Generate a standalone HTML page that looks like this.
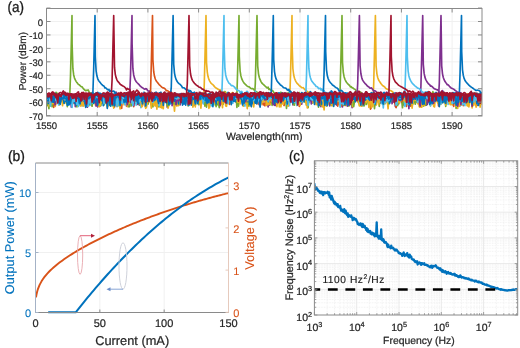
<!DOCTYPE html>
<html><head><meta charset="utf-8"><title>Figure</title>
<style>html,body{margin:0;padding:0;background:#fff;width:520px;height:348px;overflow:hidden}svg{display:block}</style>
</head><body>
<svg width="520" height="348" viewBox="0 0 520 348" text-rendering="geometricPrecision" font-family='"Liberation Sans", Arial, Helvetica, sans-serif'><text x="7.6" y="12.3" font-size="15" textLength="16.5" lengthAdjust="spacingAndGlyphs" fill="#1a1a1a" stroke="#1a1a1a" stroke-width="0.3">(a)</text>
<path d="M97.2,8.5V116.0 M147.9,8.5V116.0 M198.6,8.5V116.0 M249.3,8.5V116.0 M300,8.5V116.0 M350.7,8.5V116.0 M401.4,8.5V116.0 M452.1,8.5V116.0 M46.5,21.5H482.0 M46.5,34.94H482.0 M46.5,48.38H482.0 M46.5,61.82H482.0 M46.5,75.26H482.0 M46.5,88.7H482.0 M46.5,102.14H482.0" stroke="#f0f0f0" stroke-width="1" fill="none"/>
<clipPath id="ca"><rect x="46.5" y="8.5" width="435.5" height="107.5"/></clipPath>
<g clip-path="url(#ca)" fill="none" stroke-width="1.65" stroke-linejoin="round">
<polyline stroke="#7E2F8E" points="46.5,96.29 47.3,96.5 48.1,101.64 48.9,100.63 49.7,103.09 50.5,97.12 51.3,97.67 52.1,99.07 52.9,99.09 53.7,98.94 54.5,97.8 55.3,96.42 56.1,97.16 56.9,96.76 57.7,95.99 58.5,97.03 59.3,104.52 60.1,96.65 60.9,97.43 61.7,98.32 62.5,96.57 63.3,95.93 64.1,97.35 64.9,99.58 65.7,96.46 66.5,96.2 67.3,93.99 68.1,95.2 68.9,97.81 69.7,97.08 70.5,96.07 71.3,96.17 72.1,96.02 72.9,95.95 73.7,100.48 74.5,94.84 75.3,96.57 76.1,97.26 76.9,97.16 77.7,97.7 78.5,98.66 79.3,98.47 80.1,96.81 80.9,94.92 81.7,95.51 82.5,98.31 83.3,98.29 84.1,100.85 84.9,99.32 85.7,106.78 86.5,96.36 87.3,94.68 88.1,103.26 88.9,96.99 89.7,97.65 90.5,96.32 91.3,95.17 92.1,96.52 92.9,97.22 93.7,96.58 94.5,96.82 95.3,97.86 96.1,98.4 96.9,97.83 97.7,96.58 98.5,95.06 99.3,95.12 100.1,95.91 100.9,101.21 101.7,96.06 102.5,95.58 103.3,95.67 104.1,96.85 104.9,97.87 105.7,98.3 106.5,100.17 107.3,100.84 108.1,99.15 108.9,98.07 109.7,103.73 110.5,94.2 111.3,96.79 112.1,98.02 112.9,101.61 113.7,96.08 114.5,96.81 115.3,96.69 116.1,95.61 116.9,96.29 117.7,97.86 118.5,97.54 119.3,105.39 120.1,97.98 120.9,97.7 121.7,97.09 122.5,95.9 123.3,99.31 124.1,96.91 124.9,97.58 125.7,98.66 126.5,106.13 127.3,99.38 128.1,98.47 128.9,98.81 129.7,106.43 130.5,98.03 131.3,97.49 132.1,96.87 132.9,96.2 133.7,97.1 134.5,97.9 135.3,103.22 136.1,94.03 136.9,96.07 137.7,104.41 138.5,97.82 139.3,97.44 140.1,96.31 140.9,96.79 141.7,97.73 142.5,98.29 143.3,99 144.1,98.06 144.9,96.04 145.7,95.48 146.5,95.56 147.3,96.56 148.1,97.91 148.9,98.05 149.7,97.73 150.5,97.38 151.3,97.46 152.1,98.35 152.9,99.36 153.7,97.66 154.5,95.53 155.3,97.26 156.1,98.41 156.9,96.07 157.7,95.62 158.5,100.7 159.3,98.45 160.1,98.94 160.9,104.53 161.7,96.98 162.5,96.25 163.3,97.19 164.1,97.42 164.9,102.08 165.7,97.28 166.5,98.06 167.3,99.17 168.1,98.25 168.9,101.8 169.7,96.35 170.5,96.74 171.3,96.91 172.1,97.72 172.9,97.32 173.7,96.46 174.5,96.85 175.3,97.16 176.1,96.05 176.9,102.86 177.7,94.8 178.5,96.17 179.3,98.19 180.1,104.98 180.9,95.77 181.7,94.92 182.5,95.94 183.3,95.61 184.1,94.79 184.9,94.5 185.7,95.27 186.5,95.74 187.3,102.84 188.1,96.84 188.9,96.11 189.7,94.93 190.5,94 191.3,92.65 192.1,94.28 192.9,106.02 193.7,99.25 194.5,97.48 195.3,97.59 196.1,96.9 196.9,96.75 197.7,99.83 198.5,100.53 199.3,97.8 200.1,96.7 200.9,97.04 201.7,97.46 202.5,98.91 203.3,99.49 204.1,98.66 204.9,99.29 205.7,99.29 206.5,97.23 207.3,96.23 208.1,96.92 208.9,98.26 209.7,98.98 210.5,99.14 211.3,98.5 212.1,102.26 212.9,103.09 213.7,96.58 214.5,94.71 215.3,101.3 216.1,96.68 216.9,96.57 217.7,103.08 218.5,97.82 219.3,99.03 220.1,97.86 220.9,96.13 221.7,96.32 222.5,96.91 223.3,96.32 224.1,95.42 224.9,97.5 225.7,100.2 226.5,100.5 227.3,102.06 228.1,102.81 228.9,98.77 229.7,95.3 230.5,96.59 231.3,98.94 232.1,98.06 232.9,95.77 233.7,95.76 234.5,96.63 235.3,96.78 236.1,96.21 236.9,95.28 237.7,95.34 238.5,96.8 239.3,101.21 240.1,97.24 240.9,96.61 241.7,96.61 242.5,97.83 243.3,97.81 244.1,97.76 244.9,97.39 245.7,94.36 246.5,93.96 247.3,95.89 248.1,95.78 248.9,97.49 249.7,99.85 250.5,104.81 251.3,96.62 252.1,97.42 252.9,98.34 253.7,97.97 254.5,100.9 255.3,95.06 256.1,95.52 256.9,95.52 257.7,95.09 258.5,96.74 259.3,98.88 260.1,98.41 260.9,95.23 261.7,99.29 262.5,94.43 263.3,95.17 264.1,96.02 264.9,96.57 265.7,97.09 266.5,97.17 267.3,95.81 268.1,94.32 268.9,95.04 269.7,105.26 270.5,98.01 271.3,96.93 272.1,94.7 272.9,94.96 273.7,96.57 274.5,105.13 275.3,105.44 276.1,97.01 276.9,100.39 277.7,96.86 278.5,97.48 279.3,101.87 280.1,102.5 280.9,98.99 281.7,98.73 282.5,97.48 283.3,96.67 284.1,104.66 284.9,95.48 285.7,94.54 286.5,96.57 287.3,97.65 288.1,102.67 288.9,97.31 289.7,102.85 290.5,95.46 291.3,97.13 292.1,95.89 292.9,97.91 293.7,103.86 294.5,97.88 295.3,98.97 296.1,98.23 296.9,96.4 297.7,100.26 298.5,94.89 299.3,93.81 300.1,95.02 300.9,94.53 301.7,97.97 302.5,96.11 303.3,98.6 304.1,98.95 304.9,96.62 305.7,94.1 306.5,95.11 307.3,101.84 308.1,98.89 308.9,101.14 309.7,96.85 310.5,96.7 311.3,96.41 312.1,96.42 312.9,96.99 313.7,96.88 314.5,100.14 315.3,96.4 316.1,94.89 316.9,93.51 317.7,94.67 318.5,97.42 319.3,98.73 320.1,98.68 320.9,106.7 321.7,99.39 322.5,96.09 323.3,95.34 324.1,97.64 324.9,99.41 325.7,98.87 326.5,97.5 327.3,94.85 328.1,93.16 328.9,95.48 329.7,105.97 330.5,102 331.3,97.74 332.1,97.81 332.9,101.66 333.7,98.15 334.5,97.49 335.3,95.33 336.1,93.86 336.9,94.91 337.7,96.33 338.5,96.48 339.3,96.86 340.1,97.6 340.9,98.35 341.7,99.71 342.5,99.04 343.3,96.8 344.1,96.34 344.9,101.51 345.7,96.44 346.5,98.95 347.3,98.86 348.1,96.79 348.9,96.37 349.7,100.87 350.5,95.49 351.3,96.61 352.1,107.57 352.9,98.29 353.7,98.88 354.5,96.88 355.3,98.1 356.1,95.83 356.9,94.15 357.7,94.81 358.5,96.58 359.3,98.18 360.1,96.77 360.9,94.23 361.7,94.23 362.5,95.18 363.3,96.46 364.1,98.1 364.9,99.16 365.7,97.74 366.5,96.54 367.3,97.06 368.1,95.94 368.9,102.98 369.7,98.28 370.5,98.45 371.3,97.75 372.1,97.5 372.9,103.49 373.7,98.44 374.5,98.42 375.3,104.72 376.1,99.22 376.9,97.1 377.7,96.64 378.5,98.22 379.3,98.22 380.1,98.29 380.9,97.94 381.7,96.62 382.5,95.88 383.3,95.62 384.1,96.55 384.9,96.92 385.7,97.32 386.5,97.54 387.3,96.59 388.1,96.17 388.9,96.09 389.7,97.15 390.5,98.32 391.3,97.6 392.1,103.79 392.9,96.05 393.7,97.36 394.5,98.58 395.3,98.67 396.1,97.77 396.9,98.99 397.7,99.96 398.5,97.31 399.3,96.34 400.1,98.8 400.9,99.75 401.7,99.25 402.5,98.53 403.3,97.56 404.1,98.08 404.9,97.88 405.7,96.97 406.5,97.1 407.3,97.34 408.1,98.59 408.9,108.75 409.7,98.79 410.5,95.71 411.3,102.88 412.1,96.67 412.9,96.53 413.7,101.48 414.5,95.31 415.3,94.86 416.1,102.28 416.9,100.24 417.7,100.07 418.5,98.74 419.3,103.17 420.1,95.81 420.9,98.44 421.7,99.52 422.5,97.24 423.3,97.03 424.1,99.26 424.9,98.67 425.7,97.16 426.5,96.81 427.3,97.71 428.1,102.55 428.9,99.64 429.7,98.16 430.5,95.01 431.3,95 432.1,97.34 432.9,99.48 433.7,100.16 434.5,98.59 435.3,97.13 436.1,96.96 436.9,97.7 437.7,98.38 438.5,97.4 439.3,83.41 440.1,51.87 440.9,19.62 441,15.59 441.7,66.01 442.5,73.82 443.3,77.5 444.1,79.73 444.9,81.29 445.7,82.48 446.5,83.45 447.3,84.69 448.1,84.91 448.9,85.65 449.7,86.83 450.5,87.23 451.3,88.23 452.1,88.36 452.9,88.79 453.7,89.14 454.5,89.82 455.3,90.59 456.1,91.05 456.9,91.65 457.7,92.03 458.5,92.55 459.3,94.52 460.1,92.94 460.9,92.66 461.7,95.2 462.5,93.81 463.3,94.37 464.1,94.82 464.9,94.89 465.7,94.82 466.5,95.16 467.3,99.08 468.1,97.09 468.9,94.78 469.7,95.4 470.5,95.48 471.3,95.89 472.1,96.69 472.9,95.85 473.7,94.97 474.5,95.07 475.3,99.49 476.1,96.58 476.9,96.27 477.7,95.16 478.5,95.05 479.3,99.84 480.1,97.53 480.9,95.76 481.7,94.45"/>
<polyline stroke="#7E2F8E" points="46.5,96.29 47.3,95.72 48.1,96.55 48.9,97.55 49.7,98.6 50.5,98.94 51.3,96.57 52.1,94.47 52.9,104.18 53.7,98.13 54.5,97.99 55.3,105.29 56.1,95.87 56.9,94.69 57.7,93.73 58.5,94.12 59.3,94.49 60.1,95.01 60.9,96.73 61.7,98.38 62.5,97.95 63.3,97.11 64.1,98.58 64.9,99.23 65.7,97.29 66.5,96.99 67.3,97.78 68.1,97.55 68.9,96.97 69.7,97.22 70.5,98.82 71.3,107.21 72.1,96.9 72.9,99.33 73.7,97.56 74.5,98.35 75.3,106.78 76.1,96.61 76.9,95.93 77.7,96.37 78.5,100.01 79.3,94.91 80.1,96.28 80.9,97 81.7,99.37 82.5,100.94 83.3,105.32 84.1,98.4 84.9,97.82 85.7,97.61 86.5,98.41 87.3,107.26 88.1,103.5 88.9,98.78 89.7,98.88 90.5,98.54 91.3,104.9 92.1,100.06 92.9,102.4 93.7,97.06 94.5,95.6 95.3,96.28 96.1,104.71 96.9,99.11 97.7,106.96 98.5,98.15 99.3,98.37 100.1,96.79 100.9,97.11 101.7,97.91 102.5,96.14 103.3,94.92 104.1,94.9 104.9,95.03 105.7,95.05 106.5,94.18 107.3,102.63 108.1,95.09 108.9,94.79 109.7,95.52 110.5,97.16 111.3,103.56 112.1,97.25 112.9,101.26 113.7,97.57 114.5,96.54 115.3,95.67 116.1,97.64 116.9,99.61 117.7,97.95 118.5,96.47 119.3,97.29 120.1,98.75 120.9,99.45 121.7,97.9 122.5,102.69 123.3,97.28 124.1,98.19 124.9,103.61 125.7,96.07 126.5,96.46 127.3,97.88 128.1,96.71 128.9,94.72 129.7,96.85 130.5,98.46 131.3,98.3 132.1,97.52 132.9,94.69 133.7,94.12 134.5,97.71 135.3,98.77 136.1,95.6 136.9,93.93 137.7,94.14 138.5,98.28 139.3,105.18 140.1,98.5 140.9,99.69 141.7,98.94 142.5,96.85 143.3,95.48 144.1,94.1 144.9,95.56 145.7,97.04 146.5,94.91 147.3,93.48 148.1,101.71 148.9,97.82 149.7,96.16 150.5,95 151.3,97.02 152.1,97.45 152.9,100.96 153.7,96.63 154.5,98.41 155.3,98.52 156.1,97.84 156.9,96.8 157.7,95.64 158.5,94.67 159.3,96.09 160.1,98.11 160.9,96.66 161.7,94.98 162.5,98.07 163.3,95.44 164.1,97.45 164.9,97.79 165.7,96.87 166.5,99.02 167.3,107.39 168.1,97.32 168.9,97.25 169.7,98.6 170.5,99.74 171.3,100.26 172.1,99.45 172.9,97.78 173.7,98.05 174.5,99.1 175.3,98.09 176.1,98.56 176.9,98.54 177.7,96.62 178.5,97.44 179.3,97.64 180.1,95.9 180.9,96.51 181.7,96.88 182.5,95.38 183.3,102.72 184.1,95.75 184.9,96.21 185.7,96.33 186.5,96.27 187.3,97.28 188.1,96.49 188.9,94.25 189.7,94.99 190.5,94.9 191.3,93.43 192.1,95.32 192.9,97.12 193.7,97.12 194.5,97.1 195.3,95.23 196.1,94.77 196.9,97.15 197.7,97.87 198.5,96.94 199.3,97.28 200.1,97.69 200.9,98.03 201.7,99.42 202.5,98.99 203.3,97.78 204.1,97.2 204.9,97.36 205.7,97.81 206.5,96.92 207.3,97.05 208.1,98.68 208.9,99.83 209.7,99.03 210.5,103.61 211.3,97.77 212.1,96.61 212.9,94.6 213.7,93.61 214.5,94.17 215.3,96.84 216.1,97.74 216.9,95.91 217.7,94.91 218.5,95.04 219.3,95.19 220.1,94.58 220.9,94.34 221.7,94.89 222.5,95.34 223.3,95.73 224.1,96.03 224.9,95.64 225.7,95.63 226.5,95.62 227.3,94.85 228.1,95.08 228.9,95.57 229.7,96.39 230.5,95.79 231.3,94.41 232.1,96.67 232.9,99.17 233.7,98.8 234.5,96.22 235.3,93.94 236.1,94.41 236.9,96.04 237.7,97.25 238.5,96.51 239.3,94.41 240.1,97.48 240.9,96.08 241.7,96.22 242.5,96.64 243.3,102.92 244.1,97.65 244.9,98.69 245.7,99.66 246.5,97.16 247.3,95.93 248.1,97.89 248.9,97.86 249.7,95.5 250.5,94.73 251.3,94.27 252.1,100.34 252.9,95.97 253.7,96.18 254.5,96.58 255.3,97.07 256.1,96.92 256.9,96.07 257.7,95.18 258.5,95.95 259.3,97.07 260.1,97.01 260.9,97.09 261.7,98.08 262.5,103.16 263.3,97.55 264.1,97.64 264.9,97.71 265.7,96.32 266.5,93.59 267.3,93.33 268.1,95.3 268.9,95.06 269.7,93.64 270.5,94.92 271.3,96.46 272.1,96.21 272.9,103.01 273.7,94.68 274.5,94.43 275.3,94.55 276.1,96.07 276.9,97.1 277.7,96.42 278.5,95.22 279.3,96.03 280.1,96.44 280.9,94.72 281.7,95.2 282.5,97.65 283.3,98.91 284.1,98.78 284.9,97.58 285.7,97.04 286.5,97.76 287.3,98.18 288.1,105.75 288.9,101.89 289.7,95.54 290.5,95.67 291.3,98.42 292.1,98.5 292.9,104.82 293.7,97.02 294.5,97.81 295.3,98.3 296.1,97.79 296.9,96.46 297.7,96.27 298.5,96.67 299.3,96.54 300.1,97.89 300.9,98.62 301.7,104.08 302.5,96.08 303.3,96.12 304.1,94.72 304.9,99.23 305.7,97.94 306.5,97.51 307.3,94.26 308.1,94.31 308.9,97.6 309.7,99.28 310.5,98.75 311.3,98.93 312.1,99.21 312.9,98.65 313.7,99.28 314.5,98.64 315.3,96.81 316.1,97.11 316.9,96.9 317.7,95.42 318.5,95.47 319.3,96.64 320.1,97.49 320.9,96.67 321.7,94.53 322.5,95.46 323.3,97.81 324.1,97.02 324.9,95.48 325.7,94.41 326.5,93.06 327.3,94.05 328.1,96.63 328.9,98.11 329.7,98.38 330.5,97.19 331.3,94.58 332.1,92.96 332.9,96.22 333.7,99.96 334.5,99 335.3,97.91 336.1,98.96 336.9,99.02 337.7,97.61 338.5,96.66 339.3,103.69 340.1,97.54 340.9,96.67 341.7,97.3 342.5,98.72 343.3,99.48 344.1,98.31 344.9,102.84 345.7,101.75 346.5,97.46 347.3,96.1 348.1,96.63 348.9,97.45 349.7,97.22 350.5,95.01 351.3,94.25 352.1,96.89 352.9,103.91 353.7,98.69 354.5,95 355.3,93.61 356.1,94.38 356.9,95.3 357.7,101.77 358.5,97.43 359.3,96.61 360.1,97.22 360.9,97.9 361.7,95.64 362.5,95.13 363.3,98.33 364.1,99.12 364.9,97.64 365.7,99 366.5,99.85 367.3,97.17 368.1,100.33 368.9,103.12 369.7,94.15 370.5,95.66 371.3,97.62 372.1,97.83 372.9,98.61 373.7,98.23 374.5,102.86 375.3,97.55 376.1,96.62 376.9,94.25 377.7,93.95 378.5,94.75 379.3,95.19 380.1,103.13 380.9,94.49 381.7,94.56 382.5,94.92 383.3,96.97 384.1,98.67 384.9,99.02 385.7,102.78 386.5,95.32 387.3,94.91 388.1,104.24 388.9,97.44 389.7,97.74 390.5,98.8 391.3,98.82 392.1,98.65 392.9,98.98 393.7,97.77 394.5,97.1 395.3,106.52 396.1,107.02 396.9,98.05 397.7,96.08 398.5,103.82 399.3,95.17 400.1,95.16 400.9,97.63 401.7,97.86 402.5,94.98 403.3,94.37 404.1,105.06 404.9,97.09 405.7,95.33 406.5,94.26 407.3,94.23 408.1,95.82 408.9,97.26 409.7,96.67 410.5,95.28 411.3,97.82 412.1,100.31 412.9,98.51 413.7,95.75 414.5,94.51 415.3,95.94 416.1,96.61 416.9,94.91 417.7,94.28 418.5,101.86 419.3,103.56 420.1,95.49 420.9,86.96 421.7,55.9 422.5,23.65 422.7,15.59 423.3,64.33 424.1,73.19 424.9,77.12 425.7,79.37 426.5,80.87 427.3,82.24 428.1,83.35 428.9,84.16 429.7,84.74 430.5,86.21 431.3,85.96 432.1,86.64 432.9,87.44 433.7,88.25 434.5,88.87 435.3,89.04 436.1,89.42 436.9,89.91 437.7,89.81 438.5,90.95 439.3,92.37 440.1,92.69 440.9,92.54 441.7,91.27 442.5,90.56 443.3,92.44 444.1,93.51 444.9,93.58 445.7,93.34 446.5,92.72 447.3,93.23 448.1,98.18 448.9,94.04 449.7,94.8 450.5,96.58 451.3,93.35 452.1,94.36 452.9,96.31 453.7,96.92 454.5,96.46 455.3,95.33 456.1,95.2 456.9,96.37 457.7,95.74 458.5,94.62 459.3,94.7 460.1,94.24 460.9,93.67 461.7,94.1 462.5,94.49 463.3,93.88 464.1,101.17 464.9,101.17 465.7,99.87 466.5,96.06 467.3,101.49 468.1,98.95 468.9,99.59 469.7,98.53 470.5,97.26 471.3,97.22 472.1,100.39 472.9,95.43 473.7,95.4 474.5,97.13 475.3,98.12 476.1,98.74 476.9,98.87 477.7,98 478.5,97.03 479.3,97.73 480.1,98.71 480.9,98.44 481.7,97.94"/>
<polyline stroke="#7E2F8E" points="46.5,102.37 47.3,98.69 48.1,104.5 48.9,97.82 49.7,98.11 50.5,94.91 51.3,95.87 52.1,95.67 52.9,98.54 53.7,94.62 54.5,95.4 55.3,96.51 56.1,96.52 56.9,97.9 57.7,99.52 58.5,99.17 59.3,102.93 60.1,96.71 60.9,101.61 61.7,96.4 62.5,101.99 63.3,96.85 64.1,97.18 64.9,94.62 65.7,93.79 66.5,96.52 67.3,99.28 68.1,98.33 68.9,96.33 69.7,95.28 70.5,95.58 71.3,97.1 72.1,97.19 72.9,96.26 73.7,98.64 74.5,103.28 75.3,95.86 76.1,97.89 76.9,104.38 77.7,104 78.5,102.52 79.3,97.74 80.1,94.94 80.9,93.97 81.7,96.19 82.5,102.52 83.3,98.08 84.1,96.79 84.9,95.06 85.7,95.03 86.5,96.16 87.3,98.32 88.1,103.25 88.9,99.9 89.7,98.53 90.5,96.95 91.3,96.92 92.1,98.04 92.9,96.77 93.7,95.56 94.5,97.62 95.3,98.8 96.1,98.16 96.9,101.25 97.7,101.55 98.5,95.17 99.3,95.27 100.1,105.81 100.9,97.96 101.7,96.78 102.5,96.97 103.3,97.3 104.1,96.67 104.9,95.96 105.7,96.8 106.5,97.25 107.3,96.78 108.1,99.65 108.9,96.25 109.7,95.54 110.5,102.12 111.3,96.57 112.1,97.39 112.9,98.7 113.7,99.26 114.5,98.6 115.3,97.69 116.1,98.31 116.9,98.51 117.7,96.8 118.5,97.08 119.3,97.64 120.1,99.9 120.9,95.66 121.7,96.17 122.5,101.38 123.3,96.36 124.1,96.05 124.9,94.94 125.7,96.8 126.5,97.05 127.3,96.41 128.1,102.43 128.9,97.36 129.7,94.16 130.5,75.8 131.3,43.81 132,15.59 132.1,43.73 132.9,68.7 133.7,74.94 134.5,78.16 135.3,80.11 136.1,81.46 136.9,82.49 137.7,83.26 138.5,84.06 139.3,84.93 140.1,85.84 140.9,86.69 141.7,87.23 142.5,87.68 143.3,88.29 144.1,88.91 144.9,89.25 145.7,88.68 146.5,88.73 147.3,90.18 148.1,90.99 148.9,91.1 149.7,90.95 150.5,91.44 151.3,92.38 152.1,92.9 152.9,93.45 153.7,93.82 154.5,93.79 155.3,93.98 156.1,93.9 156.9,93.45 157.7,93.42 158.5,93.68 159.3,94.31 160.1,95.11 160.9,95.11 161.7,100.45 162.5,95.27 163.3,94.8 164.1,95.64 164.9,97.2 165.7,97.35 166.5,96.67 167.3,96.52 168.1,98.11 168.9,99.24 169.7,97.68 170.5,95.94 171.3,96.68 172.1,97.19 172.9,97.93 173.7,98.99 174.5,97.43 175.3,95.84 176.1,102.86 176.9,95.55 177.7,96.27 178.5,96.9 179.3,96.72 180.1,95.05 180.9,93.57 181.7,94.68 182.5,96.42 183.3,97.68 184.1,96.96 184.9,95.86 185.7,97.63 186.5,98.52 187.3,102.18 188.1,95.92 188.9,101.51 189.7,98.16 190.5,97.2 191.3,96.17 192.1,98.02 192.9,97.9 193.7,101.97 194.5,94.8 195.3,97.8 196.1,98.66 196.9,95.39 197.7,94.21 198.5,97.54 199.3,98.82 200.1,104.59 200.9,95.21 201.7,95.33 202.5,96.22 203.3,97.48 204.1,96.53 204.9,94.06 205.7,95.21 206.5,99.16 207.3,98.15 208.1,95.18 208.9,96.89 209.7,102.69 210.5,97.65 211.3,96.89 212.1,97.2 212.9,97.59 213.7,97.72 214.5,97.28 215.3,97.09 216.1,97.74 216.9,97.71 217.7,100.97 218.5,94.8 219.3,95.4 220.1,103.48 220.9,95.79 221.7,99.55 222.5,98.03 223.3,94.11 224.1,93.08 224.9,93.74 225.7,99.14 226.5,96.7 227.3,95.46 228.1,95.49 228.9,97.47 229.7,99.95 230.5,99.89 231.3,101.69 232.1,94.92 232.9,99.88 233.7,97.2 234.5,96.55 235.3,96.48 236.1,96.28 236.9,96.44 237.7,97.9 238.5,99.42 239.3,100.48 240.1,100.52 240.9,99.44 241.7,97.3 242.5,95.74 243.3,95.22 244.1,96.06 244.9,97.1 245.7,96.95 246.5,96.61 247.3,100.15 248.1,96.56 248.9,97.83 249.7,101.01 250.5,96.86 251.3,96.5 252.1,94.59 252.9,94.08 253.7,96.31 254.5,98.94 255.3,100.05 256.1,98.69 256.9,98.84 257.7,99.71 258.5,97.4 259.3,96.24 260.1,106.1 260.9,98.37 261.7,102.01 262.5,97.37 263.3,98.46 264.1,96.86 264.9,94.3 265.7,95.05 266.5,96.17 267.3,97.4 268.1,106.98 268.9,97.29 269.7,96.9 270.5,97.6 271.3,96.13 272.1,94.13 272.9,95.53 273.7,104.61 274.5,100.18 275.3,98.83 276.1,95.98 276.9,103.15 277.7,95.98 278.5,98.22 279.3,98.84 280.1,97.35 280.9,97.13 281.7,97.72 282.5,96.69 283.3,95.63 284.1,96.7 284.9,99.39 285.7,100.43 286.5,98.39 287.3,101.69 288.1,97.27 288.9,97.95 289.7,97.48 290.5,96.28 291.3,100.86 292.1,97.26 292.9,98.38 293.7,98.12 294.5,97.61 295.3,98.82 296.1,99.32 296.9,97.22 297.7,95.23 298.5,94.71 299.3,94.75 300.1,96.15 300.9,101.62 301.7,102.69 302.5,97.49 303.3,94.99 304.1,94.85 304.9,95.07 305.7,95.32 306.5,96.42 307.3,96.95 308.1,96.27 308.9,95.46 309.7,100.08 310.5,95.68 311.3,96.73 312.1,97.85 312.9,98.25 313.7,97.51 314.5,97.44 315.3,99.04 316.1,96.85 316.9,93.92 317.7,96.37 318.5,98.51 319.3,96.67 320.1,95.14 320.9,98.4 321.7,95.97 322.5,104.74 323.3,100.46 324.1,92.73 324.9,94.9 325.7,97.75 326.5,97.51 327.3,96.29 328.1,95.43 328.9,102.54 329.7,97 330.5,98.22 331.3,101.23 332.1,97 332.9,102 333.7,99.31 334.5,99 335.3,98.13 336.1,98.26 336.9,105.24 337.7,97.57 338.5,97.3 339.3,98.59 340.1,103.01 340.9,97.71 341.7,97.81 342.5,106.81 343.3,100.02 344.1,99.5 344.9,102.58 345.7,96.33 346.5,96.94 347.3,97.56 348.1,96.49 348.9,94.1 349.7,93.47 350.5,95.52 351.3,98.52 352.1,98.4 352.9,96.17 353.7,96.46 354.5,101.92 355.3,97.32 356.1,97.7 356.9,96.55 357.7,95.89 358.5,96.55 359.3,96.99 360.1,96.99 360.9,96.72 361.7,95.19 362.5,93.99 363.3,94.43 364.1,95.02 364.9,97.37 365.7,99.4 366.5,97.63 367.3,96.5 368.1,97 368.9,98 369.7,99.17 370.5,97.97 371.3,95.28 372.1,94.83 372.9,97.25 373.7,97.41 374.5,96.01 375.3,95.57 376.1,94.53 376.9,95.89 377.7,97.25 378.5,102.62 379.3,94.78 380.1,96.5 380.9,95.81 381.7,95.09 382.5,95.2 383.3,97.33 384.1,98.79 384.9,96.52 385.7,93.77 386.5,92.16 387.3,92.57 388.1,94.83 388.9,96.96 389.7,97.81 390.5,98.06 391.3,98.25 392.1,99.39 392.9,100.23 393.7,98.24 394.5,94.95 395.3,92.82 396.1,94.34 396.9,96.51 397.7,97.14 398.5,98.43 399.3,99.64 400.1,98.7 400.9,95.68 401.7,95.79 402.5,97.98 403.3,104.32 404.1,95.19 404.9,95.2 405.7,96.49 406.5,98.08 407.3,98.12 408.1,96.44 408.9,98.71 409.7,98 410.5,98.05 411.3,96.6 412.1,96.52 412.9,95.77 413.7,95.12 414.5,94.24 415.3,93.36 416.1,99.11 416.9,95.87 417.7,97.94 418.5,97.87 419.3,95.33 420.1,93.33 420.9,92.3 421.7,97.94 422.5,94.65 423.3,95.6 424.1,95.26 424.9,96.1 425.7,97.53 426.5,105.08 427.3,100.99 428.1,97.19 428.9,100.86 429.7,97.58 430.5,96.93 431.3,96.84 432.1,97.38 432.9,103.44 433.7,104.35 434.5,96.01 435.3,97 436.1,101.24 436.9,98.91 437.7,99.97 438.5,97.61 439.3,96.72 440.1,97.57 440.9,97.27 441.7,98.12 442.5,98.64 443.3,97.88 444.1,96.13 444.9,95.18 445.7,104.17 446.5,96.15 447.3,96.26 448.1,99.91 448.9,100.04 449.7,97.49 450.5,96.77 451.3,95.8 452.1,95.22 452.9,97.21 453.7,100.27 454.5,101 455.3,98.94 456.1,97.66 456.9,96.81 457.7,101.71 458.5,97.31 459.3,98.34 460.1,93.58 460.9,95.69 461.7,98.05 462.5,98.47 463.3,98.05 464.1,103.14 464.9,98.26 465.7,96.78 466.5,95.91 467.3,103.71 468.1,101.65 468.9,95.24 469.7,97.48 470.5,100.74 471.3,99.5 472.1,96.62 472.9,95.7 473.7,102.89 474.5,97.74 475.3,97.37 476.1,96.61 476.9,97.32 477.7,98.37 478.5,97.79 479.3,96.87 480.1,98.23 480.9,98.95 481.7,102.21"/>
<polyline stroke="#77AC30" points="46.5,101.04 47.3,102.25 48.1,102.89 48.9,108.71 49.7,97.68 50.5,102.91 51.3,96.78 52.1,95.19 52.9,94.98 53.7,95.92 54.5,94.37 55.3,93.56 56.1,102.53 56.9,97.2 57.7,95.98 58.5,96.66 59.3,97.72 60.1,97.63 60.9,97.1 61.7,95.57 62.5,94.59 63.3,94.62 64.1,96.1 64.9,97.95 65.7,97.33 66.5,96.37 67.3,95.16 68.1,93.68 68.9,95.92 69.7,97.35 70.5,99.99 71.3,95.41 72.1,96.86 72.9,97.21 73.7,96.19 74.5,95.25 75.3,95.78 76.1,96.77 76.9,96.22 77.7,95.23 78.5,97.65 79.3,101.4 80.1,100.96 80.9,98.96 81.7,97.88 82.5,96.46 83.3,95.39 84.1,95.8 84.9,96.91 85.7,96.04 86.5,95.2 87.3,96.6 88.1,96.12 88.9,102.14 89.7,97.02 90.5,99.43 91.3,98.3 92.1,97.51 92.9,96.87 93.7,95.52 94.5,96.01 95.3,96.61 96.1,95.85 96.9,95.91 97.7,96.53 98.5,96.52 99.3,101.02 100.1,97.76 100.9,98 101.7,98.08 102.5,99.28 103.3,98.63 104.1,96.43 104.9,96.63 105.7,97.45 106.5,102.42 107.3,97.21 108.1,101.94 108.9,97.61 109.7,97.58 110.5,96.92 111.3,96.78 112.1,105.82 112.9,99.76 113.7,99.22 114.5,101.87 115.3,97.15 116.1,97.92 116.9,97.82 117.7,106.5 118.5,99.26 119.3,100.4 120.1,99.7 120.9,97.98 121.7,96.29 122.5,96.2 123.3,96.65 124.1,95.98 124.9,98.26 125.7,101.93 126.5,100.71 127.3,96.76 128.1,96.69 128.9,98.6 129.7,99.34 130.5,98.23 131.3,96.14 132.1,95.17 132.9,102.96 133.7,97.81 134.5,103.15 135.3,97.86 136.1,97.25 136.9,96.68 137.7,95.4 138.5,95.69 139.3,95.79 140.1,96.9 140.9,97.84 141.7,106.04 142.5,96.81 143.3,95.27 144.1,95.01 144.9,96.03 145.7,95.93 146.5,102.87 147.3,96.56 148.1,104.15 148.9,96.46 149.7,97.13 150.5,97.96 151.3,97.39 152.1,97.07 152.9,106.9 153.7,103.62 154.5,97.67 155.3,97.02 156.1,100.53 156.9,96.03 157.7,94.57 158.5,96.73 159.3,99 160.1,97.37 160.9,95.86 161.7,96.09 162.5,95.44 163.3,95.29 164.1,96.34 164.9,97.56 165.7,98.18 166.5,97.79 167.3,96.88 168.1,96.12 168.9,96.43 169.7,97.22 170.5,96.99 171.3,101.59 172.1,99.58 172.9,99.8 173.7,98.86 174.5,98.13 175.3,97.81 176.1,98.25 176.9,98.03 177.7,96.63 178.5,97.41 179.3,99.14 180.1,98.97 180.9,97.49 181.7,102.31 182.5,96.86 183.3,97.91 184.1,97.41 184.9,97.38 185.7,96.3 186.5,94.93 187.3,95.22 188.1,95.09 188.9,95.7 189.7,96.54 190.5,95.04 191.3,94.42 192.1,95.95 192.9,97.09 193.7,96.32 194.5,96.38 195.3,96.03 196.1,94.03 196.9,94.98 197.7,96.93 198.5,104.6 199.3,95 200.1,94.6 200.9,94.76 201.7,94.1 202.5,95.15 203.3,98.11 204.1,99.23 204.9,98.64 205.7,103.67 206.5,94.67 207.3,95.97 208.1,98.28 208.9,97.52 209.7,96.29 210.5,97.2 211.3,97.4 212.1,97.99 212.9,98.83 213.7,97.06 214.5,95.75 215.3,96.78 216.1,106.7 216.9,99.2 217.7,102.62 218.5,105.04 219.3,99.93 220.1,95.69 220.9,93.74 221.7,94.64 222.5,97.64 223.3,97.32 224.1,95.46 224.9,95.46 225.7,94.4 226.5,100.47 227.3,96.95 228.1,97.78 228.9,97.76 229.7,98.88 230.5,99.28 231.3,97.74 232.1,102.75 232.9,97.28 233.7,98 234.5,98.79 235.3,98.26 236.1,97.61 236.9,99.7 237.7,99.19 238.5,97.74 239.3,98.21 240.1,96.4 240.9,95.6 241.7,97.29 242.5,98.16 243.3,106 244.1,97.12 244.9,96.51 245.7,95.85 246.5,94.82 247.3,94.66 248.1,100.76 248.9,96.16 249.7,98.13 250.5,97.24 251.3,97.25 252.1,97.83 252.9,100.17 253.7,95.88 254.5,96.96 255.3,83.61 256.1,51.87 256.9,19.62 257,15.59 257.7,66.01 258.5,73.83 259.3,77.53 260.1,79.7 260.9,81.34 261.7,82.81 262.5,83.64 263.3,84.38 264.1,85.07 264.9,85.81 265.7,86.51 266.5,87.51 267.3,87.99 268.1,87.2 268.9,89.36 269.7,89.11 270.5,89.83 271.3,90.32 272.1,90.43 272.9,90.98 273.7,92.29 274.5,93.01 275.3,93.46 276.1,93.87 276.9,94.05 277.7,94.47 278.5,94.74 279.3,94.05 280.1,94.09 280.9,95.31 281.7,95.49 282.5,95.05 283.3,95.42 284.1,95.46 284.9,94.36 285.7,98.5 286.5,94.48 287.3,94.45 288.1,92.67 288.9,92.99 289.7,95.52 290.5,95.75 291.3,95.31 292.1,96.22 292.9,96.26 293.7,96.47 294.5,97.34 295.3,98.06 296.1,98.8 296.9,99.29 297.7,97.95 298.5,94.08 299.3,92.53 300.1,93.99 300.9,97.53 301.7,94.47 302.5,93.85 303.3,100.07 304.1,95.57 304.9,97.13 305.7,97.22 306.5,98.02 307.3,105.23 308.1,98.82 308.9,96.41 309.7,96.16 310.5,96.88 311.3,94.59 312.1,94.13 312.9,100.33 313.7,97.86 314.5,96.73 315.3,95.99 316.1,97.56 316.9,104.36 317.7,98.61 318.5,107.27 319.3,97.42 320.1,95.2 320.9,95.34 321.7,95.47 322.5,95.39 323.3,95.65 324.1,96.91 324.9,98.18 325.7,97.93 326.5,96.46 327.3,94.36 328.1,100.47 328.9,95.93 329.7,98.26 330.5,98.64 331.3,96.88 332.1,95.13 332.9,95.74 333.7,97.43 334.5,97.54 335.3,103.07 336.1,96.14 336.9,96.89 337.7,95.86 338.5,94.88 339.3,95.06 340.1,94.12 340.9,94.28 341.7,95.61 342.5,95.96 343.3,97.22 344.1,98.45 344.9,98.6 345.7,98.14 346.5,97.01 347.3,99.25 348.1,95.79 348.9,106.13 349.7,100.48 350.5,99.95 351.3,99.18 352.1,106.15 352.9,98.09 353.7,96.64 354.5,96.36 355.3,98.35 356.1,98.05 356.9,98.35 357.7,99.25 358.5,97.49 359.3,96.98 360.1,98.25 360.9,100.91 361.7,93.57 362.5,96.7 363.3,100.39 364.1,106.05 364.9,103.86 365.7,97.93 366.5,103.57 367.3,98.21 368.1,97.42 368.9,106.07 369.7,99.8 370.5,99.37 371.3,97.62 372.1,95.93 372.9,96.14 373.7,97.24 374.5,97.18 375.3,95.47 376.1,94.67 376.9,96.28 377.7,96.43 378.5,96.48 379.3,106.32 380.1,97.41 380.9,97.1 381.7,97.27 382.5,102.58 383.3,94.62 384.1,95.06 384.9,96.51 385.7,95.44 386.5,94.6 387.3,96.89 388.1,103.39 388.9,95.7 389.7,95.9 390.5,96.04 391.3,95.96 392.1,95.15 392.9,95.06 393.7,100.33 394.5,97.06 395.3,97.35 396.1,97.73 396.9,98.19 397.7,98.17 398.5,95.76 399.3,93.22 400.1,92.86 400.9,94.94 401.7,96.56 402.5,96.23 403.3,104.14 404.1,96.46 404.9,95.42 405.7,96.78 406.5,105.06 407.3,102.1 408.1,103.76 408.9,98.13 409.7,97.47 410.5,96.78 411.3,95.23 412.1,95.73 412.9,98.51 413.7,98.96 414.5,98.7 415.3,99.69 416.1,99.37 416.9,97.91 417.7,98.47 418.5,99.85 419.3,98.62 420.1,97.62 420.9,99.03 421.7,98.13 422.5,94.76 423.3,95.4 424.1,99.34 424.9,99.79 425.7,98.34 426.5,98.66 427.3,98.59 428.1,97.55 428.9,98.39 429.7,101.63 430.5,102.6 431.3,99.59 432.1,96.72 432.9,97.82 433.7,99.21 434.5,97.16 435.3,96.04 436.1,97.23 436.9,97.46 437.7,95.97 438.5,95.13 439.3,95.78 440.1,96.37 440.9,97.11 441.7,98.31 442.5,98.46 443.3,97.62 444.1,97.55 444.9,97.06 445.7,95.74 446.5,95.29 447.3,96.71 448.1,98.31 448.9,97.85 449.7,98.11 450.5,99.2 451.3,98.02 452.1,95.54 452.9,104.23 453.7,98.32 454.5,99.15 455.3,98.21 456.1,96.65 456.9,96.22 457.7,99.23 458.5,100.76 459.3,98.72 460.1,97.22 460.9,96.46 461.7,94.66 462.5,94.1 463.3,96.59 464.1,99.29 464.9,99.71 465.7,97.44 466.5,96.02 467.3,96.14 468.1,95.73 468.9,95.31 469.7,94.88 470.5,96.4 471.3,98.78 472.1,99.75 472.9,100.8 473.7,100.33 474.5,97.38 475.3,94.5 476.1,93.99 476.9,96.08 477.7,98.25 478.5,98.14 479.3,96.31 480.1,96.37 480.9,97.23 481.7,96.63"/>
<polyline stroke="#EDB120" points="46.5,104 47.3,96.84 48.1,105.96 48.9,102.36 49.7,100.95 50.5,98.15 51.3,97.72 52.1,96.13 52.9,96.56 53.7,98.81 54.5,99.01 55.3,106.34 56.1,98.58 56.9,102.26 57.7,97.72 58.5,100.11 59.3,105 60.1,99.92 60.9,100.28 61.7,98.84 62.5,98.37 63.3,98.58 64.1,97.08 64.9,96.09 65.7,97.89 66.5,98.23 67.3,97.09 68.1,98.85 68.9,104.09 69.7,100.63 70.5,98.24 71.3,101.15 72.1,97.99 72.9,98.52 73.7,99.65 74.5,100.82 75.3,100.4 76.1,98.85 76.9,97.31 77.7,97.08 78.5,99.28 79.3,101.02 80.1,99.84 80.9,98.63 81.7,99.23 82.5,97.72 83.3,96.43 84.1,97.62 84.9,99.6 85.7,101.86 86.5,102.33 87.3,101.58 88.1,99.95 88.9,99.42 89.7,99.42 90.5,97.92 91.3,98.17 92.1,99.87 92.9,101.2 93.7,101.65 94.5,98.79 95.3,96.55 96.1,98.17 96.9,99.3 97.7,98.9 98.5,106.13 99.3,97.93 100.1,100.31 100.9,102.14 101.7,100.17 102.5,97.79 103.3,98.01 104.1,98.6 104.9,100.59 105.7,101.76 106.5,99.5 107.3,107.25 108.1,105.94 108.9,99.74 109.7,99.27 110.5,99.39 111.3,99.06 112.1,100.75 112.9,102.69 113.7,104.6 114.5,100.57 115.3,100.35 116.1,99.37 116.9,106.43 117.7,97.75 118.5,96.89 119.3,99.11 120.1,101.67 120.9,100.52 121.7,98.37 122.5,99.28 123.3,100.41 124.1,99.33 124.9,98.12 125.7,97.76 126.5,101.16 127.3,99.91 128.1,106.37 128.9,99.56 129.7,100.72 130.5,102.23 131.3,101.83 132.1,100.09 132.9,96.79 133.7,94.46 134.5,94.79 135.3,96.92 136.1,98.39 136.9,98.07 137.7,98.12 138.5,98.88 139.3,100.27 140.1,100.15 140.9,97.42 141.7,101.07 142.5,96.06 143.3,93.68 144.1,94.23 144.9,98.85 145.7,100.64 146.5,100.48 147.3,100.26 148.1,99.9 148.9,98.75 149.7,96.92 150.5,96.7 151.3,97.9 152.1,98.68 152.9,98.69 153.7,105.13 154.5,98.03 155.3,106.05 156.1,99.18 156.9,99.93 157.7,97.48 158.5,95.69 159.3,103.13 160.1,107.46 160.9,98.26 161.7,107.82 162.5,103.73 163.3,108.78 164.1,97.95 164.9,97.05 165.7,96.41 166.5,97.05 167.3,103.18 168.1,108.07 168.9,104.98 169.7,99.01 170.5,98.58 171.3,100.41 172.1,100.26 172.9,100.11 173.7,102.83 174.5,111.27 175.3,100.53 176.1,99.1 176.9,101.15 177.7,102.64 178.5,101.57 179.3,100.4 180.1,99.04 180.9,98.43 181.7,98.17 182.5,98.2 183.3,98.65 184.1,97.22 184.9,96.24 185.7,96.49 186.5,99.92 187.3,98.22 188.1,97.87 188.9,98.61 189.7,100.25 190.5,100.17 191.3,100.19 192.1,100.08 192.9,98.45 193.7,97.56 194.5,98.55 195.3,105.23 196.1,100.93 196.9,99.02 197.7,96.59 198.5,96.57 199.3,98.05 200.1,100.08 200.9,108.08 201.7,100.78 202.5,101.88 203.3,101.04 204.1,99.14 204.9,98.29 205.7,98.04 206.5,99.41 207.3,100.22 208.1,100.22 208.9,100.31 209.7,107.22 210.5,99.76 211.3,99.48 212.1,99.35 212.9,97.42 213.7,96.8 214.5,98.06 215.3,98.02 216.1,98.2 216.9,97.32 217.7,103.59 218.5,101.02 219.3,106.87 220.1,105.58 220.9,100.9 221.7,96.72 222.5,97.05 223.3,94.34 224.1,95.12 224.9,96.06 225.7,105.85 226.5,97.35 227.3,96.03 228.1,97.32 228.9,98.15 229.7,99.16 230.5,101.38 231.3,100.99 232.1,98.65 232.9,98.58 233.7,100.13 234.5,100.19 235.3,99.48 236.1,98.75 236.9,97.97 237.7,98.17 238.5,99.67 239.3,101.68 240.1,101.3 240.9,100.42 241.7,100.86 242.5,100.21 243.3,106.05 244.1,100.16 244.9,99.1 245.7,104.54 246.5,101.21 247.3,108.75 248.1,97.36 248.9,96.44 249.7,100.07 250.5,104.65 251.3,98.64 252.1,98.02 252.9,100.63 253.7,101.89 254.5,99.64 255.3,99.64 256.1,100.86 256.9,101.83 257.7,101.95 258.5,99.88 259.3,97.46 260.1,97.55 260.9,98.87 261.7,98.96 262.5,99.08 263.3,98.98 264.1,98.22 264.9,98.41 265.7,99.53 266.5,99.47 267.3,98.7 268.1,99.28 268.9,98.83 269.7,97.39 270.5,104.44 271.3,98.07 272.1,97.24 272.9,98.65 273.7,99.8 274.5,97.74 275.3,98.71 276.1,100.87 276.9,98.05 277.7,95.22 278.5,97.5 279.3,106.99 280.1,99.6 280.9,102.6 281.7,100.21 282.5,100.51 283.3,97.97 284.1,96.25 284.9,96.87 285.7,97.78 286.5,99.62 287.3,104.57 288.1,97.66 288.9,98.62 289.7,99.23 290.5,75.95 291.3,43.81 292,15.59 292.1,43.73 292.9,68.73 293.7,74.98 294.5,78.21 295.3,80.26 296.1,81.88 296.9,83.07 297.7,83.91 298.5,84.78 299.3,85.59 300.1,86.24 300.9,86.91 301.7,87.58 302.5,87.74 303.3,87.63 304.1,88.72 304.9,89.81 305.7,90.07 306.5,90.5 307.3,92.36 308.1,92.04 308.9,93.07 309.7,91.73 310.5,92.49 311.3,93.74 312.1,94.45 312.9,94.49 313.7,93.57 314.5,93.56 315.3,95.25 316.1,97.87 316.9,98.83 317.7,99.16 318.5,95.9 319.3,96.35 320.1,98.07 320.9,97.86 321.7,96.05 322.5,95.81 323.3,96.77 324.1,97.84 324.9,97.94 325.7,97.58 326.5,98.65 327.3,99.37 328.1,98.02 328.9,97.49 329.7,98.11 330.5,96.97 331.3,97.15 332.1,103.08 332.9,98.85 333.7,97.96 334.5,97.11 335.3,97.97 336.1,100.58 336.9,100.42 337.7,97.95 338.5,104.47 339.3,97.69 340.1,103.84 340.9,97.1 341.7,98.48 342.5,98.54 343.3,98.54 344.1,97.3 344.9,97.28 345.7,99.41 346.5,99.31 347.3,99.04 348.1,99.31 348.9,99.63 349.7,100.86 350.5,100.39 351.3,97.94 352.1,97.53 352.9,106.57 353.7,99.62 354.5,95.77 355.3,95.34 356.1,98.26 356.9,100.43 357.7,100.21 358.5,99.58 359.3,98.9 360.1,97.15 360.9,97.23 361.7,98.93 362.5,100.68 363.3,101.43 364.1,100.43 364.9,99.23 365.7,103.66 366.5,99.25 367.3,98.48 368.1,97.27 368.9,96.74 369.7,103.16 370.5,100.48 371.3,98.59 372.1,97.21 372.9,102.56 373.7,99.48 374.5,99.09 375.3,98.4 376.1,105.08 376.9,100.05 377.7,99.14 378.5,96.94 379.3,96 380.1,96.19 380.9,97.26 381.7,99.04 382.5,99.01 383.3,105 384.1,99.98 384.9,101.17 385.7,101.89 386.5,101.3 387.3,101.07 388.1,108.8 388.9,99.49 389.7,99.83 390.5,100.17 391.3,100.09 392.1,99.16 392.9,97.78 393.7,98.49 394.5,99.95 395.3,104.2 396.1,100.79 396.9,99.97 397.7,100.03 398.5,99.9 399.3,98.04 400.1,96.69 400.9,98.12 401.7,99.52 402.5,101.2 403.3,94.41 404.1,94.39 404.9,96.48 405.7,98.05 406.5,99.58 407.3,99.53 408.1,98.67 408.9,99.25 409.7,100.66 410.5,100.32 411.3,98.55 412.1,108.1 412.9,101.69 413.7,99.42 414.5,97.52 415.3,98.8 416.1,100.12 416.9,100.28 417.7,103.72 418.5,100.86 419.3,101.78 420.1,98.61 420.9,96.21 421.7,99.04 422.5,100.88 423.3,99.04 424.1,97.1 424.9,103.81 425.7,100.74 426.5,102.39 427.3,100.29 428.1,98.39 428.9,97.4 429.7,98.22 430.5,105.91 431.3,101.32 432.1,99.14 432.9,97.51 433.7,97.98 434.5,99.97 435.3,100.1 436.1,97.75 436.9,95 437.7,94.49 438.5,96.1 439.3,97.63 440.1,99.93 440.9,104.35 441.7,100.67 442.5,100.75 443.3,100.96 444.1,100.42 444.9,99.76 445.7,99.18 446.5,98.4 447.3,98.62 448.1,97.97 448.9,96.62 449.7,97.34 450.5,98.54 451.3,98.84 452.1,104.91 452.9,98.68 453.7,98.89 454.5,96.77 455.3,95.05 456.1,103.69 456.9,100 457.7,108.47 458.5,100.64 459.3,98.47 460.1,104.18 460.9,98.86 461.7,98.45 462.5,101.44 463.3,98.08 464.1,97.27 464.9,97.86 465.7,100.04 466.5,99.93 467.3,105.47 468.1,102.08 468.9,106.89 469.7,102.27 470.5,99.79 471.3,99.04 472.1,107.91 472.9,100.54 473.7,105.45 474.5,100.71 475.3,102.6 476.1,107.13 476.9,99.44 477.7,99.12 478.5,100.29 479.3,99.32 480.1,96.77 480.9,96.5 481.7,98.92"/>
<polyline stroke="#77AC30" points="46.5,94.64 47.3,94.89 48.1,95.72 48.9,95.55 49.7,96.2 50.5,97.15 51.3,95.4 52.1,92.9 52.9,93.37 53.7,95.33 54.5,96.53 55.3,95.09 56.1,93.47 56.9,94.35 57.7,94.59 58.5,94.33 59.3,102.59 60.1,94.46 60.9,95.44 61.7,96.7 62.5,95.86 63.3,93.86 64.1,94.9 64.9,95.84 65.7,95.52 66.5,96.82 67.3,100.77 68.1,98.1 68.9,97.82 69.7,97.23 70.5,96.72 71.3,97.29 72.1,98.14 72.9,97.94 73.7,97.77 74.5,97.23 75.3,95.77 76.1,95.51 76.9,97.24 77.7,98.21 78.5,98.03 79.3,104.85 80.1,97.65 80.9,105.72 81.7,98.37 82.5,99.01 83.3,97.2 84.1,99.84 84.9,96.24 85.7,96.91 86.5,95.71 87.3,95.24 88.1,102.46 88.9,105.7 89.7,97.14 90.5,93.51 91.3,95.18 92.1,97.39 92.9,102.73 93.7,96.48 94.5,97.81 95.3,97.52 96.1,96.51 96.9,96.13 97.7,96.78 98.5,98.23 99.3,105.63 100.1,100.18 100.9,98.36 101.7,98.63 102.5,97.49 103.3,95.47 104.1,104.88 104.9,96.71 105.7,96.52 106.5,96.31 107.3,96.94 108.1,96.86 108.9,95.85 109.7,97.43 110.5,99.21 111.3,98.04 112.1,97.33 112.9,97.68 113.7,96.3 114.5,100.05 115.3,94.27 116.1,96.13 116.9,97.74 117.7,99.1 118.5,103.48 119.3,96.97 120.1,96.54 120.9,96.96 121.7,97.65 122.5,98.24 123.3,97.87 124.1,96.63 124.9,95.77 125.7,95.27 126.5,94.63 127.3,96.08 128.1,102.32 128.9,106.82 129.7,98.06 130.5,97.36 131.3,95.68 132.1,95.53 132.9,96.68 133.7,96.2 134.5,95.61 135.3,96.93 136.1,97.14 136.9,95.83 137.7,94.99 138.5,101.8 139.3,95.22 140.1,104.11 140.9,97.92 141.7,105.94 142.5,99.42 143.3,100.26 144.1,97.66 144.9,100.5 145.7,96.52 146.5,96.63 147.3,102.28 148.1,95.82 148.9,94.45 149.7,93.18 150.5,94.15 151.3,95.11 152.1,95.7 152.9,96.28 153.7,96.54 154.5,96.13 155.3,96.7 156.1,98.65 156.9,98.06 157.7,96.97 158.5,97.83 159.3,98.22 160.1,103.63 160.9,96.42 161.7,94.77 162.5,94.35 163.3,95.98 164.1,97.54 164.9,96.87 165.7,95.3 166.5,99.55 167.3,106.13 168.1,102.2 168.9,98.75 169.7,97.07 170.5,95.74 171.3,95.6 172.1,95.39 172.9,96.45 173.7,97.45 174.5,96.29 175.3,95.4 176.1,96.46 176.9,97.91 177.7,102.12 178.5,105.08 179.3,97.48 180.1,98.66 180.9,98.7 181.7,98.65 182.5,99.97 183.3,95.11 184.1,94.34 184.9,93.8 185.7,94.85 186.5,96.98 187.3,96.09 188.1,93.39 188.9,94.1 189.7,98.35 190.5,99.53 191.3,97.63 192.1,97.86 192.9,98.34 193.7,97.75 194.5,99.32 195.3,100.53 196.1,98.51 196.9,102.27 197.7,95.6 198.5,95.37 199.3,96.42 200.1,97.72 200.9,99.17 201.7,99.93 202.5,98.08 203.3,95.69 204.1,94.31 204.9,94.15 205.7,97.13 206.5,107.16 207.3,96.53 208.1,96 208.9,98.98 209.7,99.83 210.5,97.49 211.3,103.92 212.1,98.31 212.9,98.76 213.7,99.08 214.5,99.97 215.3,105.14 216.1,98.02 216.9,104.2 217.7,99.89 218.5,99.77 219.3,97.15 220.1,97.29 220.9,98.63 221.7,98.42 222.5,98.33 223.3,104.15 224.1,98.09 224.9,96.72 225.7,96.77 226.5,98.36 227.3,98.81 228.1,96.5 228.9,95.54 229.7,97.49 230.5,98.12 231.3,97.58 232.1,96.73 232.9,96 233.7,96.36 234.5,96.53 235.3,96.98 236.1,97.83 236.9,95.47 237.7,67.99 238.5,35.75 239,15.59 239.3,56.45 240.1,70.8 240.9,75.88 241.7,78.64 242.5,80.41 243.3,81.83 244.1,83.07 244.9,83.93 245.7,84.62 246.5,85.5 247.3,86.25 248.1,86.6 248.9,86.76 249.7,87.42 250.5,88.21 251.3,88.61 252.1,88.6 252.9,88.61 253.7,89.37 254.5,90.49 255.3,91.17 256.1,91.52 256.9,92.03 257.7,92.42 258.5,92.66 259.3,93.52 260.1,94.01 260.9,93.9 261.7,94.31 262.5,95.31 263.3,95.75 264.1,97.37 264.9,94.54 265.7,96.78 266.5,94.71 267.3,95.25 268.1,95.08 268.9,94.15 269.7,94.66 270.5,94.08 271.3,93.77 272.1,95.67 272.9,96.79 273.7,96.47 274.5,95.75 275.3,100.46 276.1,97.08 276.9,95.04 277.7,99.96 278.5,102.52 279.3,95.61 280.1,94.07 280.9,92.22 281.7,93.32 282.5,96.52 283.3,97.91 284.1,97.9 284.9,102.44 285.7,96.23 286.5,101.69 287.3,97.19 288.1,99.08 288.9,97.9 289.7,94.94 290.5,94.7 291.3,96.49 292.1,97.3 292.9,97.22 293.7,98.06 294.5,98.46 295.3,97.31 296.1,97.14 296.9,105.36 297.7,103.79 298.5,97.44 299.3,96.58 300.1,98.01 300.9,96.21 301.7,95.93 302.5,98.63 303.3,98.74 304.1,96.4 304.9,95.6 305.7,96.3 306.5,97.51 307.3,97.67 308.1,97.05 308.9,102.02 309.7,97.57 310.5,99.17 311.3,100.17 312.1,103.26 312.9,97.43 313.7,99.16 314.5,99.19 315.3,96.81 316.1,94.98 316.9,92.98 317.7,92.95 318.5,94.69 319.3,104.77 320.1,105.42 320.9,99.56 321.7,98.17 322.5,98.39 323.3,99.53 324.1,99.67 324.9,98.08 325.7,99.69 326.5,96.09 327.3,97.42 328.1,97.47 328.9,97.35 329.7,97.97 330.5,98.97 331.3,105.51 332.1,96.74 332.9,95.22 333.7,95.73 334.5,96.04 335.3,99.64 336.1,94.14 336.9,96.39 337.7,99.33 338.5,98.83 339.3,96.19 340.1,94.81 340.9,94.92 341.7,95.43 342.5,97.29 343.3,105.3 344.1,100.12 344.9,100.12 345.7,99.64 346.5,99.05 347.3,97.98 348.1,98.53 348.9,99.25 349.7,96.95 350.5,96.58 351.3,98.33 352.1,97.38 352.9,96.31 353.7,96.5 354.5,96.11 355.3,95.66 356.1,95.53 356.9,96.32 357.7,96.91 358.5,96.09 359.3,95.65 360.1,96.61 360.9,98.07 361.7,98.69 362.5,98.51 363.3,98 364.1,97.15 364.9,96.86 365.7,97.16 366.5,97.11 367.3,95.94 368.1,94.27 368.9,94.98 369.7,96.86 370.5,97.21 371.3,97.38 372.1,97.66 372.9,97.95 373.7,99.01 374.5,108.65 375.3,101.08 376.1,97.74 376.9,96.11 377.7,97.26 378.5,97.36 379.3,97.17 380.1,97.59 380.9,98.19 381.7,100.97 382.5,99.01 383.3,100.18 384.1,98.53 384.9,103.8 385.7,100.06 386.5,97.98 387.3,96.69 388.1,96.72 388.9,96.87 389.7,98.2 390.5,99.14 391.3,98.74 392.1,101.4 392.9,93.41 393.7,93.7 394.5,96.91 395.3,97.85 396.1,96.69 396.9,96.72 397.7,98.39 398.5,97.7 399.3,94.67 400.1,95.6 400.9,99.68 401.7,101.04 402.5,107.78 403.3,101.24 404.1,96.58 404.9,98.35 405.7,99.39 406.5,97.59 407.3,96.3 408.1,97.15 408.9,97.49 409.7,102.85 410.5,97.65 411.3,98.66 412.1,98.67 412.9,98.22 413.7,96.51 414.5,96.64 415.3,98.08 416.1,96.79 416.9,96.86 417.7,99.3 418.5,97.74 419.3,96.19 420.1,102.93 420.9,99.39 421.7,99.24 422.5,99.81 423.3,101.46 424.1,101.26 424.9,98.9 425.7,97.16 426.5,96.37 427.3,95.68 428.1,95 428.9,95.09 429.7,96.45 430.5,98.13 431.3,95.99 432.1,100.36 432.9,91.63 433.7,94.18 434.5,95.07 435.3,95.72 436.1,95.83 436.9,95.17 437.7,96.49 438.5,96.16 439.3,95.8 440.1,101.85 440.9,99.26 441.7,99.69 442.5,99.28 443.3,98.02 444.1,97.64 444.9,97.74 445.7,106.49 446.5,98.66 447.3,99.12 448.1,99.44 448.9,98.89 449.7,98.14 450.5,98.05 451.3,100.4 452.1,97.52 452.9,97.13 453.7,95.81 454.5,97.56 455.3,99.34 456.1,99.74 456.9,100.56 457.7,99.07 458.5,98.52 459.3,99.3 460.1,98.26 460.9,96.26 461.7,95.07 462.5,95.2 463.3,94.03 464.1,94.52 464.9,97.67 465.7,97.85 466.5,96.12 467.3,96.44 468.1,97.28 468.9,98.27 469.7,99.26 470.5,99.17 471.3,99.78 472.1,100.1 472.9,97.46 473.7,93.98 474.5,93.94 475.3,96.15 476.1,96.76 476.9,95.56 477.7,94.87 478.5,96.23 479.3,97.92 480.1,97.32 480.9,94.25 481.7,92.99"/>
<polyline stroke="#D95319" points="46.5,105.29 47.3,100.5 48.1,97.93 48.9,98.11 49.7,101.45 50.5,97.86 51.3,100.64 52.1,99.76 52.9,100.09 53.7,107.32 54.5,99.38 55.3,97.41 56.1,99.58 56.9,99.33 57.7,96.34 58.5,97.52 59.3,100.23 60.1,99.92 60.9,99.1 61.7,98.22 62.5,101.14 63.3,98.64 64.1,97.92 64.9,100.5 65.7,100.04 66.5,99.68 67.3,103.64 68.1,100.08 68.9,100.95 69.7,100.41 70.5,103.23 71.3,102.51 72.1,96.64 72.9,103.55 73.7,97.56 74.5,98.44 75.3,97.96 76.1,98.73 76.9,99.08 77.7,97.25 78.5,96.39 79.3,97.78 80.1,98.9 80.9,96.25 81.7,93.86 82.5,96.7 83.3,99.78 84.1,99.18 84.9,98.01 85.7,98 86.5,97.93 87.3,97.89 88.1,98.26 88.9,98.63 89.7,98.89 90.5,97.74 91.3,96.92 92.1,106 92.9,98.15 93.7,99.22 94.5,99.51 95.3,97.82 96.1,97.01 96.9,97.42 97.7,97.96 98.5,99.51 99.3,98.77 100.1,96.36 100.9,97.15 101.7,100.02 102.5,100.04 103.3,98.67 104.1,98.92 104.9,98.59 105.7,98.48 106.5,96.8 107.3,93.52 108.1,97.53 108.9,96.74 109.7,99.32 110.5,98.64 111.3,97.88 112.1,97.24 112.9,104.44 113.7,99.46 114.5,107.09 115.3,104.07 116.1,97.87 116.9,97.06 117.7,98.71 118.5,98.98 119.3,99.63 120.1,102.42 120.9,106.5 121.7,108.28 122.5,96.97 123.3,95.69 124.1,96.36 124.9,98.98 125.7,101.08 126.5,99.84 127.3,97.87 128.1,95.76 128.9,97.64 129.7,93.25 130.5,94.79 131.3,97.16 132.1,99.01 132.9,99.72 133.7,106.67 134.5,98.62 135.3,99.42 136.1,99.97 136.9,103.97 137.7,99.12 138.5,98.23 139.3,98.48 140.1,98.99 140.9,98.44 141.7,97.29 142.5,105.73 143.3,95.51 144.1,96.01 144.9,100.94 145.7,101.62 146.5,101.54 147.3,96.92 148.1,97.72 148.9,98.49 149.7,98.51 150.5,93.31 151.3,63.96 152.1,31.71 152.5,15.59 152.9,59.75 153.7,71.71 154.5,76.33 155.3,78.97 156.1,80.73 156.9,81.78 157.7,82.69 158.5,83.81 159.3,84.78 160.1,85.47 160.9,86.29 161.7,87.16 162.5,87.64 163.3,87.94 164.1,88.06 164.9,88.64 165.7,89.9 166.5,90.6 167.3,90.69 168.1,90.98 168.9,91.76 169.7,92.12 170.5,92.05 171.3,92.02 172.1,94.15 172.9,93.35 173.7,96.75 174.5,95.48 175.3,94.72 176.1,94.89 176.9,98.67 177.7,97.78 178.5,97.17 179.3,97.89 180.1,98.57 180.9,98.15 181.7,100.42 182.5,94.5 183.3,95.04 184.1,96.55 184.9,96.27 185.7,96.35 186.5,97.59 187.3,98.03 188.1,96.15 188.9,94.09 189.7,96.86 190.5,99.31 191.3,95.91 192.1,94 192.9,102.13 193.7,93.38 194.5,94.54 195.3,96.68 196.1,97.94 196.9,99.3 197.7,100.32 198.5,101.49 199.3,100.68 200.1,98.51 200.9,98.37 201.7,97.89 202.5,97.58 203.3,103.18 204.1,98.35 204.9,98.36 205.7,98.66 206.5,104.95 207.3,98.57 208.1,100.32 208.9,101.17 209.7,100.05 210.5,97.41 211.3,94.76 212.1,94.55 212.9,95.74 213.7,100.25 214.5,96.31 215.3,96.19 216.1,96.72 216.9,100.5 217.7,98.17 218.5,96.85 219.3,99.88 220.1,98.42 220.9,99.38 221.7,103.94 222.5,102.51 223.3,101.83 224.1,99.25 224.9,101.95 225.7,98.77 226.5,97.96 227.3,100.32 228.1,99.76 228.9,100.1 229.7,104.34 230.5,98.49 231.3,96.75 232.1,98.21 232.9,100.05 233.7,100.45 234.5,99.24 235.3,98.61 236.1,102.17 236.9,96.37 237.7,98.09 238.5,99.85 239.3,97.11 240.1,97.04 240.9,98.77 241.7,99.77 242.5,100.67 243.3,101.08 244.1,102.47 244.9,100.52 245.7,101.98 246.5,95.47 247.3,98.45 248.1,99.17 248.9,97.51 249.7,97.37 250.5,103.55 251.3,97.87 252.1,98.72 252.9,99.39 253.7,99.67 254.5,98.75 255.3,99.92 256.1,100.83 256.9,103.81 257.7,97.01 258.5,96.22 259.3,96.66 260.1,96.73 260.9,97.12 261.7,99.4 262.5,102.9 263.3,104.87 264.1,103.47 264.9,105.79 265.7,98.69 266.5,98.42 267.3,98.15 268.1,99.16 268.9,101.06 269.7,102.7 270.5,101.32 271.3,97.11 272.1,96.93 272.9,99.8 273.7,99.34 274.5,99.91 275.3,95.9 276.1,97.79 276.9,97.53 277.7,97.65 278.5,100.56 279.3,100.71 280.1,99.41 280.9,101.57 281.7,94.88 282.5,95.13 283.3,103.79 284.1,105.53 284.9,97.16 285.7,97 286.5,98.88 287.3,100.43 288.1,100.88 288.9,98.82 289.7,96.21 290.5,95.6 291.3,95.96 292.1,96.99 292.9,98.88 293.7,98.5 294.5,96.42 295.3,97.25 296.1,98.75 296.9,102.96 297.7,96.05 298.5,96.45 299.3,106.43 300.1,98.66 300.9,96.74 301.7,95.24 302.5,97.25 303.3,98.92 304.1,99.2 304.9,99.72 305.7,99.09 306.5,97.82 307.3,96.95 308.1,96.57 308.9,94.81 309.7,94.1 310.5,97.48 311.3,99.37 312.1,98.28 312.9,97.95 313.7,98.59 314.5,98.67 315.3,97.83 316.1,99.4 316.9,101.72 317.7,100.04 318.5,97.05 319.3,96.66 320.1,98.88 320.9,99.07 321.7,97.6 322.5,98.26 323.3,98.23 324.1,96.92 324.9,96.79 325.7,102.57 326.5,99.21 327.3,97.92 328.1,98.58 328.9,97.88 329.7,94.94 330.5,96.22 331.3,102.71 332.1,100.03 332.9,99.61 333.7,101.09 334.5,101.19 335.3,97.94 336.1,96.3 336.9,97.63 337.7,106.2 338.5,97.79 339.3,97.96 340.1,99.66 340.9,106.58 341.7,98.88 342.5,97.46 343.3,98.36 344.1,100.56 344.9,105.35 345.7,96.81 346.5,98.32 347.3,99.3 348.1,98.2 348.9,96.93 349.7,97.78 350.5,99.92 351.3,100.62 352.1,98.95 352.9,96.71 353.7,97.66 354.5,98.63 355.3,100.42 356.1,98.3 356.9,100.01 357.7,99.4 358.5,99.61 359.3,100.16 360.1,99.79 360.9,99.32 361.7,100.46 362.5,100.91 363.3,103.06 364.1,97.81 364.9,96.49 365.7,96.12 366.5,96.84 367.3,96.59 368.1,96.46 368.9,98.59 369.7,99.83 370.5,109.06 371.3,107.56 372.1,100.8 372.9,98.6 373.7,97.84 374.5,96.2 375.3,96.22 376.1,97.93 376.9,98.02 377.7,97.49 378.5,101.94 379.3,98.92 380.1,97.06 380.9,98.33 381.7,94.94 382.5,98.55 383.3,100.87 384.1,97.81 384.9,96.04 385.7,96.44 386.5,94.73 387.3,94.94 388.1,98.37 388.9,100.54 389.7,100.2 390.5,97.92 391.3,96.37 392.1,97.81 392.9,100.34 393.7,101.54 394.5,102.33 395.3,102.91 396.1,107.57 396.9,101.92 397.7,99.51 398.5,97.37 399.3,97.09 400.1,98.42 400.9,99.4 401.7,101.71 402.5,97.72 403.3,98.33 404.1,98.73 404.9,99.18 405.7,99.36 406.5,106.43 407.3,99.23 408.1,98.8 408.9,99.59 409.7,99.88 410.5,106.18 411.3,104.5 412.1,96.51 412.9,99.28 413.7,100.52 414.5,100.47 415.3,99 416.1,95.84 416.9,95.21 417.7,97.56 418.5,97.96 419.3,98.1 420.1,97.72 420.9,96.41 421.7,96.55 422.5,97.46 423.3,98.35 424.1,98.41 424.9,97.23 425.7,97.55 426.5,100.06 427.3,101.18 428.1,101.37 428.9,101.38 429.7,99.48 430.5,95.68 431.3,93.25 432.1,95.58 432.9,99.08 433.7,100.02 434.5,99.7 435.3,97.59 436.1,95.65 436.9,95.85 437.7,96.71 438.5,106.01 439.3,102.97 440.1,102.94 440.9,99.59 441.7,96.61 442.5,96.27 443.3,97.88 444.1,98.33 444.9,101.37 445.7,96.62 446.5,98.5 447.3,99.26 448.1,97.25 448.9,102.67 449.7,98.44 450.5,100.01 451.3,100.65 452.1,102.5 452.9,102.9 453.7,106.42 454.5,98.78 455.3,96.75 456.1,95.78 456.9,95.97 457.7,96.13 458.5,97.33 459.3,98.62 460.1,99.62 460.9,99.38 461.7,98.91 462.5,98.48 463.3,105.7 464.1,100.7 464.9,100.24 465.7,99.43 466.5,98.51 467.3,97.97 468.1,98.92 468.9,100.09 469.7,99.98 470.5,98.92 471.3,98.64 472.1,105.59 472.9,99.16 473.7,98.15 474.5,98.01 475.3,97.73 476.1,97.76 476.9,97.99 477.7,105.53 478.5,97.45 479.3,96.89 480.1,95.93 480.9,95.87 481.7,96.83"/>
<polyline stroke="#77AC30" points="46.5,96.38 47.3,96.13 48.1,97.65 48.9,98.2 49.7,97.67 50.5,97.99 51.3,104.43 52.1,106.7 52.9,100.97 53.7,99.32 54.5,97.24 55.3,97.79 56.1,92.23 56.9,93.04 57.7,94.21 58.5,99.37 59.3,96.41 60.1,96.39 60.9,95.12 61.7,97.32 62.5,98.61 63.3,99.63 64.1,95.77 64.9,96.45 65.7,96.78 66.5,98 67.3,106.72 68.1,97.55 68.9,97.55 69.7,99.18 70.5,99.63 71.3,101.53 72.1,96.08 72.9,95.73 73.7,96.2 74.5,96.66 75.3,97.14 76.1,103.65 76.9,106.92 77.7,99.82 78.5,98.85 79.3,97.28 80.1,96.18 80.9,96.81 81.7,98.86 82.5,98.32 83.3,97.42 84.1,98.01 84.9,102.32 85.7,98.29 86.5,98.19 87.3,97.34 88.1,97.59 88.9,97.02 89.7,97.67 90.5,99.28 91.3,99.46 92.1,106.16 92.9,98.6 93.7,98.61 94.5,98.64 95.3,96.18 96.1,94.26 96.9,95.38 97.7,99.09 98.5,101.34 99.3,99.65 100.1,97.59 100.9,105.56 101.7,97.69 102.5,97.51 103.3,103.02 104.1,97.91 104.9,103.75 105.7,97.26 106.5,96.82 107.3,100.78 108.1,97.47 108.9,99.92 109.7,95.13 110.5,95.72 111.3,95.73 112.1,95.89 112.9,96.15 113.7,96.18 114.5,103.34 115.3,96.93 116.1,102.58 116.9,102.6 117.7,97.09 118.5,98.4 119.3,102.38 120.1,94.89 120.9,94.88 121.7,96.41 122.5,98.01 123.3,98.01 124.1,96 124.9,94.9 125.7,95.24 126.5,95.55 127.3,95.85 128.1,96.39 128.9,97.54 129.7,98.26 130.5,97.99 131.3,96.57 132.1,96.55 132.9,98.52 133.7,99.06 134.5,99.22 135.3,100.04 136.1,99.95 136.9,98.38 137.7,95.73 138.5,95.04 139.3,96.99 140.1,97.67 140.9,97.38 141.7,97.87 142.5,97.29 143.3,96.03 144.1,96.31 144.9,97.47 145.7,96.96 146.5,95.95 147.3,96.88 148.1,98.07 148.9,98.83 149.7,98.55 150.5,97.66 151.3,97.23 152.1,96.63 152.9,97.61 153.7,100.49 154.5,100.49 155.3,97.73 156.1,96.25 156.9,95.52 157.7,96.63 158.5,106.13 159.3,97.07 160.1,97.11 160.9,97.92 161.7,97.94 162.5,96.16 163.3,95.58 164.1,95.9 164.9,95.47 165.7,96.53 166.5,98.27 167.3,100.45 168.1,99.4 168.9,94.64 169.7,93.04 170.5,95.77 171.3,98.49 172.1,97.68 172.9,103.84 173.7,96.54 174.5,97.3 175.3,98.27 176.1,98.73 176.9,105.12 177.7,98.12 178.5,104.42 179.3,103.36 180.1,102.08 180.9,97.89 181.7,96.79 182.5,95.73 183.3,95.93 184.1,97.41 184.9,99.05 185.7,98.04 186.5,96.86 187.3,98.03 188.1,98.95 188.9,104.59 189.7,96.3 190.5,97.34 191.3,98.01 192.1,96.06 192.9,94.92 193.7,95.08 194.5,99.11 195.3,96.28 196.1,97.47 196.9,98.16 197.7,98.52 198.5,98.04 199.3,97.13 200.1,96.99 200.9,96.7 201.7,96.31 202.5,97.73 203.3,99.55 204.1,99.88 204.9,106.08 205.7,105.53 206.5,99.09 207.3,99.55 208.1,100.4 208.9,98.87 209.7,102.14 210.5,96.31 211.3,96.08 212.1,96.89 212.9,97.42 213.7,96.28 214.5,95.89 215.3,97.29 216.1,105.1 216.9,99.25 217.7,104.44 218.5,98.23 219.3,99.22 220.1,94.15 220.9,93.81 221.7,94.66 222.5,95.26 223.3,94.34 224.1,92.25 224.9,91.47 225.7,92.32 226.5,94.59 227.3,95.64 228.1,95.34 228.9,95.99 229.7,97.28 230.5,97.64 231.3,96.47 232.1,95.8 232.9,96.13 233.7,98.11 234.5,99.36 235.3,96.9 236.1,96.12 236.9,107.36 237.7,99.53 238.5,98.39 239.3,98.84 240.1,98.43 240.9,95.27 241.7,99.5 242.5,98.53 243.3,99.77 244.1,96.56 244.9,93.7 245.7,100.96 246.5,95.69 247.3,101.86 248.1,98.49 248.9,97.7 249.7,95.13 250.5,96.49 251.3,100.86 252.1,100.74 252.9,97.67 253.7,96.87 254.5,97.08 255.3,95.2 256.1,93.81 256.9,99.79 257.7,99.45 258.5,99.48 259.3,99.58 260.1,98.91 260.9,100.84 261.7,97.9 262.5,98.74 263.3,98.48 264.1,97.94 264.9,97.18 265.7,96.89 266.5,97 267.3,96.78 268.1,96.45 268.9,96.87 269.7,97.67 270.5,97.86 271.3,98.57 272.1,105.45 272.9,95.26 273.7,96.25 274.5,97.84 275.3,98.09 276.1,97.9 276.9,97.33 277.7,97.9 278.5,99.04 279.3,99.96 280.1,100.15 280.9,98.18 281.7,96.46 282.5,98.5 283.3,99.41 284.1,96.7 284.9,96.29 285.7,99.56 286.5,108.48 287.3,97.85 288.1,97.62 288.9,100.09 289.7,101.22 290.5,99.21 291.3,96.88 292.1,96.27 292.9,103.56 293.7,104.63 294.5,96.92 295.3,96.49 296.1,96.8 296.9,97.59 297.7,98.69 298.5,98.32 299.3,97.15 300.1,97.73 300.9,97.94 301.7,96.47 302.5,96.05 303.3,97.37 304.1,97.64 304.9,94.85 305.7,93.82 306.5,105.1 307.3,100.37 308.1,107.6 308.9,99.85 309.7,100.35 310.5,99.09 311.3,101.05 312.1,94.51 312.9,94.16 313.7,95.55 314.5,101.52 315.3,96.5 316.1,102.25 316.9,98.9 317.7,98.22 318.5,95.69 319.3,95.36 320.1,97.39 320.9,97.94 321.7,97.26 322.5,96.37 323.3,95.92 324.1,96.31 324.9,97.66 325.7,99.19 326.5,104.78 327.3,98.65 328.1,95.11 328.9,93.69 329.7,94.6 330.5,93.92 331.3,93.17 332.1,95.7 332.9,98.89 333.7,102.98 334.5,101.09 335.3,100.76 336.1,99.47 336.9,97.83 337.7,97.35 338.5,98.42 339.3,98 340.1,90.12 340.9,59.93 341.7,27.68 342,15.59 342.5,62.28 343.3,72.47 344.1,76.72 344.9,79.23 345.7,80.99 346.5,82.23 347.3,83.21 348.1,84.12 348.9,84.88 349.7,85.68 350.5,86.99 351.3,86.67 352.1,87.84 352.9,87.91 353.7,88.71 354.5,89.06 355.3,89.64 356.1,90.53 356.9,91.3 357.7,91.37 358.5,91.67 359.3,92.14 360.1,91.86 360.9,92.35 361.7,93.48 362.5,94.53 363.3,95.08 364.1,95.21 364.9,95.18 365.7,94.18 366.5,93.84 367.3,95.59 368.1,96.7 368.9,96.64 369.7,96.38 370.5,100.29 371.3,95.55 372.1,96.03 372.9,95.44 373.7,93.8 374.5,93.83 375.3,95.38 376.1,95.85 376.9,96.78 377.7,97 378.5,95.33 379.3,95.19 380.1,95.95 380.9,96.2 381.7,97.28 382.5,101.44 383.3,100.29 384.1,98.3 384.9,95.31 385.7,94.64 386.5,94.75 387.3,95.95 388.1,96.5 388.9,96.56 389.7,96.49 390.5,95.32 391.3,94.23 392.1,95.56 392.9,96.28 393.7,96.31 394.5,96.56 395.3,98.85 396.1,96.82 396.9,97.65 397.7,105.76 398.5,97.28 399.3,102.07 400.1,94.85 400.9,96.29 401.7,98.05 402.5,98.14 403.3,97.89 404.1,96.68 404.9,95.23 405.7,96.07 406.5,96.46 407.3,95.11 408.1,93.85 408.9,102.19 409.7,103.32 410.5,98.22 411.3,98.06 412.1,98.51 412.9,98.35 413.7,100.08 414.5,101.44 415.3,104.21 416.1,96.88 416.9,95.36 417.7,97.67 418.5,100.49 419.3,103.96 420.1,99.11 420.9,97.64 421.7,98.11 422.5,99.5 423.3,106.23 424.1,100.57 424.9,99.51 425.7,105.34 426.5,101.09 427.3,97.15 428.1,98.4 428.9,96.17 429.7,97.19 430.5,97.63 431.3,97.16 432.1,96.62 432.9,95.21 433.7,96.87 434.5,98.93 435.3,95.97 436.1,94.17 436.9,95.53 437.7,96.11 438.5,97.21 439.3,99.9 440.1,100.24 440.9,97.59 441.7,100.41 442.5,97.76 443.3,99.08 444.1,98.44 444.9,96.59 445.7,97.26 446.5,101.95 447.3,99.03 448.1,97.26 448.9,96.35 449.7,97.44 450.5,98.59 451.3,98.04 452.1,96.58 452.9,97.22 453.7,96.72 454.5,95.23 455.3,97.44 456.1,108.36 456.9,99.73 457.7,97.13 458.5,94.93 459.3,95.88 460.1,102.54 460.9,103.24 461.7,95.43 462.5,96.4 463.3,95.23 464.1,94.81 464.9,97.63 465.7,99.95 466.5,97.61 467.3,95.4 468.1,95.1 468.9,102.29 469.7,96.25 470.5,98.13 471.3,96.9 472.1,95.86 472.9,96.04 473.7,96.08 474.5,95.98 475.3,96.99 476.1,98.25 476.9,99.34 477.7,101.87 478.5,97.92 479.3,98.26 480.1,98.4 480.9,97.62 481.7,96.99"/>
<polyline stroke="#77AC30" points="46.5,97.69 47.3,105.42 48.1,96.8 48.9,96.89 49.7,96.87 50.5,96.73 51.3,102.98 52.1,98.69 52.9,97.71 53.7,96.82 54.5,98.29 55.3,97.97 56.1,96.61 56.9,98.25 57.7,100.83 58.5,99.56 59.3,97.3 60.1,96.78 60.9,95.08 61.7,94.59 62.5,96.15 63.3,97.12 64.1,101.19 64.9,98.72 65.7,97.97 66.5,103.32 67.3,98.58 68.1,98.17 68.9,96.84 69.7,96.97 70.5,76.04 71.3,43.81 72,15.59 72.1,43.73 72.9,68.72 73.7,74.94 74.5,78.05 75.3,79.89 76.1,81.33 76.9,82.59 77.7,83.59 78.5,84.31 79.3,84.92 80.1,85.7 80.9,86.43 81.7,86.81 82.5,87.32 83.3,88.61 84.1,89.42 84.9,90.23 85.7,90.68 86.5,90.36 87.3,90.39 88.1,89.91 88.9,91.45 89.7,92.82 90.5,92.82 91.3,92.73 92.1,93.38 92.9,96.44 93.7,95.83 94.5,94.06 95.3,94.24 96.1,94.8 96.9,95.46 97.7,95.69 98.5,95.59 99.3,99.01 100.1,95.89 100.9,100.78 101.7,97.67 102.5,97.69 103.3,96.61 104.1,95.08 104.9,95.07 105.7,96.61 106.5,98.51 107.3,98.71 108.1,98.03 108.9,101.19 109.7,102.7 110.5,96.25 111.3,96.47 112.1,96.27 112.9,96.2 113.7,96.27 114.5,96.87 115.3,96 116.1,94.94 116.9,95.73 117.7,96.77 118.5,97.17 119.3,96.6 120.1,96.18 120.9,97.87 121.7,99.1 122.5,97.91 123.3,96.76 124.1,96.45 124.9,95.64 125.7,95.73 126.5,98.16 127.3,98.61 128.1,97.48 128.9,97.73 129.7,97.3 130.5,98.13 131.3,105.97 132.1,100.12 132.9,94.74 133.7,96.83 134.5,98.25 135.3,97.65 136.1,98.01 136.9,97.66 137.7,97.15 138.5,98.94 139.3,99.88 140.1,105.44 140.9,105.12 141.7,98.76 142.5,98.21 143.3,96.74 144.1,100.77 144.9,98.19 145.7,98.11 146.5,97.25 147.3,97.03 148.1,98.21 148.9,99.3 149.7,98.94 150.5,98.17 151.3,99.52 152.1,95 152.9,94.77 153.7,95.65 154.5,96.82 155.3,97.3 156.1,97.26 156.9,106.21 157.7,102.63 158.5,106.79 159.3,97.85 160.1,96.13 160.9,94.49 161.7,95.52 162.5,96.82 163.3,96.74 164.1,96.65 164.9,95.69 165.7,93.65 166.5,93.64 167.3,96.77 168.1,98.07 168.9,105.15 169.7,96.43 170.5,96.72 171.3,98.47 172.1,98.58 172.9,96.66 173.7,96.48 174.5,99.03 175.3,104.38 176.1,96.19 176.9,94.68 177.7,95.89 178.5,97.89 179.3,97.95 180.1,96.76 180.9,96.57 181.7,97.11 182.5,96.7 183.3,96.22 184.1,97.48 184.9,98.48 185.7,98.45 186.5,98.07 187.3,97.51 188.1,106 188.9,97 189.7,95.47 190.5,96.13 191.3,96.65 192.1,96.16 192.9,97.12 193.7,97.64 194.5,105.28 195.3,98.27 196.1,98.03 196.9,98.28 197.7,99.26 198.5,98.48 199.3,96.98 200.1,96.52 200.9,95.16 201.7,93.6 202.5,94.96 203.3,101.59 204.1,97.48 204.9,97.03 205.7,103.89 206.5,96.37 207.3,99.76 208.1,97.27 208.9,96.81 209.7,96.92 210.5,97.97 211.3,96.8 212.1,96.53 212.9,104.83 213.7,94.23 214.5,95.06 215.3,97.51 216.1,98.53 216.9,105.01 217.7,97.34 218.5,97.89 219.3,107.68 220.1,99.92 220.9,99.07 221.7,98.44 222.5,98.38 223.3,97.91 224.1,96.25 224.9,95.58 225.7,97.94 226.5,100.09 227.3,98.48 228.1,101.23 228.9,96.82 229.7,96.88 230.5,97.89 231.3,100.69 232.1,101.02 232.9,98.4 233.7,97.25 234.5,100.93 235.3,97.48 236.1,96.79 236.9,96.38 237.7,97.91 238.5,106.11 239.3,98.6 240.1,97.55 240.9,96.19 241.7,96.02 242.5,97.52 243.3,98.76 244.1,97.25 244.9,95.33 245.7,94.05 246.5,93.53 247.3,95.82 248.1,98.52 248.9,106.29 249.7,96.81 250.5,96.59 251.3,97.46 252.1,96.4 252.9,96.4 253.7,97.56 254.5,97.52 255.3,97.84 256.1,97.94 256.9,97.49 257.7,97.9 258.5,98.27 259.3,98.72 260.1,99.94 260.9,99.51 261.7,97.23 262.5,95.27 263.3,95.88 264.1,98.1 264.9,98.68 265.7,98.18 266.5,101.96 267.3,96.58 268.1,99.32 268.9,100.5 269.7,99.68 270.5,98.01 271.3,96.6 272.1,96.07 272.9,96.24 273.7,96.1 274.5,95.56 275.3,101.56 276.1,98.37 276.9,101.48 277.7,101.06 278.5,99.1 279.3,96.7 280.1,95.97 280.9,96.62 281.7,96.55 282.5,97.08 283.3,96.61 284.1,94.98 284.9,95.83 285.7,98.28 286.5,99.64 287.3,98.97 288.1,97.75 288.9,102.51 289.7,98.01 290.5,98.34 291.3,98.71 292.1,98.95 292.9,99.77 293.7,99.81 294.5,105.14 295.3,96.31 296.1,96.03 296.9,97.58 297.7,98.93 298.5,97.99 299.3,95.69 300.1,103.39 300.9,98.61 301.7,98.68 302.5,97.17 303.3,96.74 304.1,101.99 304.9,97.32 305.7,97.68 306.5,96.92 307.3,97.68 308.1,97.57 308.9,95.8 309.7,94.85 310.5,94.79 311.3,94.74 312.1,95.16 312.9,96.14 313.7,95.4 314.5,95.28 315.3,98.12 316.1,100.15 316.9,98.51 317.7,98.16 318.5,94.97 319.3,96.74 320.1,96.85 320.9,95.8 321.7,96.79 322.5,105.35 323.3,99.31 324.1,97.71 324.9,96.94 325.7,97.13 326.5,97.4 327.3,98.7 328.1,98.36 328.9,94.4 329.7,93.63 330.5,95.98 331.3,97.23 332.1,101.53 332.9,93.15 333.7,93.52 334.5,96.75 335.3,103.67 336.1,97.99 336.9,96.95 337.7,97.13 338.5,98.42 339.3,98.1 340.1,102.41 340.9,96.96 341.7,96.88 342.5,98.78 343.3,99.74 344.1,97.92 344.9,96.56 345.7,105.54 346.5,97.64 347.3,96.41 348.1,99.44 348.9,97.66 349.7,97.54 350.5,97.04 351.3,96.49 352.1,97.14 352.9,98.45 353.7,106.62 354.5,101.66 355.3,96.76 356.1,97.02 356.9,98.16 357.7,97.79 358.5,101.6 359.3,95.44 360.1,94.93 360.9,94.52 361.7,95.45 362.5,96.46 363.3,97.79 364.1,98.63 364.9,97.4 365.7,96.31 366.5,104.43 367.3,97.03 368.1,98.07 368.9,98.67 369.7,97.82 370.5,96.19 371.3,97.8 372.1,100.43 372.9,97.85 373.7,98.57 374.5,94.64 375.3,95.48 376.1,96.39 376.9,97.41 377.7,97.27 378.5,97.3 379.3,98.79 380.1,98.81 380.9,98.32 381.7,98.77 382.5,98.96 383.3,98.96 384.1,97.9 384.9,97.41 385.7,98.52 386.5,99.11 387.3,99.91 388.1,100.67 388.9,103.89 389.7,96.54 390.5,95.91 391.3,97.2 392.1,96.87 392.9,94.42 393.7,94.4 394.5,96.05 395.3,95.42 396.1,94.69 396.9,96.43 397.7,98.76 398.5,98.69 399.3,95.57 400.1,93.95 400.9,94.93 401.7,94.09 402.5,99.94 403.3,97.99 404.1,97.82 404.9,95.02 405.7,94.63 406.5,99.37 407.3,96.47 408.1,96.82 408.9,96.01 409.7,95.14 410.5,98.24 411.3,100.17 412.1,97.25 412.9,103.85 413.7,96.95 414.5,98.26 415.3,98.61 416.1,98.62 416.9,99.22 417.7,100.11 418.5,100.11 419.3,97.67 420.1,95.2 420.9,95.96 421.7,95.56 422.5,94.62 423.3,97.23 424.1,98.57 424.9,97.98 425.7,98.25 426.5,96.83 427.3,96.2 428.1,98.2 428.9,97.49 429.7,96.04 430.5,97.93 431.3,98.62 432.1,97.55 432.9,98.02 433.7,97.49 434.5,96.08 435.3,96.72 436.1,97.43 436.9,97.68 437.7,98.66 438.5,98.54 439.3,97.18 440.1,96.35 440.9,96.6 441.7,98.21 442.5,98.28 443.3,96.84 444.1,102.61 444.9,98.08 445.7,98.65 446.5,98.94 447.3,99.7 448.1,100.49 448.9,97.83 449.7,94.77 450.5,94.63 451.3,95.81 452.1,96.89 452.9,97.11 453.7,97.48 454.5,97.66 455.3,99.58 456.1,101.03 456.9,97.9 457.7,95.49 458.5,96.45 459.3,97.45 460.1,96.62 460.9,97.59 461.7,100.93 462.5,100.9 463.3,98.72 464.1,98.05 464.9,98.08 465.7,97.09 466.5,96.92 467.3,99.59 468.1,100.84 468.9,100.24 469.7,99.99 470.5,98.87 471.3,98.5 472.1,103.32 472.9,96.76 473.7,94.57 474.5,93.65 475.3,93.18 476.1,94.47 476.9,95.37 477.7,102.03 478.5,93.93 479.3,94.45 480.1,97.6 480.9,100.8 481.7,100.06"/>
<polyline stroke="#4DBEEE" points="46.5,101.17 47.3,99.94 48.1,97.62 48.9,95.85 49.7,95 50.5,96.8 51.3,97.65 52.1,95.35 52.9,95.88 53.7,98.67 54.5,97.47 55.3,96.55 56.1,97.95 56.9,97.72 57.7,102.43 58.5,96.7 59.3,97.81 60.1,104.18 60.9,97.57 61.7,97.38 62.5,97.46 63.3,97.33 64.1,96.41 64.9,95.53 65.7,95.57 66.5,96.66 67.3,97.82 68.1,96.87 68.9,96.5 69.7,97.49 70.5,99.17 71.3,100.4 72.1,107.36 72.9,98.69 73.7,99.61 74.5,97.98 75.3,97.09 76.1,96.98 76.9,103.49 77.7,96.25 78.5,96.54 79.3,96.77 80.1,95.79 80.9,96.84 81.7,99.12 82.5,105.85 83.3,98.23 84.1,97.74 84.9,95.2 85.7,95.37 86.5,98.2 87.3,98.34 88.1,96.85 88.9,97.27 89.7,98.86 90.5,99.59 91.3,97.49 92.1,95.71 92.9,103.26 93.7,96.11 94.5,94.06 95.3,93.63 96.1,94 96.9,94.3 97.7,95.91 98.5,98.66 99.3,99.95 100.1,98 100.9,94.88 101.7,95.21 102.5,97.31 103.3,98.47 104.1,100.35 104.9,99.58 105.7,95.76 106.5,95.42 107.3,97.65 108.1,98.58 108.9,101.87 109.7,96.39 110.5,99.37 111.3,96.58 112.1,97.26 112.9,96.34 113.7,95.08 114.5,95.25 115.3,96 116.1,97.3 116.9,97.76 117.7,96.96 118.5,97.53 119.3,97.75 120.1,97.44 120.9,98.71 121.7,98.03 122.5,95.55 123.3,103.03 124.1,96.62 124.9,96.6 125.7,104.78 126.5,97.02 127.3,97.54 128.1,96.62 128.9,96.23 129.7,95.83 130.5,95.1 131.3,95.97 132.1,97.07 132.9,95.63 133.7,94.66 134.5,96.63 135.3,98.09 136.1,105.18 136.9,97.65 137.7,97.88 138.5,96.53 139.3,96.02 140.1,97.83 140.9,107.64 141.7,99.2 142.5,98.39 143.3,98.59 144.1,98.57 144.9,106.51 145.7,97.4 146.5,95.14 147.3,95.57 148.1,99 148.9,99.02 149.7,97.66 150.5,98.31 151.3,98.01 152.1,95.97 152.9,94.12 153.7,94.58 154.5,96.32 155.3,97.03 156.1,97.27 156.9,101.7 157.7,105.89 158.5,100.03 159.3,97.76 160.1,95.28 160.9,96.37 161.7,98.8 162.5,98.62 163.3,97.52 164.1,97.51 164.9,97.41 165.7,96.45 166.5,96.09 167.3,95.62 168.1,96.53 168.9,98.84 169.7,97.33 170.5,94.97 171.3,95.12 172.1,95.16 172.9,95.89 173.7,100.36 174.5,96.06 175.3,94.43 176.1,93.54 176.9,94.81 177.7,96.74 178.5,97.3 179.3,98.09 180.1,97.95 180.9,96.72 181.7,95.91 182.5,95.18 183.3,102.93 184.1,96.22 184.9,95.84 185.7,95.74 186.5,97.29 187.3,97.94 188.1,96.61 188.9,95.51 189.7,95.59 190.5,96.48 191.3,96.88 192.1,96.15 192.9,95.5 193.7,94.39 194.5,94.31 195.3,95.08 196.1,96.5 196.9,103.99 197.7,97.96 198.5,95.93 199.3,95.3 200.1,95.95 200.9,96.62 201.7,98.08 202.5,98.33 203.3,101.54 204.1,95.6 204.9,95.58 205.7,94.36 206.5,94.65 207.3,95.63 208.1,97.68 208.9,98.59 209.7,97.92 210.5,97.71 211.3,105.82 212.1,99.1 212.9,98.27 213.7,97.99 214.5,98.22 215.3,97.26 216.1,97.21 216.9,96.97 217.7,95.84 218.5,95.64 219.3,95.25 220.1,94.88 220.9,95.48 221.7,96.02 222.5,99.63 223.3,95.93 224.1,96.06 224.9,98.1 225.7,99.86 226.5,99.96 227.3,98.43 228.1,103.85 228.9,96.78 229.7,96.93 230.5,95.89 231.3,94.65 232.1,100.05 232.9,103.23 233.7,96 234.5,96.13 235.3,97.45 236.1,97.8 236.9,98 237.7,97.37 238.5,97.46 239.3,99.22 240.1,99.47 240.9,98.29 241.7,97.63 242.5,97.41 243.3,97.31 244.1,97.95 244.9,106.27 245.7,96.13 246.5,95.89 247.3,96.4 248.1,96.09 248.9,94.65 249.7,94.62 250.5,96.83 251.3,98.59 252.1,97.45 252.9,95.8 253.7,101.39 254.5,98.85 255.3,96.6 256.1,96.05 256.9,97.75 257.7,98.62 258.5,99.11 259.3,97.53 260.1,95.04 260.9,95.69 261.7,96.95 262.5,96.67 263.3,96.43 264.1,97.47 264.9,99.09 265.7,97.75 266.5,95.45 267.3,95.7 268.1,96.19 268.9,96.1 269.7,95.13 270.5,95.19 271.3,98.15 272.1,94.94 272.9,96.83 273.7,98.2 274.5,98.5 275.3,98.53 276.1,98.33 276.9,98.42 277.7,96.79 278.5,96.07 279.3,98.77 280.1,100.07 280.9,99.07 281.7,97.32 282.5,95.32 283.3,94.91 284.1,95.57 284.9,94.69 285.7,94.31 286.5,97.41 287.3,104.6 288.1,97.4 288.9,96.67 289.7,97.47 290.5,98.81 291.3,99.14 292.1,98.4 292.9,98.15 293.7,98.51 294.5,101.86 295.3,95.47 296.1,94.17 296.9,94.46 297.7,96.21 298.5,97.18 299.3,97.03 300.1,97.06 300.9,97.18 301.7,102.48 302.5,99.54 303.3,97.92 304.1,97.3 304.9,99.02 305.7,97.15 306.5,75.96 307.3,43.81 308,15.59 308.1,43.73 308.9,68.7 309.7,74.83 310.5,77.98 311.3,80.1 312.1,81.55 312.9,82.54 313.7,83.51 314.5,84.48 315.3,85.21 316.1,86.45 316.9,86.52 317.7,87.2 318.5,88.7 319.3,88.43 320.1,88.16 320.9,89.91 321.7,88.82 322.5,90.76 323.3,90.47 324.1,90.51 324.9,93.39 325.7,92.43 326.5,92.74 327.3,95.27 328.1,93.37 328.9,93.01 329.7,92.13 330.5,92.56 331.3,93.13 332.1,92.97 332.9,94.1 333.7,95.23 334.5,95.33 335.3,95.25 336.1,98.06 336.9,94.36 337.7,95.01 338.5,100.2 339.3,94.33 340.1,94.25 340.9,94.44 341.7,95.82 342.5,97.73 343.3,98.64 344.1,97.76 344.9,95.45 345.7,95.24 346.5,96.99 347.3,97.36 348.1,96.45 348.9,96.01 349.7,96.48 350.5,97.75 351.3,103.24 352.1,95.73 352.9,96.61 353.7,96.21 354.5,95.94 355.3,97.42 356.1,96.69 356.9,96.06 357.7,96.47 358.5,96.99 359.3,99.12 360.1,104.1 360.9,95.77 361.7,95.2 362.5,94.96 363.3,102.32 364.1,95.26 364.9,95.41 365.7,94.46 366.5,93.9 367.3,94.24 368.1,94.92 368.9,96.45 369.7,97.27 370.5,101.29 371.3,95.75 372.1,94.51 372.9,93.36 373.7,99.55 374.5,97.8 375.3,93.93 376.1,94.78 376.9,95.69 377.7,96.02 378.5,97.44 379.3,102.31 380.1,97.36 380.9,97.5 381.7,97.85 382.5,97.18 383.3,97.21 384.1,98.63 384.9,99.34 385.7,96.89 386.5,94.03 387.3,93.79 388.1,94.79 388.9,95.37 389.7,95.8 390.5,97.15 391.3,97.35 392.1,97.21 392.9,98.1 393.7,97.32 394.5,95.22 395.3,94.83 396.1,96.25 396.9,97.01 397.7,97.58 398.5,99.46 399.3,100.97 400.1,98.83 400.9,95.52 401.7,95.23 402.5,94.63 403.3,93.17 404.1,98.22 404.9,106.46 405.7,103.62 406.5,95.9 407.3,95.29 408.1,104.4 408.9,96.12 409.7,95.72 410.5,97.05 411.3,98.36 412.1,99.1 412.9,99.22 413.7,99.64 414.5,97.49 415.3,94.53 416.1,100.37 416.9,96.29 417.7,95.13 418.5,93.56 419.3,94.01 420.1,95.33 420.9,96.88 421.7,98.18 422.5,98.4 423.3,98.02 424.1,97.08 424.9,95.51 425.7,95.36 426.5,96.8 427.3,99.28 428.1,101.04 428.9,99.08 429.7,96.29 430.5,105.91 431.3,101.66 432.1,101.55 432.9,98.67 433.7,98.05 434.5,97.94 435.3,97.08 436.1,97.45 436.9,99.04 437.7,98.01 438.5,95.76 439.3,96.39 440.1,97.35 440.9,96.49 441.7,96.64 442.5,97.23 443.3,95.99 444.1,95.52 444.9,95.87 445.7,96.36 446.5,97.12 447.3,96.62 448.1,104.47 448.9,98.4 449.7,97.33 450.5,95.98 451.3,96.91 452.1,97.92 452.9,98.26 453.7,97.53 454.5,94.62 455.3,92.49 456.1,93.33 456.9,94.77 457.7,95.67 458.5,99.73 459.3,98.3 460.1,106.18 460.9,95.87 461.7,104.57 462.5,104.62 463.3,97.86 464.1,97.23 464.9,105.78 465.7,96.94 466.5,95.67 467.3,95.72 468.1,97.26 468.9,97.57 469.7,97.68 470.5,96.69 471.3,94.57 472.1,95.17 472.9,96.51 473.7,101.63 474.5,101.79 475.3,95.65 476.1,96.33 476.9,102.47 477.7,104.26 478.5,96.94 479.3,97.3 480.1,97.54 480.9,96.37 481.7,95.43"/>
<polyline stroke="#EDB120" points="46.5,97.38 47.3,98.36 48.1,97.77 48.9,104.13 49.7,100.43 50.5,100.94 51.3,99.62 52.1,97.68 52.9,96.8 53.7,96.62 54.5,95.6 55.3,96.88 56.1,99.86 56.9,100.42 57.7,99.8 58.5,99.85 59.3,99.02 60.1,97.8 60.9,97.39 61.7,97.94 62.5,105.77 63.3,101.87 64.1,103.07 64.9,103.05 65.7,100.97 66.5,99.42 67.3,99.28 68.1,97.66 68.9,96.81 69.7,103.8 70.5,100.59 71.3,100.62 72.1,99.72 72.9,97.71 73.7,97.14 74.5,98.02 75.3,98.37 76.1,95.39 76.9,94.92 77.7,98.63 78.5,99.76 79.3,98.79 80.1,102.68 80.9,106.07 81.7,98.73 82.5,98.02 83.3,101.02 84.1,103.29 84.9,101.96 85.7,106.89 86.5,98.61 87.3,100.19 88.1,105.3 88.9,104.89 89.7,97.44 90.5,100.66 91.3,97.59 92.1,97 92.9,98.76 93.7,101.09 94.5,99.43 95.3,104.83 96.1,97.27 96.9,97.12 97.7,98.05 98.5,99.19 99.3,100.27 100.1,100.29 100.9,100.52 101.7,101.82 102.5,101.48 103.3,99.29 104.1,98.64 104.9,100.5 105.7,101.91 106.5,100.62 107.3,99.38 108.1,99.34 108.9,99.41 109.7,100.39 110.5,99.29 111.3,96.87 112.1,100.74 112.9,99.26 113.7,108.06 114.5,103.71 115.3,98.76 116.1,98.82 116.9,100.04 117.7,99.73 118.5,98.87 119.3,97.85 120.1,98.78 120.9,100.64 121.7,99.69 122.5,99.18 123.3,99.7 124.1,99.54 124.9,98.75 125.7,97.73 126.5,99.13 127.3,100.97 128.1,100.19 128.9,98.87 129.7,98.44 130.5,101.37 131.3,98.27 132.1,98.29 132.9,98.18 133.7,96.94 134.5,98.93 135.3,100.31 136.1,97.75 136.9,95.84 137.7,95.21 138.5,95.5 139.3,97.1 140.1,101.58 140.9,98.33 141.7,107 142.5,102.74 143.3,95.61 144.1,95.05 144.9,105.14 145.7,108.31 146.5,107.02 147.3,102.27 148.1,101.55 148.9,100.2 149.7,100.07 150.5,101.82 151.3,108.2 152.1,98.08 152.9,97.46 153.7,100.89 154.5,100.06 155.3,98.61 156.1,101.07 156.9,109.07 157.7,100.09 158.5,99.7 159.3,98.81 160.1,95.84 160.9,94.99 161.7,96.87 162.5,98.75 163.3,98.77 164.1,98 164.9,97.48 165.7,95.93 166.5,96.38 167.3,98.28 168.1,101.72 168.9,95.5 169.7,97.43 170.5,99.97 171.3,100.2 172.1,99.46 172.9,98.89 173.7,98.96 174.5,98.7 175.3,96.82 176.1,96.6 176.9,106.08 177.7,101.13 178.5,105.57 179.3,98.21 180.1,98.67 180.9,99.27 181.7,99.53 182.5,99.1 183.3,96.59 184.1,96.17 184.9,100.82 185.7,103.65 186.5,101.79 187.3,99.75 188.1,98.83 188.9,98.2 189.7,95.98 190.5,94.77 191.3,97.82 192.1,99.37 192.9,107.07 193.7,100.55 194.5,99.38 195.3,100.12 196.1,101.92 196.9,100.65 197.7,97.97 198.5,96.17 199.3,95.91 200.1,104.16 200.9,99.03 201.7,98.46 202.5,96.66 203.3,96.81 204.1,98.8 204.9,97.25 205.7,96.04 206.5,97.57 207.3,98.92 208.1,100.28 208.9,108.53 209.7,100.17 210.5,102.18 211.3,103.32 212.1,96.69 212.9,103.41 213.7,101.41 214.5,100.38 215.3,103.23 216.1,102.68 216.9,102.72 217.7,99.14 218.5,98.75 219.3,99.33 220.1,99.48 220.9,98.6 221.7,99.61 222.5,107.73 223.3,96.57 224.1,95.11 224.9,97.43 225.7,98.28 226.5,106.3 227.3,98.8 228.1,96.24 228.9,95.87 229.7,100.04 230.5,99.93 231.3,96.99 232.1,97.02 232.9,95.26 233.7,94.37 234.5,96.66 235.3,99.17 236.1,100.22 236.9,99.78 237.7,102.1 238.5,101.96 239.3,98.52 240.1,103.9 240.9,97.38 241.7,95.67 242.5,94.8 243.3,96.1 244.1,99.15 244.9,101.88 245.7,101.49 246.5,99.75 247.3,98.72 248.1,97.26 248.9,96.75 249.7,98.23 250.5,100.28 251.3,106.51 252.1,101.18 252.9,98.24 253.7,106.89 254.5,99.56 255.3,98.88 256.1,98.09 256.9,98.46 257.7,103 258.5,97.22 259.3,96.65 260.1,97.1 260.9,104.77 261.7,98.86 262.5,99.64 263.3,99.79 264.1,99.68 264.9,99.66 265.7,98.66 266.5,98.27 267.3,100.76 268.1,101.93 268.9,104.67 269.7,97.69 270.5,98.45 271.3,99.06 272.1,98.16 272.9,103.52 273.7,98.25 274.5,98.92 275.3,97.65 276.1,96.94 276.9,106.79 277.7,98.98 278.5,97.43 279.3,97.03 280.1,97.7 280.9,106.85 281.7,100.92 282.5,100.64 283.3,104.38 284.1,101.08 284.9,100.86 285.7,100.13 286.5,94.36 287.3,97.11 288.1,99.68 288.9,98.96 289.7,96.98 290.5,101.37 291.3,98.2 292.1,96.76 292.9,96.21 293.7,97.49 294.5,98.67 295.3,99.33 296.1,99.46 296.9,99.28 297.7,98.52 298.5,97.29 299.3,97.48 300.1,97.97 300.9,100.88 301.7,98.89 302.5,99.47 303.3,97.65 304.1,97.88 304.9,100 305.7,100.88 306.5,100.72 307.3,107.98 308.1,99.62 308.9,99.74 309.7,98.93 310.5,98.78 311.3,97.85 312.1,95.92 312.9,96.88 313.7,98.09 314.5,98.28 315.3,98.24 316.1,104.7 316.9,104.1 317.7,98.31 318.5,99.5 319.3,100 320.1,101.23 320.9,100.08 321.7,98.52 322.5,106.97 323.3,100.9 324.1,101.11 324.9,100.83 325.7,99.73 326.5,98.3 327.3,98.93 328.1,104.16 328.9,97.34 329.7,99.24 330.5,102.37 331.3,101.37 332.1,105.98 332.9,97.57 333.7,97.84 334.5,98.8 335.3,99.88 336.1,100.36 336.9,101.12 337.7,101.47 338.5,101.27 339.3,100.87 340.1,100.01 340.9,99.91 341.7,99.29 342.5,98.1 343.3,97.52 344.1,96.13 344.9,97.08 345.7,99.17 346.5,99.4 347.3,99.13 348.1,97.47 348.9,98 349.7,101.62 350.5,103.03 351.3,102 352.1,100.3 352.9,99.14 353.7,100.04 354.5,99.74 355.3,98.31 356.1,98.31 356.9,98.67 357.7,98.53 358.5,98.69 359.3,99.31 360.1,99.62 360.9,100.11 361.7,100.35 362.5,100.58 363.3,99.6 364.1,97.3 364.9,97.99 365.7,101.2 366.5,102.06 367.3,100.01 368.1,98.5 368.9,98.79 369.7,98.9 370.5,100.22 371.3,107.67 372.1,100.65 372.9,106.58 373.7,83.62 374.5,51.87 375.3,19.62 375.4,15.59 376.1,66.02 376.9,73.8 377.7,77.5 378.5,79.78 379.3,81.13 380.1,82.27 380.9,83.54 381.7,84.51 382.5,85.36 383.3,86.05 384.1,86.56 384.9,87.23 385.7,88.39 386.5,88.71 387.3,89.27 388.1,89.56 388.9,89.86 389.7,90.3 390.5,90.48 391.3,90.93 392.1,91.43 392.9,92.17 393.7,93.29 394.5,94.12 395.3,94.67 396.1,94.76 396.9,94.47 397.7,94.48 398.5,95.31 399.3,96.01 400.1,95.98 400.9,95.78 401.7,99.69 402.5,97.48 403.3,98.79 404.1,98.3 404.9,97.13 405.7,97.94 406.5,101.29 407.3,101.03 408.1,97.36 408.9,102.15 409.7,96.93 410.5,97.66 411.3,97.42 412.1,96.15 412.9,103.44 413.7,99.13 414.5,99.34 415.3,99.63 416.1,100.1 416.9,98.26 417.7,96.97 418.5,98.32 419.3,99.74 420.1,98.79 420.9,97.02 421.7,97.12 422.5,98.03 423.3,96.58 424.1,95.64 424.9,98.08 425.7,99.64 426.5,100.32 427.3,101.09 428.1,99.02 428.9,97.26 429.7,98.93 430.5,98.73 431.3,96.71 432.1,100.05 432.9,98.19 433.7,99.07 434.5,99.08 435.3,98.28 436.1,100.54 436.9,97.45 437.7,98.65 438.5,100.11 439.3,99.26 440.1,98.89 440.9,99.4 441.7,98.88 442.5,98.22 443.3,98.02 444.1,98.52 444.9,99.32 445.7,104.88 446.5,96.08 447.3,96.55 448.1,98.38 448.9,99.09 449.7,99.29 450.5,104.76 451.3,97.98 452.1,104.05 452.9,96.03 453.7,95.17 454.5,96.45 455.3,99.28 456.1,106.47 456.9,100.36 457.7,102.18 458.5,101.84 459.3,99.1 460.1,96.7 460.9,97.61 461.7,99.03 462.5,99.52 463.3,99.78 464.1,99.16 464.9,99.98 465.7,101.58 466.5,98.34 467.3,93.9 468.1,100.42 468.9,98.02 469.7,98.63 470.5,99.67 471.3,98.76 472.1,98.65 472.9,101.02 473.7,101.31 474.5,100.12 475.3,99.88 476.1,99.57 476.9,98.07 477.7,96.92 478.5,96.86 479.3,96.35 480.1,97.02 480.9,104.35 481.7,98.87"/>
<polyline stroke="#0072BD" points="46.5,95 47.3,95.92 48.1,97.51 48.9,103.55 49.7,95.33 50.5,94.94 51.3,95.37 52.1,95.3 52.9,94.99 53.7,93.92 54.5,94.3 55.3,96.53 56.1,97.24 56.9,95.81 57.7,94.65 58.5,96.54 59.3,98.38 60.1,103.07 60.9,97.59 61.7,97.85 62.5,98.02 63.3,99.26 64.1,103.41 64.9,95.12 65.7,99.25 66.5,97.07 67.3,95.24 68.1,95.3 68.9,97.82 69.7,97.67 70.5,96.68 71.3,96.82 72.1,96.95 72.9,97.87 73.7,97.87 74.5,103.25 75.3,95.77 76.1,105.07 76.9,97.26 77.7,98.38 78.5,97.73 79.3,95.18 80.1,95.62 80.9,96.68 81.7,95.75 82.5,95.18 83.3,95.89 84.1,97.86 84.9,98.77 85.7,97.94 86.5,97.65 87.3,97.4 88.1,96.43 88.9,95.17 89.7,94.62 90.5,96.69 91.3,98.07 92.1,96.02 92.9,100.78 93.7,97.31 94.5,96.39 95.3,95.98 96.1,96.69 96.9,96.13 97.7,95.31 98.5,94.6 99.3,94.51 100.1,95.57 100.9,94.8 101.7,93.97 102.5,96.25 103.3,97.44 104.1,96.38 104.9,94.86 105.7,101.85 106.5,101.62 107.3,96.28 108.1,95.36 108.9,94.21 109.7,102.39 110.5,95.48 111.3,95.47 112.1,96 112.9,105.12 113.7,96.52 114.5,96.08 115.3,95.64 116.1,95.49 116.9,96.49 117.7,97.7 118.5,98.12 119.3,97.51 120.1,96.39 120.9,95.07 121.7,95.33 122.5,96.45 123.3,95.35 124.1,94.51 124.9,96.41 125.7,96.3 126.5,93.64 127.3,93.66 128.1,93.54 128.9,93.27 129.7,95.51 130.5,97.5 131.3,98.05 132.1,96.55 132.9,104.53 133.7,97.47 134.5,97.85 135.3,97.11 136.1,95.67 136.9,94.61 137.7,95.67 138.5,103.56 139.3,97.52 140.1,98.58 140.9,98.62 141.7,98.1 142.5,98.24 143.3,99.5 144.1,98.78 144.9,97.89 145.7,105.87 146.5,98.8 147.3,96.79 148.1,97.26 148.9,96.88 149.7,96.52 150.5,98.37 151.3,98.01 152.1,95.76 152.9,95.68 153.7,96.42 154.5,96.63 155.3,97.06 156.1,98.45 156.9,99.34 157.7,98.73 158.5,98.02 159.3,97.59 160.1,96.77 160.9,96.25 161.7,96.07 162.5,95.84 163.3,96.08 164.1,95.05 164.9,93.2 165.7,99.18 166.5,102.86 167.3,96.43 168.1,96.48 168.9,95.61 169.7,95.19 170.5,99.59 171.3,96.61 172.1,95.27 172.9,95.18 173.7,96.87 174.5,96.81 175.3,94.96 176.1,94.01 176.9,94.92 177.7,96.24 178.5,104.03 179.3,94.6 180.1,93.98 180.9,98.41 181.7,95.81 182.5,105.21 183.3,96.04 184.1,104.05 184.9,96.34 185.7,96.53 186.5,96.83 187.3,101.06 188.1,100.03 188.9,93.32 189.7,93.36 190.5,96 191.3,98.42 192.1,98.1 192.9,96.23 193.7,95.82 194.5,96.91 195.3,98.87 196.1,98.95 196.9,97.14 197.7,97.23 198.5,98.47 199.3,97.54 200.1,96.04 200.9,95.95 201.7,94.81 202.5,93.69 203.3,94.76 204.1,96.24 204.9,96.15 205.7,96 206.5,97.92 207.3,98.46 208.1,97.82 208.9,97.44 209.7,96.33 210.5,96.08 211.3,103.04 212.1,96.45 212.9,96.73 213.7,97.57 214.5,99.27 215.3,99.03 216.1,96.13 216.9,93.35 217.7,93.48 218.5,95.5 219.3,96.52 220.1,95.04 220.9,93.74 221.7,92.99 222.5,93.43 223.3,96.94 224.1,98.52 224.9,97.8 225.7,97.55 226.5,96.46 227.3,100.91 228.1,95.88 228.9,95.89 229.7,98.69 230.5,95.46 231.3,96.98 232.1,96.73 232.9,95.41 233.7,96.44 234.5,97.29 235.3,96.62 236.1,96.43 236.9,96.36 237.7,95.87 238.5,94.97 239.3,95.26 240.1,97.43 240.9,97.26 241.7,95.47 242.5,103.23 243.3,99.69 244.1,99.51 244.9,97.83 245.7,98.16 246.5,99.43 247.3,99.15 248.1,101.51 248.9,95.55 249.7,95.38 250.5,96.9 251.3,97.91 252.1,103.65 252.9,95.47 253.7,95.03 254.5,94.84 255.3,102.88 256.1,95.1 256.9,95.63 257.7,95.86 258.5,100.2 259.3,94.52 260.1,95.69 260.9,97.71 261.7,98.33 262.5,97.63 263.3,96.97 264.1,100.27 264.9,94.65 265.7,94.18 266.5,95.49 267.3,96.7 268.1,101.81 268.9,96.92 269.7,97.51 270.5,96.61 271.3,91.86 272.1,63.93 272.9,31.71 273.3,15.59 273.7,59.73 274.5,71.62 275.3,76.29 276.1,78.92 276.9,80.69 277.7,81.92 278.5,82.77 279.3,83.62 280.1,84.58 280.9,85.29 281.7,85.72 282.5,86.54 283.3,87.39 284.1,87.77 284.9,87.95 285.7,88.1 286.5,88.76 287.3,89.95 288.1,90.26 288.9,89.27 289.7,92.52 290.5,91.12 291.3,92.33 292.1,93.11 292.9,93.5 293.7,93.48 294.5,93.67 295.3,93.73 296.1,93.2 296.9,93.44 297.7,93.72 298.5,93.49 299.3,94.59 300.1,95.54 300.9,94.09 301.7,92.52 302.5,93.4 303.3,94.46 304.1,95.07 304.9,95.19 305.7,96.13 306.5,98.21 307.3,101.87 308.1,96.82 308.9,95.33 309.7,92.76 310.5,91.71 311.3,93.37 312.1,94.53 312.9,93.9 313.7,94.25 314.5,96.33 315.3,96.84 316.1,95.79 316.9,96.53 317.7,97.63 318.5,97.41 319.3,97.07 320.1,95.51 320.9,95.86 321.7,104.06 322.5,96.61 323.3,95.86 324.1,96.08 324.9,94.12 325.7,92.85 326.5,94.95 327.3,100.95 328.1,99.05 328.9,98.87 329.7,97.31 330.5,95.21 331.3,95.12 332.1,95.46 332.9,95.09 333.7,95.56 334.5,96.57 335.3,97.46 336.1,97.34 336.9,97.16 337.7,96.52 338.5,94.8 339.3,95.34 340.1,96.15 340.9,95.95 341.7,96.21 342.5,95.48 343.3,94.32 344.1,94.21 344.9,95.94 345.7,97.47 346.5,98.15 347.3,98.01 348.1,97.25 348.9,97.1 349.7,96.81 350.5,96.13 351.3,96.83 352.1,98.34 352.9,97.18 353.7,95.89 354.5,96.54 355.3,95.91 356.1,94.74 356.9,95.39 357.7,96.1 358.5,96.48 359.3,99.6 360.1,95.91 360.9,96.02 361.7,97.42 362.5,105.58 363.3,97.93 364.1,97.09 364.9,97.44 365.7,97.23 366.5,95.89 367.3,95.6 368.1,95.83 368.9,99.26 369.7,95.77 370.5,96.54 371.3,97.38 372.1,96.85 372.9,96.66 373.7,96.55 374.5,96.37 375.3,104.01 376.1,97.12 376.9,94.35 377.7,93.52 378.5,94.86 379.3,94.83 380.1,95.47 380.9,97.27 381.7,97.79 382.5,97.33 383.3,101.33 384.1,96.97 384.9,97.26 385.7,100.77 386.5,96.56 387.3,97.72 388.1,97.64 388.9,95.32 389.7,93.9 390.5,93.96 391.3,95.59 392.1,96.25 392.9,95.31 393.7,95.74 394.5,96.96 395.3,97.09 396.1,97.69 396.9,98.52 397.7,98.23 398.5,97.81 399.3,103.28 400.1,97.18 400.9,94.88 401.7,93.03 402.5,95.8 403.3,96.65 404.1,94.88 404.9,96.28 405.7,97.1 406.5,97.12 407.3,99.8 408.1,100.53 408.9,103.66 409.7,99.09 410.5,98.61 411.3,95.86 412.1,94.56 412.9,95.95 413.7,97.72 414.5,98.1 415.3,97.05 416.1,96.44 416.9,95.32 417.7,94.63 418.5,96.86 419.3,99.33 420.1,97.83 420.9,95.01 421.7,94.24 422.5,95.72 423.3,98.16 424.1,97.84 424.9,97.51 425.7,98.7 426.5,97.42 427.3,95.14 428.1,99.71 428.9,96.38 429.7,95.46 430.5,95.27 431.3,102.38 432.1,95.92 432.9,95.23 433.7,95.67 434.5,95.15 435.3,94.91 436.1,94.41 436.9,94.31 437.7,95.55 438.5,96.84 439.3,97.11 440.1,99.26 440.9,95.05 441.7,94.48 442.5,95.29 443.3,94.86 444.1,93.81 444.9,94.56 445.7,94.53 446.5,93.97 447.3,94.92 448.1,95.25 448.9,95.16 449.7,96.6 450.5,98.54 451.3,98.8 452.1,101.51 452.9,94.41 453.7,93.38 454.5,93.13 455.3,94.56 456.1,97.36 456.9,98.71 457.7,104.68 458.5,97.33 459.3,96.75 460.1,96.06 460.9,96.3 461.7,95.56 462.5,100.92 463.3,98.13 464.1,97.05 464.9,94.48 465.7,100.34 466.5,96.26 467.3,97.94 468.1,97.71 468.9,95.81 469.7,94.38 470.5,94.95 471.3,95.92 472.1,95.55 472.9,96.23 473.7,98.5 474.5,98.49 475.3,96.08 476.1,94.12 476.9,94.69 477.7,96.53 478.5,104.91 479.3,97.37 480.1,97.09 480.9,96.54 481.7,96.6"/>
<polyline stroke="#EDB120" points="46.5,99.21 47.3,97.22 48.1,95.81 48.9,98.39 49.7,99.87 50.5,106.24 51.3,100.51 52.1,101.32 52.9,103.66 53.7,95.86 54.5,96.15 55.3,99.46 56.1,100.76 56.9,103.29 57.7,100.01 58.5,100.03 59.3,99.43 60.1,99.32 60.9,98.97 61.7,98.95 62.5,98.05 63.3,95.55 64.1,96.52 64.9,100.03 65.7,100.99 66.5,100.3 67.3,100.41 68.1,99.5 68.9,96.8 69.7,97.3 70.5,99.43 71.3,98.93 72.1,97.96 72.9,98.3 73.7,97.79 74.5,96.24 75.3,95.8 76.1,96.3 76.9,97.19 77.7,102.92 78.5,96.89 79.3,104 80.1,98.78 80.9,101.46 81.7,101.8 82.5,104.48 83.3,106.03 84.1,97.86 84.9,97.71 85.7,96.08 86.5,96.48 87.3,98.48 88.1,96.49 88.9,99.74 89.7,98.57 90.5,99.94 91.3,98.59 92.1,98.7 92.9,99.62 93.7,98.25 94.5,95.94 95.3,96.99 96.1,100.72 96.9,102.88 97.7,101.7 98.5,100.07 99.3,106.76 100.1,105.24 100.9,98.7 101.7,99.1 102.5,103.19 103.3,97.83 104.1,96.4 104.9,96.9 105.7,97.62 106.5,97.16 107.3,97.49 108.1,100.43 108.9,101.87 109.7,99.01 110.5,95.17 111.3,95.96 112.1,99.75 112.9,100.01 113.7,98.4 114.5,97.76 115.3,97.93 116.1,100.22 116.9,101.28 117.7,98.31 118.5,97.75 119.3,101.65 120.1,108.95 120.9,102.36 121.7,101.7 122.5,100.52 123.3,99.77 124.1,104.8 124.9,98.78 125.7,98.49 126.5,97.99 127.3,106.75 128.1,99.89 128.9,99.4 129.7,103.06 130.5,98.37 131.3,99.17 132.1,99.85 132.9,98.41 133.7,97.63 134.5,98.94 135.3,101.36 136.1,101.05 136.9,98.78 137.7,98.18 138.5,97.82 139.3,100.25 140.1,97.52 140.9,96.85 141.7,96.36 142.5,97.74 143.3,103.76 144.1,97.63 144.9,97.24 145.7,98.3 146.5,99.38 147.3,97.68 148.1,96.42 148.9,98.04 149.7,99.08 150.5,102.31 151.3,99.3 152.1,100.11 152.9,97.69 153.7,97.13 154.5,98.65 155.3,97.83 156.1,96.76 156.9,97.02 157.7,96.74 158.5,96.5 159.3,97.21 160.1,96.58 160.9,95.75 161.7,97.43 162.5,104.19 163.3,96.7 164.1,95.54 164.9,97.51 165.7,98.13 166.5,97.26 167.3,97.56 168.1,98.84 168.9,97.77 169.7,101.38 170.5,96.87 171.3,98.69 172.1,98.12 172.9,97.07 173.7,97.75 174.5,100.03 175.3,102.01 176.1,98.28 176.9,100.56 177.7,100.54 178.5,98.69 179.3,98.68 180.1,99.06 180.9,99.65 181.7,101.29 182.5,99.84 183.3,97.41 184.1,98.22 184.9,98.73 185.7,97.99 186.5,97.4 187.3,97.45 188.1,97.17 188.9,96.62 189.7,98.78 190.5,101.6 191.3,100.03 192.1,96.48 192.9,96.43 193.7,99.59 194.5,101.88 195.3,106.98 196.1,95.46 196.9,94.69 197.7,97.37 198.5,101.32 199.3,102.46 200.1,101.71 200.9,101.19 201.7,100.49 202.5,100.03 203.3,99.06 204.1,90.67 204.9,59.93 205.7,27.68 206,15.59 206.5,62.27 207.3,72.47 208.1,76.81 208.9,79.45 209.7,81.12 210.5,82.44 211.3,83.43 212.1,84.12 212.9,84.67 213.7,85.63 214.5,86.62 215.3,87.38 216.1,88.03 216.9,88.51 217.7,88.97 218.5,89.47 219.3,89.76 220.1,89.93 220.9,90.78 221.7,91.67 222.5,93.26 223.3,92.6 224.1,92.87 224.9,92.55 225.7,92.49 226.5,93.51 227.3,94.5 228.1,96.6 228.9,94.25 229.7,94.73 230.5,95.23 231.3,94.11 232.1,92.57 232.9,92.58 233.7,97.61 234.5,96.41 235.3,97.03 236.1,97.65 236.9,97.85 237.7,97.02 238.5,97.73 239.3,98.46 240.1,98.63 240.9,97.72 241.7,96.3 242.5,97.17 243.3,98.98 244.1,98.69 244.9,103.48 245.7,97.47 246.5,97.39 247.3,98.49 248.1,100.62 248.9,98.72 249.7,95.19 250.5,94.55 251.3,96.7 252.1,98.24 252.9,100.54 253.7,95.61 254.5,98.52 255.3,99.95 256.1,99.44 256.9,100.52 257.7,103.06 258.5,103.87 259.3,102.32 260.1,100.01 260.9,98.76 261.7,98.88 262.5,102.65 263.3,97.4 264.1,101.18 264.9,95.96 265.7,98.67 266.5,105.44 267.3,104.51 268.1,97.48 268.9,96.5 269.7,97.81 270.5,100.75 271.3,100.99 272.1,98.6 272.9,95.99 273.7,94.75 274.5,100.38 275.3,99.13 276.1,100.14 276.9,100.96 277.7,101.94 278.5,101.85 279.3,100.35 280.1,99.52 280.9,99.73 281.7,99.45 282.5,99.28 283.3,99.57 284.1,99.31 284.9,98.63 285.7,100.39 286.5,102.29 287.3,100.18 288.1,105.97 288.9,105.61 289.7,99.45 290.5,99.54 291.3,99.71 292.1,99.44 292.9,98.17 293.7,98.82 294.5,101.08 295.3,100.3 296.1,97.98 296.9,97.6 297.7,99.1 298.5,100.78 299.3,100.45 300.1,105.34 300.9,98.26 301.7,99.2 302.5,100.15 303.3,100.07 304.1,100.5 304.9,101.59 305.7,101.77 306.5,105.04 307.3,101.19 308.1,98.66 308.9,96.74 309.7,100.61 310.5,99.83 311.3,100.27 312.1,102.67 312.9,99.54 313.7,102.7 314.5,100.65 315.3,100.45 316.1,99.2 316.9,101.1 317.7,101.53 318.5,99.6 319.3,99.07 320.1,97.85 320.9,97.33 321.7,98.36 322.5,100.15 323.3,101.98 324.1,109.92 324.9,99.63 325.7,99.8 326.5,106.13 327.3,101.96 328.1,100.96 328.9,99.26 329.7,97.63 330.5,97.52 331.3,97.72 332.1,96.56 332.9,98.51 333.7,96.86 334.5,104.55 335.3,97.89 336.1,98.16 336.9,99.96 337.7,98.52 338.5,96.96 339.3,97.14 340.1,97.15 340.9,97.41 341.7,99.03 342.5,99.4 343.3,97.7 344.1,98.29 344.9,99.42 345.7,97.28 346.5,95.6 347.3,97.08 348.1,98.28 348.9,97.22 349.7,96.57 350.5,97.22 351.3,98.59 352.1,100.03 352.9,100.62 353.7,99.61 354.5,98.58 355.3,99.78 356.1,100.07 356.9,99.03 357.7,100.48 358.5,102.45 359.3,105.94 360.1,105.94 360.9,103.91 361.7,106.11 362.5,100.61 363.3,101.48 364.1,100.15 364.9,99.44 365.7,99.52 366.5,99.82 367.3,100.34 368.1,98.57 368.9,107.39 369.7,101.84 370.5,100.64 371.3,98.22 372.1,97.99 372.9,98.47 373.7,98.71 374.5,98.45 375.3,98.46 376.1,97.56 376.9,95.84 377.7,95.64 378.5,104.8 379.3,99.48 380.1,99.28 380.9,98.48 381.7,98.9 382.5,99.14 383.3,98.57 384.1,95.93 384.9,103.32 385.7,99.12 386.5,101.39 387.3,102.16 388.1,99.57 388.9,96.8 389.7,97.36 390.5,97.37 391.3,95.76 392.1,96.35 392.9,98.12 393.7,98.61 394.5,96.41 395.3,94.42 396.1,97.57 396.9,100.79 397.7,102.09 398.5,99.55 399.3,103.52 400.1,98.53 400.9,99.81 401.7,100.29 402.5,99.66 403.3,100.07 404.1,100.68 404.9,100.59 405.7,102.03 406.5,95.93 407.3,95.78 408.1,101.11 408.9,97.76 409.7,96.63 410.5,98.42 411.3,100.34 412.1,105.47 412.9,97.16 413.7,97.54 414.5,99.07 415.3,100.14 416.1,99.82 416.9,98.74 417.7,99.7 418.5,101.39 419.3,106.78 420.1,107.22 420.9,100.77 421.7,107.29 422.5,101.85 423.3,100.97 424.1,105.9 424.9,102.33 425.7,100.15 426.5,99.86 427.3,101.23 428.1,99.96 428.9,98.5 429.7,98.59 430.5,98.87 431.3,98.42 432.1,98.97 432.9,100.83 433.7,106.42 434.5,106.94 435.3,99.38 436.1,100.64 436.9,100.6 437.7,103.07 438.5,100.59 439.3,102.45 440.1,103.47 440.9,102.25 441.7,98.4 442.5,94.81 443.3,100.81 444.1,96.5 444.9,96.93 445.7,96.42 446.5,97.26 447.3,97.83 448.1,98.22 448.9,101.48 449.7,103.79 450.5,101.21 451.3,97.16 452.1,102.28 452.9,98.22 453.7,99.29 454.5,99.1 455.3,99.14 456.1,99.36 456.9,99.17 457.7,98.84 458.5,97.98 459.3,106.37 460.1,100.73 460.9,105.15 461.7,100.59 462.5,101.11 463.3,101.99 464.1,100.91 464.9,103.45 465.7,98.64 466.5,98.39 467.3,105.9 468.1,100.68 468.9,100.84 469.7,99.83 470.5,99.52 471.3,98.37 472.1,105.71 472.9,98.66 473.7,98.52 474.5,96.05 475.3,97.25 476.1,98.55 476.9,98.25 477.7,99.36 478.5,103.23 479.3,98.75 480.1,107.22 480.9,99.81 481.7,97.94"/>
<polyline stroke="#7E2F8E" points="46.5,95.25 47.3,95.82 48.1,98.51 48.9,99.51 49.7,96.5 50.5,101.38 51.3,99.81 52.1,95.57 52.9,95.05 53.7,95.12 54.5,100.58 55.3,104.77 56.1,98.19 56.9,98.18 57.7,98.46 58.5,99.63 59.3,99.92 60.1,97.46 60.9,97.41 61.7,99.16 62.5,97.03 63.3,96.36 64.1,97.43 64.9,96.92 65.7,96.89 66.5,96.04 67.3,94.78 68.1,95.31 68.9,96.3 69.7,96.95 70.5,97.73 71.3,98.13 72.1,98.01 72.9,97.08 73.7,95.89 74.5,95.79 75.3,95.06 76.1,93.86 76.9,94.98 77.7,95.86 78.5,96.23 79.3,97.2 80.1,97.78 80.9,99.73 81.7,99.66 82.5,97.91 83.3,99.13 84.1,101 84.9,99.96 85.7,98.54 86.5,105.52 87.3,96.29 88.1,93.92 88.9,94.04 89.7,103.36 90.5,96.91 91.3,95.5 92.1,92.58 92.9,92.92 93.7,94.9 94.5,100.1 95.3,96.35 96.1,106.06 96.9,97.26 97.7,98.47 98.5,99.46 99.3,97.33 100.1,96.75 100.9,97.17 101.7,97.71 102.5,96.71 103.3,94.67 104.1,94.99 104.9,97.05 105.7,97.97 106.5,97.02 107.3,96.7 108.1,97.23 108.9,97.55 109.7,96.58 110.5,96.75 111.3,98.11 112.1,97.89 112.9,96.89 113.7,95.44 114.5,95.4 115.3,94.42 116.1,92.13 116.9,93.88 117.7,96.12 118.5,95.65 119.3,94.89 120.1,103.16 120.9,95.87 121.7,95.14 122.5,96.36 123.3,98.06 124.1,98.16 124.9,96.35 125.7,94.28 126.5,95.93 127.3,104.71 128.1,97.48 128.9,95.87 129.7,95.51 130.5,102.48 131.3,94.74 132.1,92.79 132.9,94.88 133.7,105.73 134.5,97.61 135.3,96.56 136.1,95.49 136.9,93.78 137.7,93.36 138.5,95.19 139.3,97.08 140.1,97.76 140.9,97.4 141.7,97.1 142.5,97.49 143.3,97.61 144.1,96.97 144.9,96.94 145.7,96.64 146.5,95.07 147.3,95.1 148.1,95.35 148.9,93.99 149.7,93.98 150.5,93.6 151.3,94.36 152.1,97.02 152.9,96.39 153.7,94.37 154.5,93.99 155.3,94.2 156.1,95.85 156.9,98.68 157.7,98.61 158.5,97.94 159.3,99.41 160.1,98.92 160.9,97.08 161.7,95.74 162.5,95.11 163.3,96.35 164.1,98.3 164.9,98.27 165.7,96.42 166.5,95.42 167.3,95.73 168.1,96.21 168.9,97.4 169.7,98.51 170.5,97.17 171.3,96.47 172.1,105.57 172.9,96.43 173.7,93.95 174.5,93.19 175.3,95.41 176.1,104.73 176.9,99.21 177.7,100.05 178.5,100.79 179.3,99.71 180.1,96.98 180.9,102.23 181.7,97.37 182.5,99.97 183.3,101.65 184.1,99.35 184.9,94.99 185.7,95.03 186.5,97.68 187.3,97.36 188.1,104.6 188.9,98.33 189.7,97.59 190.5,95.4 191.3,94.53 192.1,94.82 192.9,95.59 193.7,95.99 194.5,96.05 195.3,102.52 196.1,94.39 196.9,100.03 197.7,95.87 198.5,96.88 199.3,97.66 200.1,97.41 200.9,97.68 201.7,97.42 202.5,94.8 203.3,93.29 204.1,95.03 204.9,97.09 205.7,98.67 206.5,98.69 207.3,99.8 208.1,96.02 208.9,97.28 209.7,97.65 210.5,96.79 211.3,95.26 212.1,95.26 212.9,94.85 213.7,95.57 214.5,98.2 215.3,97.4 216.1,96.21 216.9,96.84 217.7,95.98 218.5,95.4 219.3,97.11 220.1,105.31 220.9,94.08 221.7,93.8 222.5,94.76 223.3,95.16 224.1,96.15 224.9,97.03 225.7,96.78 226.5,103.29 227.3,98.06 228.1,99.12 228.9,97.68 229.7,96.41 230.5,96.13 231.3,95.59 232.1,95.11 232.9,95.02 233.7,95.89 234.5,96.34 235.3,95.34 236.1,95.31 236.9,97.14 237.7,97.11 238.5,95.72 239.3,96.13 240.1,96.73 240.9,96.8 241.7,95.67 242.5,93.47 243.3,94.29 244.1,98.14 244.9,101.56 245.7,101.56 246.5,96.98 247.3,93.95 248.1,95.39 248.9,96.24 249.7,96.3 250.5,96.83 251.3,95.43 252.1,93.54 252.9,93.58 253.7,95.16 254.5,96.99 255.3,97.95 256.1,96.77 256.9,93.91 257.7,99.96 258.5,95.88 259.3,104.89 260.1,104.11 260.9,96.96 261.7,96.01 262.5,95.3 263.3,95.65 264.1,97.89 264.9,99.99 265.7,99.43 266.5,99.69 267.3,98.26 268.1,95.08 268.9,95.9 269.7,97.38 270.5,97.7 271.3,96.87 272.1,96.26 272.9,104.09 273.7,97.59 274.5,96.24 275.3,94.78 276.1,94.62 276.9,96.95 277.7,102.87 278.5,101.44 279.3,94.39 280.1,95.32 280.9,96.17 281.7,96.51 282.5,97.08 283.3,96.58 284.1,96.15 284.9,97.36 285.7,98.25 286.5,98.18 287.3,98.75 288.1,98.12 288.9,96.16 289.7,96.51 290.5,97.78 291.3,97.4 292.1,102.26 292.9,97.27 293.7,97.63 294.5,96.68 295.3,96.89 296.1,98.47 296.9,97.82 297.7,95.84 298.5,95.38 299.3,100.18 300.1,95.13 300.9,96.53 301.7,95.96 302.5,95.1 303.3,96.7 304.1,98.16 304.9,98.13 305.7,98.05 306.5,97.94 307.3,97.97 308.1,97.92 308.9,96.59 309.7,95.74 310.5,96.57 311.3,103.82 312.1,94.05 312.9,93.26 313.7,96.04 314.5,97.36 315.3,96.48 316.1,96.44 316.9,96.21 317.7,96.63 318.5,97.57 319.3,105.17 320.1,98.42 320.9,99.29 321.7,97.06 322.5,95.43 323.3,96.25 324.1,97.11 324.9,97.2 325.7,96.27 326.5,95.09 327.3,94.83 328.1,101.51 328.9,97.8 329.7,98.96 330.5,102.6 331.3,95.31 332.1,95.79 332.9,95.95 333.7,95.25 334.5,95.77 335.3,103.36 336.1,104.51 336.9,96.01 337.7,96.71 338.5,99.11 339.3,99.75 340.1,97.11 340.9,94.43 341.7,93.73 342.5,98.35 343.3,97.28 344.1,96.76 344.9,97.01 345.7,98.63 346.5,100.26 347.3,106.08 348.1,99.11 348.9,97.68 349.7,105.09 350.5,96.49 351.3,95.13 352.1,94.07 352.9,94.62 353.7,95.45 354.5,97.31 355.3,98.53 356.1,99.08 356.9,98.08 357.7,83.36 358.5,51.87 359.3,19.62 359.4,15.59 360.1,65.99 360.9,73.73 361.7,77.43 362.5,79.88 363.3,81.17 364.1,82.29 364.9,83.33 365.7,84.06 366.5,84.92 367.3,85.95 368.1,86.59 368.9,87.05 369.7,87.92 370.5,88.2 371.3,87.84 372.1,88.66 372.9,89.76 373.7,91.15 374.5,90.77 375.3,90.97 376.1,91.62 376.9,92.71 377.7,92.9 378.5,94.01 379.3,93.51 380.1,93.43 380.9,92.24 381.7,97.08 382.5,98 383.3,95.04 384.1,94.34 384.9,94.84 385.7,96.1 386.5,97.14 387.3,96.6 388.1,95.37 388.9,98.12 389.7,93.47 390.5,95.7 391.3,99.03 392.1,99.26 392.9,101.89 393.7,96.66 394.5,95.68 395.3,100.99 396.1,98.87 396.9,99.16 397.7,97.14 398.5,98.32 399.3,100.14 400.1,99.1 400.9,98.19 401.7,98.83 402.5,97.97 403.3,96.59 404.1,97.02 404.9,96.66 405.7,96.26 406.5,95.33 407.3,102.28 408.1,95.12 408.9,94.73 409.7,96.33 410.5,97.36 411.3,95.67 412.1,94.52 412.9,95.22 413.7,96.86 414.5,96.55 415.3,99.11 416.1,94.22 416.9,95.55 417.7,95.03 418.5,94.95 419.3,102.4 420.1,106.1 420.9,98.75 421.7,98.74 422.5,100.33 423.3,98.86 424.1,97.54 424.9,97.52 425.7,94.54 426.5,94.12 427.3,104.51 428.1,97.62 428.9,97.29 429.7,97.82 430.5,97.38 431.3,98.2 432.1,94.11 432.9,100.57 433.7,103.13 434.5,96.91 435.3,97.11 436.1,96.66 436.9,97.59 437.7,97.9 438.5,97.72 439.3,99.07 440.1,98.86 440.9,97.65 441.7,98.16 442.5,99.46 443.3,99.08 444.1,97.13 444.9,96.08 445.7,96.6 446.5,97.62 447.3,97.94 448.1,99.08 448.9,99.96 449.7,97.07 450.5,95.01 451.3,96.74 452.1,101.84 452.9,96.04 453.7,100.01 454.5,95.56 455.3,96.69 456.1,100.73 456.9,97.96 457.7,106.15 458.5,100.68 459.3,96.34 460.1,97.04 460.9,104.69 461.7,96.79 462.5,96.21 463.3,96.1 464.1,95.61 464.9,95.4 465.7,95.48 466.5,95.57 467.3,95.47 468.1,94.93 468.9,98.16 469.7,95.47 470.5,97.36 471.3,99.02 472.1,106.14 472.9,96.72 473.7,96.23 474.5,95.55 475.3,95.66 476.1,98.63 476.9,100.03 477.7,98.58 478.5,97.72 479.3,96.7 480.1,94.05 480.9,93.58 481.7,96.67"/>
<polyline stroke="#0072BD" points="46.5,96.56 47.3,95.8 48.1,102.95 48.9,96.71 49.7,97.5 50.5,97.56 51.3,96.5 52.1,95.64 52.9,96.66 53.7,96.34 54.5,95.69 55.3,96.74 56.1,97.75 56.9,97.62 57.7,97.22 58.5,97.2 59.3,96.75 60.1,96.48 60.9,96.41 61.7,95.5 62.5,95.38 63.3,95.97 64.1,95.61 64.9,96.04 65.7,101.54 66.5,95.31 67.3,94.78 68.1,97.03 68.9,98.14 69.7,101.59 70.5,99.45 71.3,97.04 72.1,96.78 72.9,97.18 73.7,98.34 74.5,96.28 75.3,94.4 76.1,93.92 76.9,94.58 77.7,96.04 78.5,94.36 79.3,94.29 80.1,97.82 80.9,97.63 81.7,100.76 82.5,97.8 83.3,98.71 84.1,100.09 84.9,103.24 85.7,96.89 86.5,95.86 87.3,94.41 88.1,94.25 88.9,95.91 89.7,104.24 90.5,98.77 91.3,99.86 92.1,98.85 92.9,96.4 93.7,103.48 94.5,96 95.3,97.51 96.1,99.45 96.9,99.73 97.7,105.27 98.5,98.08 99.3,96.07 100.1,93.42 100.9,94.39 101.7,97.35 102.5,98.08 103.3,105.67 104.1,97.68 104.9,98.55 105.7,98.41 106.5,95.74 107.3,94.41 108.1,95.08 108.9,95.54 109.7,95.93 110.5,106.15 111.3,98.87 112.1,97.37 112.9,103.41 113.7,99.28 114.5,99.17 115.3,101.88 116.1,97.02 116.9,97.63 117.7,96.29 118.5,95.63 119.3,96.5 120.1,97.51 120.9,98.22 121.7,97.07 122.5,97.76 123.3,99.35 124.1,97.7 124.9,97.39 125.7,101.75 126.5,96.93 127.3,95.89 128.1,96.65 128.9,98.23 129.7,98.71 130.5,97.92 131.3,97.13 132.1,97.54 132.9,97.07 133.7,95.62 134.5,95.51 135.3,94.85 136.1,95.12 136.9,97.85 137.7,98.91 138.5,100.57 139.3,94.71 140.1,94.29 140.9,94.91 141.7,95.98 142.5,97.31 143.3,95.67 144.1,92.2 144.9,93.82 145.7,97.1 146.5,96.52 147.3,96.7 148.1,98.43 148.9,97.45 149.7,94.83 150.5,93 151.3,93.58 152.1,95.99 152.9,97.23 153.7,96.96 154.5,95.83 155.3,98.58 156.1,97.19 156.9,97.55 157.7,97.63 158.5,97.95 159.3,96.32 160.1,93.36 160.9,92.2 161.7,94.5 162.5,97.28 163.3,95.51 164.1,92.96 164.9,99 165.7,96.58 166.5,96.19 167.3,96.53 168.1,96.82 168.9,95.97 169.7,95.69 170.5,96.26 171.3,102.22 172.1,97.62 172.9,96.57 173.7,95.43 174.5,101.25 175.3,97.36 176.1,97.51 176.9,96.54 177.7,96.64 178.5,96.43 179.3,95.86 180.1,94.93 180.9,94.75 181.7,102.6 182.5,101.47 183.3,101.27 184.1,99.33 184.9,97.87 185.7,95.32 186.5,93.32 187.3,94.38 188.1,95.25 188.9,94.87 189.7,95.2 190.5,95.15 191.3,105.22 192.1,97.86 192.9,95.23 193.7,93.78 194.5,95.19 195.3,95.27 196.1,95.37 196.9,96.54 197.7,103.46 198.5,99.99 199.3,96.81 200.1,96.83 200.9,95.03 201.7,93.69 202.5,94.18 203.3,96.87 204.1,97.62 204.9,96.72 205.7,97.76 206.5,97.87 207.3,95.76 208.1,94.31 208.9,95.94 209.7,97.76 210.5,96.25 211.3,95.78 212.1,98.48 212.9,98.37 213.7,95.76 214.5,96.13 215.3,97.58 216.1,97.11 216.9,97.03 217.7,97.99 218.5,96.8 219.3,94.67 220.1,94.33 220.9,94.75 221.7,95.99 222.5,96.8 223.3,96.81 224.1,96.99 224.9,96.58 225.7,96.62 226.5,96.99 227.3,97.37 228.1,96.77 228.9,96.12 229.7,97.16 230.5,97.71 231.3,97.14 232.1,96.09 232.9,95.89 233.7,95.91 234.5,95.38 235.3,95.45 236.1,95.62 236.9,95.51 237.7,95.92 238.5,96.81 239.3,97.07 240.1,97.19 240.9,97.63 241.7,96.57 242.5,95.88 243.3,96.2 244.1,95.42 244.9,95.52 245.7,95.84 246.5,96.01 247.3,96.16 248.1,94.68 248.9,93.95 249.7,95.41 250.5,96.72 251.3,95.72 252.1,93.43 252.9,96.23 253.7,94.19 254.5,96.7 255.3,98.26 256.1,97.92 256.9,98.53 257.7,97.53 258.5,95.84 259.3,96.81 260.1,107.24 260.9,98.84 261.7,96.45 262.5,95.64 263.3,96.4 264.1,97.11 264.9,98.58 265.7,98.27 266.5,96.08 267.3,95.12 268.1,96.53 268.9,98.09 269.7,96.95 270.5,95.59 271.3,96.18 272.1,96.08 272.9,95.94 273.7,96.67 274.5,97.67 275.3,98.79 276.1,98.05 276.9,96.21 277.7,94.71 278.5,94.62 279.3,95.79 280.1,96.08 280.9,96.63 281.7,97.79 282.5,97.74 283.3,96.83 284.1,96.77 284.9,95.54 285.7,93.44 286.5,94.27 287.3,95.67 288.1,94.53 288.9,94.43 289.7,97.52 290.5,97.96 291.3,95.57 292.1,94.78 292.9,103.21 293.7,96.58 294.5,94.6 295.3,94.71 296.1,96.37 296.9,96.92 297.7,96.67 298.5,101.57 299.3,98.2 300.1,97.55 300.9,99.9 301.7,95.89 302.5,96.25 303.3,96.57 304.1,94.86 304.9,99.37 305.7,97.58 306.5,98.54 307.3,97.57 308.1,95.55 308.9,95.13 309.7,100.38 310.5,97.48 311.3,96.19 312.1,96.1 312.9,96.49 313.7,96.69 314.5,95.73 315.3,93.82 316.1,94.29 316.9,95.37 317.7,93.87 318.5,93.01 319.3,94.43 320.1,95.96 320.9,96.65 321.7,96.34 322.5,95.19 323.3,94.07 324.1,72.01 324.9,39.78 325.5,15.59 325.7,51.76 326.5,69.82 327.3,75.53 328.1,78.46 328.9,80.37 329.7,81.76 330.5,82.7 331.3,83.56 332.1,84.54 332.9,85.27 333.7,85.8 334.5,86.35 335.3,87.08 336.1,87.69 336.9,87.94 337.7,88.58 338.5,89.75 339.3,91.31 340.1,90.7 340.9,90.42 341.7,90.64 342.5,91.5 343.3,92.45 344.1,93.14 344.9,93.07 345.7,92.89 346.5,93.3 347.3,93.78 348.1,94.45 348.9,94.57 349.7,94.6 350.5,95.17 351.3,94.4 352.1,93.62 352.9,94.78 353.7,95.78 354.5,96.4 355.3,96.8 356.1,96.83 356.9,96.79 357.7,96.41 358.5,96.61 359.3,96.86 360.1,95.58 360.9,94.11 361.7,100.03 362.5,95.62 363.3,96.52 364.1,97.1 364.9,100.26 365.7,99.71 366.5,93.99 367.3,94.9 368.1,96.08 368.9,94.92 369.7,93.87 370.5,97.84 371.3,94.53 372.1,94.74 372.9,96.09 373.7,97.21 374.5,96.72 375.3,96.62 376.1,96.25 376.9,95.2 377.7,94.66 378.5,94.48 379.3,95.66 380.1,96.83 380.9,96.31 381.7,96.52 382.5,96.9 383.3,97.39 384.1,97.37 384.9,96.54 385.7,97.31 386.5,96.71 387.3,96.26 388.1,99.08 388.9,99.05 389.7,96.45 390.5,101.54 391.3,95.67 392.1,98.81 392.9,96.51 393.7,96.23 394.5,97.09 395.3,97.28 396.1,97.06 396.9,98.36 397.7,99.66 398.5,98.61 399.3,95.1 400.1,92.83 400.9,100.3 401.7,96.73 402.5,97.94 403.3,97.85 404.1,96.35 404.9,95.19 405.7,95.86 406.5,98.36 407.3,100.02 408.1,98.64 408.9,97.77 409.7,97.17 410.5,96.03 411.3,95.58 412.1,94.51 412.9,95.46 413.7,99.08 414.5,98.58 415.3,95.03 416.1,95.23 416.9,100.48 417.7,97.1 418.5,95.88 419.3,95.28 420.1,96.11 420.9,97.35 421.7,97.07 422.5,95.12 423.3,98.52 424.1,97.43 424.9,98.23 425.7,96.64 426.5,98.24 427.3,91.89 428.1,92.88 428.9,95.88 429.7,97.63 430.5,97.46 431.3,96.81 432.1,103.66 432.9,95.88 433.7,95.33 434.5,96.2 435.3,96.53 436.1,95.63 436.9,96.58 437.7,97.9 438.5,96.97 439.3,96.07 440.1,95.55 440.9,94.4 441.7,92.9 442.5,92.88 443.3,94.3 444.1,96.44 444.9,97.54 445.7,95.59 446.5,94.41 447.3,94.91 448.1,95.47 448.9,95.39 449.7,95.56 450.5,96.98 451.3,99.07 452.1,99.76 452.9,97.44 453.7,103.45 454.5,95.9 455.3,94.72 456.1,102.79 456.9,96.92 457.7,98.32 458.5,97.4 459.3,95.94 460.1,95.56 460.9,97.02 461.7,101.33 462.5,96.17 463.3,94.7 464.1,95.43 464.9,102.56 465.7,96.92 466.5,102.68 467.3,101.18 468.1,95.93 468.9,94.94 469.7,97.42 470.5,97.71 471.3,95.73 472.1,92.99 472.9,95.3 473.7,98.3 474.5,96.43 475.3,95.84 476.1,97.61 476.9,103.69 477.7,95.68 478.5,100.29 479.3,96.32 480.1,96.93 480.9,95.95 481.7,96.45"/>
<polyline stroke="#4DBEEE" points="46.5,98.13 47.3,98.98 48.1,98.24 48.9,96.67 49.7,95.25 50.5,94.38 51.3,94.15 52.1,95.26 52.9,97.1 53.7,97.47 54.5,97.02 55.3,98.12 56.1,100.37 56.9,99.93 57.7,97 58.5,94.84 59.3,94.46 60.1,95.46 60.9,95.63 61.7,95.57 62.5,95.97 63.3,95.63 64.1,98.73 64.9,95.67 65.7,97.07 66.5,97.31 67.3,97.04 68.1,103.45 68.9,96.67 69.7,97.5 70.5,97.75 71.3,98.25 72.1,98.75 72.9,101.81 73.7,97.98 74.5,101.16 75.3,100.13 76.1,98.9 76.9,99.35 77.7,100.29 78.5,94.9 79.3,94.9 80.1,95.3 80.9,95.73 81.7,95.27 82.5,95.38 83.3,96.4 84.1,97.78 84.9,99.68 85.7,98.89 86.5,95.66 87.3,95.3 88.1,106.34 88.9,100.5 89.7,99.52 90.5,104.96 91.3,94.35 92.1,93.28 92.9,92.61 93.7,98.67 94.5,99.36 95.3,97.16 96.1,96.84 96.9,96.46 97.7,97.5 98.5,97.2 99.3,96.1 100.1,95.73 100.9,97.12 101.7,97.44 102.5,98.06 103.3,99.59 104.1,103.73 104.9,96.09 105.7,96.92 106.5,96.61 107.3,96.56 108.1,96.21 108.9,95.76 109.7,96.35 110.5,97.93 111.3,97.06 112.1,94.64 112.9,102.35 113.7,97.38 114.5,98.38 115.3,97.87 116.1,103.44 116.9,106.53 117.7,97.77 118.5,98.39 119.3,99.44 120.1,97.23 120.9,102.79 121.7,102.14 122.5,103.64 123.3,96.97 124.1,98.5 124.9,104.36 125.7,98.14 126.5,97.74 127.3,97 128.1,95.34 128.9,96.23 129.7,98.1 130.5,97.12 131.3,94.66 132.1,103.12 132.9,98.15 133.7,97.46 134.5,97.4 135.3,97.13 136.1,95.25 136.9,101.53 137.7,97.42 138.5,96.94 139.3,96.05 140.1,96.26 140.9,100.08 141.7,96.58 142.5,103.22 143.3,94.51 144.1,97.6 144.9,99.32 145.7,97.74 146.5,95.84 147.3,95.99 148.1,96.6 148.9,97.53 149.7,98.58 150.5,97.85 151.3,97.34 152.1,97.14 152.9,102.27 153.7,97.52 154.5,97.57 155.3,95.88 156.1,95.47 156.9,96.13 157.7,96.18 158.5,95.91 159.3,103.62 160.1,97.28 160.9,95.04 161.7,99.94 162.5,95.15 163.3,102 164.1,95.03 164.9,95.69 165.7,97.39 166.5,97.74 167.3,96.91 168.1,96.66 168.9,96.99 169.7,96.43 170.5,104.24 171.3,97.1 172.1,100.72 172.9,101.42 173.7,94.63 174.5,96 175.3,98.09 176.1,97.79 176.9,95.55 177.7,94.6 178.5,96.47 179.3,98.1 180.1,98.05 180.9,96.91 181.7,96.59 182.5,96.71 183.3,94.79 184.1,99.38 184.9,94.52 185.7,93.88 186.5,93.91 187.3,96.91 188.1,96.77 188.9,95.14 189.7,96.76 190.5,97.26 191.3,97.38 192.1,98.68 192.9,98.72 193.7,97.47 194.5,96.24 195.3,95.58 196.1,95.64 196.9,96.27 197.7,96.29 198.5,96.37 199.3,98.04 200.1,98.34 200.9,97.88 201.7,98.54 202.5,96.56 203.3,95.57 204.1,98.98 204.9,100.98 205.7,99.1 206.5,97.54 207.3,97.15 208.1,95.65 208.9,95.91 209.7,97.13 210.5,97.34 211.3,98.42 212.1,98.13 212.9,95.92 213.7,94.41 214.5,93.94 215.3,95.27 216.1,95.61 216.9,94.14 217.7,95.66 218.5,95.98 219.3,94.25 220.1,94.32 220.9,95.67 221.7,97.34 222.5,75.96 223.3,43.81 224,15.59 224.1,43.73 224.9,68.72 225.7,74.96 226.5,78.17 227.3,80.17 228.1,81.65 228.9,83.06 229.7,83.64 230.5,84.51 231.3,85.62 232.1,85.53 232.9,85.82 233.7,86.37 234.5,87.12 235.3,88.13 236.1,89.17 236.9,89.84 237.7,90.27 238.5,90.6 239.3,91 240.1,92.77 240.9,91.62 241.7,91.43 242.5,92.65 243.3,93.75 244.1,93.63 244.9,93.44 245.7,92.93 246.5,91.64 247.3,91.4 248.1,92.5 248.9,96.66 249.7,94.02 250.5,94.18 251.3,95.23 252.1,95.75 252.9,96.28 253.7,96.6 254.5,93.97 255.3,91.08 256.1,93.63 256.9,97.03 257.7,102.04 258.5,99.72 259.3,97.19 260.1,96.01 260.9,94.46 261.7,95.09 262.5,99.9 263.3,95.97 264.1,94.54 264.9,94.66 265.7,96.94 266.5,97.93 267.3,97.61 268.1,101.56 268.9,99.41 269.7,98.86 270.5,97.55 271.3,97.84 272.1,98.04 272.9,97.59 273.7,97.9 274.5,98.21 275.3,97.45 276.1,96.52 276.9,97.27 277.7,98.81 278.5,97.49 279.3,96.33 280.1,97.63 280.9,97.7 281.7,99.72 282.5,94.86 283.3,94.3 284.1,95.91 284.9,98.14 285.7,99.31 286.5,98.87 287.3,103.85 288.1,96.22 288.9,93.55 289.7,93.15 290.5,95.06 291.3,96.46 292.1,96.63 292.9,96.56 293.7,95.69 294.5,95.12 295.3,96.5 296.1,103.1 296.9,96.84 297.7,94.8 298.5,93.44 299.3,94.64 300.1,96.04 300.9,96.18 301.7,96.26 302.5,95.91 303.3,93.83 304.1,92.82 304.9,93.82 305.7,95.31 306.5,95.56 307.3,95.54 308.1,105.32 308.9,97.15 309.7,94.75 310.5,96.4 311.3,99.01 312.1,98.63 312.9,95.68 313.7,94.41 314.5,96.7 315.3,98.65 316.1,98.31 316.9,101.72 317.7,95.11 318.5,93.98 319.3,94.93 320.1,94.89 320.9,93.38 321.7,94.3 322.5,96.81 323.3,97.58 324.1,98.33 324.9,97.64 325.7,96.4 326.5,97.44 327.3,96.78 328.1,94.9 328.9,96.32 329.7,98.48 330.5,97.94 331.3,97.56 332.1,96.63 332.9,98.46 333.7,95.24 334.5,95.88 335.3,95.19 336.1,96.6 336.9,98.17 337.7,97.17 338.5,95.97 339.3,95.47 340.1,94.62 340.9,94.51 341.7,95.5 342.5,96.44 343.3,95.42 344.1,95.16 344.9,96.73 345.7,95.91 346.5,95.74 347.3,97.17 348.1,96.63 348.9,96.69 349.7,97.84 350.5,96.87 351.3,101.47 352.1,97.23 352.9,96.07 353.7,94.59 354.5,95.97 355.3,98.5 356.1,100.19 356.9,99.15 357.7,96.55 358.5,96.25 359.3,96.93 360.1,97.34 360.9,96.51 361.7,94.38 362.5,93.65 363.3,95 364.1,96.75 364.9,96.14 365.7,96.06 366.5,98.11 367.3,98.87 368.1,97.49 368.9,95.65 369.7,96.08 370.5,96.87 371.3,96.54 372.1,96.86 372.9,96.85 373.7,97.1 374.5,97.07 375.3,95.86 376.1,97.32 376.9,99.5 377.7,97.28 378.5,98.91 379.3,97.85 380.1,96.67 380.9,96.46 381.7,97.96 382.5,98.06 383.3,98.95 384.1,98.94 384.9,96.86 385.7,102.65 386.5,98.97 387.3,98.34 388.1,101.73 388.9,97.84 389.7,96.66 390.5,96.56 391.3,96.13 392.1,96.1 392.9,97.12 393.7,96.65 394.5,95.95 395.3,96.26 396.1,96.25 396.9,95.18 397.7,94.1 398.5,93.52 399.3,95.11 400.1,97.95 400.9,97.85 401.7,95.75 402.5,95.48 403.3,96.81 404.1,96.79 404.9,96.24 405.7,95.88 406.5,99.36 407.3,96.86 408.1,97.05 408.9,96.97 409.7,97.11 410.5,97.63 411.3,96.92 412.1,96.18 412.9,97.14 413.7,96.67 414.5,95.79 415.3,96.48 416.1,96.97 416.9,97.28 417.7,102.42 418.5,95.73 419.3,94.1 420.1,93.77 420.9,94.45 421.7,95.34 422.5,96.21 423.3,96.85 424.1,97.26 424.9,97.04 425.7,96.21 426.5,96.84 427.3,98.61 428.1,98.23 428.9,96.63 429.7,96.37 430.5,97.31 431.3,96.76 432.1,95.65 432.9,96.81 433.7,96.73 434.5,96.7 435.3,98.22 436.1,97.16 436.9,95.73 437.7,97.14 438.5,99.51 439.3,99.96 440.1,99.02 440.9,104.22 441.7,96.55 442.5,95.82 443.3,95.09 444.1,95.34 444.9,96.24 445.7,97.38 446.5,97.46 447.3,95.86 448.1,95.62 448.9,96.05 449.7,95.53 450.5,95.1 451.3,95.54 452.1,97.34 452.9,97.36 453.7,96.02 454.5,101.71 455.3,96.93 456.1,95.53 456.9,95.24 457.7,96 458.5,96.13 459.3,97.12 460.1,97.02 460.9,95.81 461.7,96.77 462.5,97.05 463.3,96.53 464.1,104.88 464.9,98.51 465.7,97.42 466.5,96.04 467.3,95.47 468.1,96.63 468.9,98.29 469.7,98.77 470.5,98.06 471.3,96.66 472.1,102.23 472.9,98.99 473.7,100.94 474.5,100.15 475.3,97.77 476.1,95.19 476.9,95.32 477.7,97.5 478.5,97.79 479.3,96.26 480.1,94.75 480.9,94.22 481.7,94.53"/>
<polyline stroke="#0072BD" points="46.5,94.82 47.3,98.63 48.1,96.9 48.9,96.94 49.7,94.63 50.5,94.83 51.3,97.24 52.1,96.84 52.9,96.91 53.7,96.88 54.5,94.71 55.3,93.44 56.1,94 56.9,96.27 57.7,98.19 58.5,98.29 59.3,98.09 60.1,104.35 60.9,100.42 61.7,94.83 62.5,94.44 63.3,94.78 64.1,95.14 64.9,95.4 65.7,96.74 66.5,97.58 67.3,96.52 68.1,96.57 68.9,104.95 69.7,100.36 70.5,103.31 71.3,98.02 72.1,98.04 72.9,96.02 73.7,95.25 74.5,96.56 75.3,97.31 76.1,95.99 76.9,96.67 77.7,97.47 78.5,95.96 79.3,96.87 80.1,100.09 80.9,100.61 81.7,98.44 82.5,97 83.3,96.28 84.1,96.44 84.9,96.9 85.7,96.14 86.5,96.43 87.3,96.97 88.1,95.9 88.9,95.73 89.7,96.21 90.5,96.49 91.3,97.53 92.1,97.79 92.9,97.47 93.7,96.6 94.5,94.94 95.3,97.55 96.1,94.26 96.9,92.93 97.7,92.32 98.5,93.49 99.3,95.1 100.1,95.1 100.9,95.92 101.7,96.64 102.5,96.1 103.3,96.05 104.1,96.05 104.9,95.01 105.7,102.68 106.5,98.79 107.3,108.52 108.1,98.46 108.9,96.59 109.7,95.71 110.5,94.6 111.3,93.76 112.1,95.92 112.9,97.64 113.7,95.49 114.5,92.68 115.3,92.87 116.1,95.05 116.9,95.89 117.7,95.4 118.5,95.41 119.3,96.32 120.1,95.95 120.9,98.47 121.7,93.49 122.5,95.64 123.3,97.26 124.1,102.45 124.9,98.66 125.7,101.69 126.5,97.69 127.3,97.07 128.1,96.62 128.9,97.21 129.7,97.84 130.5,98.7 131.3,99.18 132.1,97.41 132.9,95.49 133.7,102 134.5,96.04 135.3,97.21 136.1,96.17 136.9,94.16 137.7,93.97 138.5,94.83 139.3,95.56 140.1,96.3 140.9,97.36 141.7,101.05 142.5,97.48 143.3,97.04 144.1,95.42 144.9,98.63 145.7,94.89 146.5,96.96 147.3,97.49 148.1,96.26 148.9,96.25 149.7,97.51 150.5,96.71 151.3,95.15 152.1,95.61 152.9,97 153.7,97.85 154.5,96.92 155.3,95.06 156.1,95.66 156.9,97.42 157.7,97.02 158.5,101.85 159.3,96.52 160.1,98.54 160.9,95.07 161.7,97.78 162.5,98.03 163.3,97.57 164.1,98.07 164.9,97.13 165.7,96.63 166.5,97.48 167.3,96.65 168.1,96.11 168.9,96.63 169.7,103.45 170.5,95.1 171.3,95.85 172.1,96.38 172.9,98.84 173.7,96.11 174.5,96.26 175.3,96.16 176.1,97.5 176.9,98.1 177.7,96.03 178.5,95.11 179.3,95.56 180.1,95.81 180.9,96.57 181.7,96.48 182.5,97.11 183.3,99.02 184.1,98.84 184.9,97.67 185.7,105.22 186.5,97.62 187.3,97.44 188.1,96.07 188.9,95.04 189.7,94.78 190.5,94.6 191.3,94.3 192.1,93.4 192.9,93.91 193.7,96.45 194.5,97.93 195.3,97.74 196.1,96.69 196.9,95.41 197.7,95.2 198.5,96.19 199.3,97.26 200.1,97.36 200.9,96.71 201.7,97.98 202.5,99.61 203.3,97.54 204.1,96.06 204.9,100.49 205.7,94.66 206.5,102.72 207.3,103.03 208.1,97.34 208.9,96.27 209.7,99.95 210.5,97.38 211.3,99.84 212.1,99.7 212.9,106.63 213.7,97.34 214.5,96.27 215.3,96.47 216.1,103.89 216.9,93.83 217.7,92.79 218.5,93.76 219.3,100.03 220.1,96.66 220.9,97.74 221.7,95.85 222.5,94.95 223.3,95.61 224.1,95.09 224.9,95.03 225.7,95.85 226.5,96 227.3,96.4 228.1,96.87 228.9,96.26 229.7,96.17 230.5,98.48 231.3,104.64 232.1,97.5 232.9,96.41 233.7,96.57 234.5,100.81 235.3,101.56 236.1,96.55 236.9,96.86 237.7,96.36 238.5,96.96 239.3,97.45 240.1,95.29 240.9,94.2 241.7,96.3 242.5,97.56 243.3,96.29 244.1,94.85 244.9,94.65 245.7,96.01 246.5,96.24 247.3,96.53 248.1,98.5 248.9,98.15 249.7,98.12 250.5,99.71 251.3,106.78 252.1,96.4 252.9,94.8 253.7,93.6 254.5,95.01 255.3,103.1 256.1,95.95 256.9,103.72 257.7,96.63 258.5,96.49 259.3,93.74 260.1,92.95 260.9,95.39 261.7,97.76 262.5,98.8 263.3,97.78 264.1,96.92 264.9,97.11 265.7,96.06 266.5,95.62 267.3,99.18 268.1,93.77 268.9,92.58 269.7,94.1 270.5,95.83 271.3,95.86 272.1,95.88 272.9,96.1 273.7,96.73 274.5,97.22 275.3,97.3 276.1,97.03 276.9,95.97 277.7,96.75 278.5,97.5 279.3,95.79 280.1,95.02 280.9,96.65 281.7,98.78 282.5,98.39 283.3,95.07 284.1,93.13 284.9,94.46 285.7,95.43 286.5,95.92 287.3,103.85 288.1,95.84 288.9,96.33 289.7,97.07 290.5,97.92 291.3,98.63 292.1,98.44 292.9,98.06 293.7,96.38 294.5,94.5 295.3,99.35 296.1,96.51 296.9,102.9 297.7,96.03 298.5,94.79 299.3,94.86 300.1,96.24 300.9,101.53 301.7,99.66 302.5,98.09 303.3,98.29 304.1,97.62 304.9,97.41 305.7,96.31 306.5,95.39 307.3,95.66 308.1,94.64 308.9,97.37 309.7,94.86 310.5,95.28 311.3,97.04 312.1,97.97 312.9,96.79 313.7,97.18 314.5,97.3 315.3,95.07 316.1,95.03 316.9,96.99 317.7,97.09 318.5,97.17 319.3,97.55 320.1,97.38 320.9,98.66 321.7,98.22 322.5,95.92 323.3,96.57 324.1,97.63 324.9,105.54 325.7,95.94 326.5,98.67 327.3,93.92 328.1,94.44 328.9,93.42 329.7,94.5 330.5,97.15 331.3,103.27 332.1,95.51 332.9,95.33 333.7,94.42 334.5,95.82 335.3,97.75 336.1,103.92 336.9,95.61 337.7,96.24 338.5,97.66 339.3,96.62 340.1,95.28 340.9,95.13 341.7,96.61 342.5,98.06 343.3,96.66 344.1,96.32 344.9,96.62 345.7,95.6 346.5,94.74 347.3,93.65 348.1,94.63 348.9,96.44 349.7,95.96 350.5,95.78 351.3,96.35 352.1,95.81 352.9,95.58 353.7,96.31 354.5,97.1 355.3,101.78 356.1,97.5 356.9,98.29 357.7,98.51 358.5,97.7 359.3,96.94 360.1,96.24 360.9,95.93 361.7,94.49 362.5,94.25 363.3,95.25 364.1,95.29 364.9,94.2 365.7,93 366.5,94.57 367.3,96.39 368.1,96.32 368.9,96.44 369.7,96.85 370.5,97.28 371.3,96.7 372.1,95.56 372.9,95.31 373.7,95.51 374.5,96.18 375.3,96.79 376.1,99.55 376.9,93.99 377.7,93.55 378.5,94.81 379.3,96.06 380.1,98.14 380.9,98.14 381.7,97.12 382.5,96.18 383.3,93.32 384.1,92.31 384.9,93.59 385.7,96.08 386.5,98.39 387.3,98.58 388.1,97.26 388.9,96.32 389.7,103.38 390.5,96.84 391.3,95.53 392.1,97.09 392.9,96.86 393.7,93.44 394.5,93.37 395.3,98.1 396.1,100.48 396.9,98.34 397.7,96.38 398.5,96.45 399.3,97.65 400.1,97.55 400.9,99.68 401.7,96.68 402.5,97.25 403.3,95.65 404.1,94.3 404.9,93.54 405.7,93.15 406.5,94.64 407.3,96.92 408.1,98.77 408.9,98.25 409.7,102.33 410.5,97.5 411.3,97.86 412.1,97.89 412.9,98 413.7,97.35 414.5,96.17 415.3,96.32 416.1,97.36 416.9,97.54 417.7,99.83 418.5,94.5 419.3,93.39 420.1,94.62 420.9,95.69 421.7,99.2 422.5,104.07 423.3,96.87 424.1,104.23 424.9,94.05 425.7,92.3 426.5,94.03 427.3,95.47 428.1,94.55 428.9,94.1 429.7,95.23 430.5,95.41 431.3,96.78 432.1,98.86 432.9,97.52 433.7,95.43 434.5,95.42 435.3,96.8 436.1,97.54 436.9,96.45 437.7,95.41 438.5,94.26 439.3,93.58 440.1,94.3 440.9,94.45 441.7,93.17 442.5,92.15 443.3,92.21 444.1,93.18 444.9,96.43 445.7,103.3 446.5,96.31 447.3,95.16 448.1,94.08 448.9,93.79 449.7,95.04 450.5,96.51 451.3,96.04 452.1,95.37 452.9,96.19 453.7,95.62 454.5,94.56 455.3,95.18 456.1,95.01 456.9,98.91 457.7,95.61 458.5,97.42 459.3,95.31 460.1,71.93 460.9,39.78 461.5,15.59 461.7,51.76 462.5,69.76 463.3,75.4 464.1,78.38 464.9,80.2 465.7,81.46 466.5,82.46 467.3,83.35 468.1,84.26 468.9,85.19 469.7,85.9 470.5,86.52 471.3,87.16 472.1,87.63 472.9,88.21 473.7,88.89 474.5,89.41 475.3,90.01 476.1,90.47 476.9,90.26 477.7,90.18 478.5,90.36 479.3,90.49 480.1,91.38 480.9,95.02 481.7,91.67"/>
<polyline stroke="#4DBEEE" points="46.5,96.31 47.3,95.01 48.1,95.99 48.9,97.26 49.7,99.17 50.5,106.26 51.3,98.26 52.1,98.76 52.9,99.66 53.7,99.47 54.5,98.77 55.3,98 56.1,96.72 56.9,102.34 57.7,97.51 58.5,104.97 59.3,96.47 60.1,97.22 60.9,96.39 61.7,94.05 62.5,95 63.3,97.11 64.1,97.49 64.9,97.4 65.7,97.62 66.5,100.6 67.3,96.35 68.1,95.49 68.9,96.03 69.7,96.35 70.5,96.98 71.3,97.64 72.1,96.81 72.9,95.63 73.7,96.37 74.5,97.27 75.3,97.35 76.1,98.36 76.9,104.34 77.7,98.67 78.5,106.41 79.3,96.84 80.1,95.25 80.9,94.64 81.7,95.94 82.5,96.91 83.3,95.61 84.1,100.14 84.9,97.84 85.7,104.28 86.5,96.45 87.3,94.54 88.1,103.99 88.9,96.7 89.7,96.7 90.5,98.49 91.3,98.96 92.1,97.04 92.9,95.93 93.7,97.01 94.5,98.84 95.3,98.29 96.1,96.59 96.9,96.5 97.7,96.32 98.5,96.08 99.3,94.64 100.1,94.38 100.9,96.4 101.7,96.09 102.5,94.62 103.3,94.86 104.1,95.54 104.9,95.29 105.7,96.47 106.5,97.33 107.3,95.29 108.1,97.46 108.9,96.03 109.7,96.42 110.5,94.75 111.3,94.88 112.1,96.57 112.9,94.87 113.7,94.02 114.5,96.2 115.3,96.53 116.1,96.07 116.9,95.45 117.7,95.94 118.5,98.32 119.3,105.44 120.1,102.61 120.9,96.84 121.7,95.23 122.5,97.2 123.3,98.42 124.1,97.58 124.9,96.83 125.7,97.41 126.5,98.46 127.3,98.35 128.1,98.24 128.9,99.98 129.7,99.89 130.5,96.72 131.3,96.23 132.1,97.55 132.9,105.55 133.7,96.47 134.5,97.37 135.3,97.62 136.1,96.64 136.9,97.09 137.7,100 138.5,99.22 139.3,101.92 140.1,97.9 140.9,99.33 141.7,100.34 142.5,100.61 143.3,97.95 144.1,95.76 144.9,96.73 145.7,98.51 146.5,97.2 147.3,100.66 148.1,96.56 148.9,97.53 149.7,96.43 150.5,97.79 151.3,99.93 152.1,98.5 152.9,96.26 153.7,96.47 154.5,96.6 155.3,96.52 156.1,98.34 156.9,99.23 157.7,98.18 158.5,97.62 159.3,105.56 160.1,98.22 160.9,99.13 161.7,98.91 162.5,96.09 163.3,94.9 164.1,96.38 164.9,95.66 165.7,95.58 166.5,97.83 167.3,98.16 168.1,96.97 168.9,97.07 169.7,97.66 170.5,96.32 171.3,99.72 172.1,97.34 172.9,96.03 173.7,93.95 174.5,93.96 175.3,93.9 176.1,98.32 176.9,98.98 177.7,96.1 178.5,97.15 179.3,96.8 180.1,96.41 180.9,99.9 181.7,95.87 182.5,95.79 183.3,97.61 184.1,97.39 184.9,96.76 185.7,96.75 186.5,95.1 187.3,94.85 188.1,99.41 188.9,97.17 189.7,97.45 190.5,96.98 191.3,96.29 192.1,96.5 192.9,96.87 193.7,96.4 194.5,94.86 195.3,95.14 196.1,96.54 196.9,94.69 197.7,97.7 198.5,94.7 199.3,93.49 200.1,92.49 200.9,94.71 201.7,97.18 202.5,98.08 203.3,103.87 204.1,94.41 204.9,95.04 205.7,95.25 206.5,94.57 207.3,98.2 208.1,95.19 208.9,96.65 209.7,97.01 210.5,96.84 211.3,97.43 212.1,98.67 212.9,98.88 213.7,98.18 214.5,98.13 215.3,98.53 216.1,99.4 216.9,99.49 217.7,98.22 218.5,95.83 219.3,94.07 220.1,94.69 220.9,95.04 221.7,95.14 222.5,96.13 223.3,96.43 224.1,95.68 224.9,96.46 225.7,97.68 226.5,96.82 227.3,97.5 228.1,102.18 228.9,98.21 229.7,95.64 230.5,95.07 231.3,95.42 232.1,94.65 232.9,95.84 233.7,98.83 234.5,98.83 235.3,97.49 236.1,97.99 236.9,97.85 237.7,96.86 238.5,97.29 239.3,98.64 240.1,97.59 240.9,95.82 241.7,97.41 242.5,103.58 243.3,95.6 244.1,96.71 244.9,98.69 245.7,98.01 246.5,95.42 247.3,96.19 248.1,99.59 248.9,99.31 249.7,95.7 250.5,94.53 251.3,95.72 252.1,96.83 252.9,99.21 253.7,100.68 254.5,99.06 255.3,96.72 256.1,95.64 256.9,96.77 257.7,97.43 258.5,95.94 259.3,94.42 260.1,93.35 260.9,95.81 261.7,98.89 262.5,98.46 263.3,96.82 264.1,95.1 264.9,94.6 265.7,95.45 266.5,97.42 267.3,98.12 268.1,96.96 268.9,97.11 269.7,97.52 270.5,95.87 271.3,98.41 272.1,96.73 272.9,97.9 273.7,97.32 274.5,96.41 275.3,96.24 276.1,95.5 276.9,95.18 277.7,96.57 278.5,97.47 279.3,96.33 280.1,95.07 280.9,95.87 281.7,96.92 282.5,100.16 283.3,95.5 284.1,96.37 284.9,97.35 285.7,95.99 286.5,94.81 287.3,94.56 288.1,100.4 288.9,97.12 289.7,105.56 290.5,95.3 291.3,95.05 292.1,97.12 292.9,97.09 293.7,96.26 294.5,96.36 295.3,96.57 296.1,97.4 296.9,105.54 297.7,96.69 298.5,97.75 299.3,97.54 300.1,97.34 300.9,97.66 301.7,97.5 302.5,97.39 303.3,97.28 304.1,97.73 304.9,99.13 305.7,99.17 306.5,97.23 307.3,96.58 308.1,96.18 308.9,97.87 309.7,95.49 310.5,97.18 311.3,99.27 312.1,99.9 312.9,99.48 313.7,99.97 314.5,99.87 315.3,98.92 316.1,97.11 316.9,95.27 317.7,95.64 318.5,102.31 319.3,98.34 320.1,95.19 320.9,94.52 321.7,97.91 322.5,99.39 323.3,97.55 324.1,96.3 324.9,98.26 325.7,100.02 326.5,99.34 327.3,96.91 328.1,96.14 328.9,101.41 329.7,95.83 330.5,96.38 331.3,97.41 332.1,95.77 332.9,93.93 333.7,93.94 334.5,94.4 335.3,94.7 336.1,95.69 336.9,95.18 337.7,94.3 338.5,96.27 339.3,98.68 340.1,107.22 340.9,99.44 341.7,103.36 342.5,99.94 343.3,104.54 344.1,98.63 344.9,98.74 345.7,97.81 346.5,96.33 347.3,95.05 348.1,93.86 348.9,94.2 349.7,96.96 350.5,98.21 351.3,96.37 352.1,95.99 352.9,96.51 353.7,94.67 354.5,93.39 355.3,95.23 356.1,96.89 356.9,97.32 357.7,96.48 358.5,95.52 359.3,97.67 360.1,98.17 360.9,96.18 361.7,97.1 362.5,97.83 363.3,95.54 364.1,95.66 364.9,97.66 365.7,96.28 366.5,93.79 367.3,93.34 368.1,94.39 368.9,95.34 369.7,95.61 370.5,94.58 371.3,93.52 372.1,95.04 372.9,97.07 373.7,95.91 374.5,103.58 375.3,97.43 376.1,98.72 376.9,97.09 377.7,95.99 378.5,97.25 379.3,97.85 380.1,96.68 380.9,95.6 381.7,103.72 382.5,98.52 383.3,107.98 384.1,98.56 384.9,96.3 385.7,96.16 386.5,96.63 387.3,97.55 388.1,99.7 388.9,100.54 389.7,97.97 390.5,95.16 391.3,95.62 392.1,96.97 392.9,96.01 393.7,93.93 394.5,95.92 395.3,99.01 396.1,105.13 396.9,104.07 397.7,95.43 398.5,96.09 399.3,95.9 400.1,98.49 400.9,96.52 401.7,96.87 402.5,95.77 403.3,95.04 404.1,96.22 404.9,93.26 405.7,67.92 406.5,35.75 407,15.59 407.3,56.45 408.1,70.8 408.9,75.92 409.7,78.71 410.5,80.44 411.3,81.74 412.1,82.96 412.9,83.9 413.7,84.65 414.5,85.51 415.3,86.25 416.1,86.75 416.9,87.48 417.7,88.1 418.5,88.28 419.3,88.67 420.1,89.45 420.9,89.65 421.7,91.52 422.5,91.93 423.3,93.18 424.1,92.42 424.9,92.56 425.7,92.26 426.5,94.74 427.3,92.21 428.1,93.13 428.9,93.41 429.7,93.48 430.5,93.64 431.3,94 432.1,94.55 432.9,94.63 433.7,94.35 434.5,94.99 435.3,96.81 436.1,97.09 436.9,94.95 437.7,94.12 438.5,94.57 439.3,94.4 440.1,95.18 440.9,96.16 441.7,95.67 442.5,93.64 443.3,93.24 444.1,95.58 444.9,96.3 445.7,94.7 446.5,94.07 447.3,95.75 448.1,97.35 448.9,96.64 449.7,96.05 450.5,96.27 451.3,96.05 452.1,103.39 452.9,102.87 453.7,96.33 454.5,95.7 455.3,94.5 456.1,95.04 456.9,95.12 457.7,100.94 458.5,97.16 459.3,97.81 460.1,100.59 460.9,97.96 461.7,97.51 462.5,96.14 463.3,96.73 464.1,97.75 464.9,97.33 465.7,98.37 466.5,98.68 467.3,96.88 468.1,96.68 468.9,96.98 469.7,95.82 470.5,95.42 471.3,95.41 472.1,94.98 472.9,101.83 473.7,94.58 474.5,95.13 475.3,97.7 476.1,100.11 476.9,97.58 477.7,94.74 478.5,96.18 479.3,97.39 480.1,98.36 480.9,98.76 481.7,96.99"/>
<polyline stroke="#0072BD" points="46.5,97.01 47.3,97.34 48.1,97.71 48.9,96.83 49.7,94.55 50.5,93.97 51.3,95.37 52.1,102.06 52.9,97.77 53.7,102.25 54.5,97.97 55.3,97.1 56.1,97.28 56.9,97.33 57.7,101.99 58.5,95.19 59.3,103.31 60.1,95.81 60.9,94.81 61.7,94.41 62.5,94.36 63.3,94.7 64.1,96.37 64.9,98.38 65.7,98.57 66.5,98.02 67.3,98.14 68.1,100.86 68.9,96.99 69.7,96.68 70.5,96.59 71.3,94.99 72.1,94.4 72.9,96.63 73.7,98.18 74.5,97.31 75.3,95.13 76.1,95.38 76.9,97.04 77.7,97.31 78.5,97.4 79.3,96.63 80.1,103.98 80.9,97.22 81.7,98.19 82.5,96.97 83.3,95.16 84.1,94.54 84.9,95.37 85.7,96.65 86.5,96.79 87.3,95.55 88.1,94.54 88.9,94.36 89.7,94.84 90.5,96.72 91.3,97.93 92.1,96.12 92.9,93.76 93.7,94.32 94.5,102.39 95.3,93.4 96.1,92.91 96.9,95 97.7,96.47 98.5,95.43 99.3,93.41 100.1,93.32 100.9,95.58 101.7,100.65 102.5,94.28 103.3,93.62 104.1,94.77 104.9,96.63 105.7,97.07 106.5,95.97 107.3,94.94 108.1,100.24 108.9,97.41 109.7,105.29 110.5,95.87 111.3,95.72 112.1,95.83 112.9,95.97 113.7,97.31 114.5,105.89 115.3,96.33 116.1,95.87 116.9,95.56 117.7,96.17 118.5,97.54 119.3,97.94 120.1,105.48 120.9,94.68 121.7,94 122.5,94.92 123.3,95.42 124.1,96.38 124.9,96.23 125.7,94.99 126.5,102.45 127.3,93.22 128.1,93.23 128.9,95.77 129.7,96.34 130.5,95.95 131.3,97.22 132.1,98.26 132.9,97.29 133.7,96.62 134.5,96.04 135.3,94.96 136.1,101.26 136.9,95.44 137.7,95.92 138.5,97.18 139.3,98.44 140.1,98.03 140.9,97.27 141.7,96.72 142.5,103.97 143.3,95.15 144.1,93.59 144.9,101.68 145.7,96.1 146.5,96.3 147.3,95.67 148.1,95.76 148.9,96.79 149.7,97.98 150.5,96.78 151.3,97.09 152.1,98.61 152.9,96.41 153.7,94.08 154.5,100.37 155.3,92.47 156.1,92.14 156.9,94.64 157.7,95.88 158.5,94.61 159.3,92.92 160.1,92.92 160.9,95.14 161.7,100.36 162.5,95.87 163.3,105.44 164.1,97.38 164.9,95.83 165.7,95.8 166.5,96.4 167.3,95.71 168.1,94.89 168.9,104.58 169.7,96.57 170.5,95.46 171.3,86.81 172.1,55.9 172.9,23.65 173.1,15.59 173.7,64.3 174.5,73.11 175.3,77.08 176.1,79.42 176.9,81.02 177.7,82.22 178.5,83.19 179.3,83.85 180.1,84.41 180.9,85.23 181.7,86.19 182.5,87.79 183.3,87.71 184.1,87.88 184.9,88.49 185.7,89.45 186.5,89.8 187.3,89.76 188.1,90 188.9,92.04 189.7,90.46 190.5,90.72 191.3,92.09 192.1,93.13 192.9,92.77 193.7,92.53 194.5,92.22 195.3,94.91 196.1,94.06 196.9,94.56 197.7,94.48 198.5,93.79 199.3,94.11 200.1,99.6 200.9,96.03 201.7,94.06 202.5,94.35 203.3,98.84 204.1,93.97 204.9,93.03 205.7,93.72 206.5,94.66 207.3,96.97 208.1,98.12 208.9,102.66 209.7,94.81 210.5,93.95 211.3,94.55 212.1,95.56 212.9,96.88 213.7,97.88 214.5,95.86 215.3,93.58 216.1,95.6 216.9,97.33 217.7,100 218.5,94.29 219.3,95.98 220.1,101.02 220.9,96.21 221.7,96.68 222.5,97.1 223.3,101.21 224.1,95.8 224.9,95.02 225.7,101.82 226.5,102.75 227.3,94.3 228.1,93.97 228.9,93.91 229.7,95.55 230.5,96.38 231.3,95.18 232.1,96.16 232.9,98.15 233.7,97.61 234.5,97.06 235.3,96.83 236.1,95.21 236.9,93.9 237.7,95.02 238.5,96.91 239.3,96.97 240.1,95.88 240.9,93.82 241.7,93.13 242.5,95.89 243.3,96.7 244.1,103.2 244.9,95.78 245.7,97 246.5,98.82 247.3,98.54 248.1,96.81 248.9,96.4 249.7,104.42 250.5,95.99 251.3,95.27 252.1,94.94 252.9,96.78 253.7,96.8 254.5,95.17 255.3,95.46 256.1,95.71 256.9,95.69 257.7,96.74 258.5,97.46 259.3,98.39 260.1,98.03 260.9,95.38 261.7,94.14 262.5,96.02 263.3,97.8 264.1,96.93 264.9,95.81 265.7,95.25 266.5,95.23 267.3,96.21 268.1,96.43 268.9,96.39 269.7,96.63 270.5,96.28 271.3,96.46 272.1,97.45 272.9,97 273.7,98.99 274.5,94.24 275.3,94.21 276.1,94.58 276.9,102.13 277.7,100.21 278.5,94.34 279.3,92.93 280.1,98.35 280.9,95.63 281.7,96.72 282.5,96.83 283.3,100.68 284.1,95.62 284.9,95.83 285.7,96.15 286.5,95.07 287.3,93.86 288.1,93.94 288.9,95 289.7,96.31 290.5,95.7 291.3,94.3 292.1,95.54 292.9,96.47 293.7,94.52 294.5,94.52 295.3,95.96 296.1,95.64 296.9,95.8 297.7,95.64 298.5,95.89 299.3,97.38 300.1,98.24 300.9,98.66 301.7,98.45 302.5,96.73 303.3,95.31 304.1,101.7 304.9,94.14 305.7,95.7 306.5,97.12 307.3,95.59 308.1,94.62 308.9,96.05 309.7,96 310.5,95.25 311.3,95.84 312.1,95.94 312.9,96.17 313.7,96.58 314.5,104.35 315.3,96.09 316.1,96.35 316.9,98.35 317.7,98.91 318.5,105.94 319.3,98.85 320.1,98.95 320.9,98.28 321.7,98.08 322.5,98.47 323.3,97.97 324.1,96.57 324.9,96.36 325.7,98.52 326.5,100.1 327.3,105.76 328.1,99.09 328.9,97.68 329.7,96.62 330.5,97.05 331.3,97.14 332.1,96.29 332.9,96.6 333.7,106.41 334.5,98.17 335.3,96.07 336.1,102.63 336.9,96.8 337.7,97.22 338.5,95.9 339.3,95.84 340.1,95.24 340.9,94.65 341.7,95.71 342.5,94.78 343.3,93.92 344.1,94.4 344.9,93.47 345.7,93.92 346.5,94.63 347.3,94.25 348.1,105.18 348.9,98.96 349.7,97.55 350.5,97.18 351.3,97.68 352.1,96.62 352.9,97.02 353.7,99.25 354.5,93.5 355.3,92.68 356.1,92.69 356.9,93.99 357.7,99.66 358.5,95.4 359.3,96.97 360.1,97.87 360.9,105.17 361.7,95.42 362.5,94.61 363.3,95.25 364.1,95.67 364.9,96.3 365.7,97.28 366.5,97.24 367.3,96.79 368.1,96.36 368.9,95.78 369.7,95.46 370.5,95.87 371.3,95.07 372.1,93.81 372.9,93.01 373.7,92.54 374.5,94.22 375.3,95.38 376.1,94.59 376.9,93.98 377.7,94.59 378.5,95.87 379.3,96.66 380.1,96.76 380.9,97.31 381.7,98.71 382.5,99.22 383.3,97.43 384.1,95.03 384.9,94.43 385.7,94.95 386.5,95.66 387.3,96.42 388.1,98.12 388.9,99.13 389.7,97.95 390.5,97.31 391.3,98.06 392.1,97.87 392.9,95.87 393.7,99.43 394.5,94.47 395.3,95.1 396.1,99.85 396.9,96.04 397.7,96.22 398.5,96.81 399.3,97.04 400.1,97.52 400.9,97.18 401.7,97.48 402.5,97.43 403.3,94.91 404.1,93.7 404.9,93.68 405.7,93.31 406.5,94.05 407.3,94.13 408.1,94.19 408.9,96.59 409.7,97.51 410.5,96.03 411.3,95.33 412.1,103.21 412.9,95.23 413.7,96.68 414.5,97.34 415.3,97.51 416.1,96.9 416.9,95.9 417.7,94.23 418.5,93.33 419.3,94.93 420.1,96.29 420.9,96.27 421.7,96.49 422.5,96.64 423.3,100.7 424.1,97.87 424.9,97.7 425.7,95.84 426.5,94.62 427.3,95.18 428.1,95.55 428.9,94.84 429.7,94.13 430.5,93.65 431.3,94.57 432.1,96.61 432.9,96.86 433.7,94.81 434.5,93.46 435.3,101.06 436.1,96.66 436.9,96.97 437.7,100.87 438.5,96.82 439.3,106.72 440.1,97.61 440.9,96.48 441.7,94.63 442.5,102.8 443.3,97.68 444.1,96.97 444.9,95.65 445.7,96.19 446.5,98.11 447.3,98.07 448.1,97.14 448.9,98.06 449.7,97.23 450.5,95.31 451.3,94.86 452.1,94 452.9,92.57 453.7,93.51 454.5,95.75 455.3,96.89 456.1,105.25 456.9,102.55 457.7,93.15 458.5,94.16 459.3,96.6 460.1,99.15 460.9,99.91 461.7,98.23 462.5,101.06 463.3,96.88 464.1,96.87 464.9,96.12 465.7,96.4 466.5,96.89 467.3,96.49 468.1,96.62 468.9,96.98 469.7,102.32 470.5,97.1 471.3,98 472.1,104.01 472.9,95.09 473.7,94.53 474.5,94.28 475.3,94.2 476.1,93.62 476.9,93.31 477.7,96.5 478.5,105.52 479.3,101.14 480.1,99.79 480.9,98.4 481.7,98.28"/>
<polyline stroke="#0072BD" points="46.5,96.98 47.3,95.63 48.1,95.66 48.9,97.85 49.7,97.26 50.5,96.97 51.3,98.48 52.1,98.03 52.9,96.58 53.7,95.95 54.5,96.64 55.3,97 56.1,95.67 56.9,95.6 57.7,97.19 58.5,100.37 59.3,96.55 60.1,95.9 60.9,95.53 61.7,97.37 62.5,98.64 63.3,98.27 64.1,96.99 64.9,94.18 65.7,94.2 66.5,96.75 67.3,105.24 68.1,104.84 68.9,104.56 69.7,104.28 70.5,93.91 71.3,94.34 72.1,94.98 72.9,94.98 73.7,95.64 74.5,96.09 75.3,97.06 76.1,96.22 76.9,95.97 77.7,98.19 78.5,97.73 79.3,103.07 80.1,96.04 80.9,96.53 81.7,97.38 82.5,97.16 83.3,96.2 84.1,97.41 84.9,100.55 85.7,107.4 86.5,105.22 87.3,97.33 88.1,98.26 88.9,98.74 89.7,97.21 90.5,96.42 91.3,96.44 92.1,95.45 92.9,92.96 93.7,67.96 94.5,35.75 95,15.59 95.3,56.45 96.1,70.76 96.9,75.81 97.7,78.58 98.5,80.37 99.3,81.48 100.1,82.37 100.9,83.48 101.7,84.34 102.5,85.09 103.3,85.79 104.1,86.16 104.9,87.96 105.7,87.73 106.5,88.51 107.3,89.42 108.1,89.9 108.9,89.33 109.7,91.44 110.5,90.73 111.3,91.41 112.1,91.57 112.9,91.17 113.7,91 114.5,91.69 115.3,92.81 116.1,93.79 116.9,93.99 117.7,94.32 118.5,95.2 119.3,94.98 120.1,93.55 120.9,93.55 121.7,95.78 122.5,96.16 123.3,95.72 124.1,95.71 124.9,97.7 125.7,93.18 126.5,93.76 127.3,95.02 128.1,96.45 128.9,96.16 129.7,96.28 130.5,96.27 131.3,95.57 132.1,94.94 132.9,94.63 133.7,94.57 134.5,94.25 135.3,95.1 136.1,96.02 136.9,95.91 137.7,102.8 138.5,95.43 139.3,96.1 140.1,96 140.9,96.09 141.7,97.28 142.5,100.29 143.3,95.92 144.1,95.12 144.9,95.44 145.7,96.54 146.5,95.1 147.3,101.44 148.1,95.12 148.9,93.93 149.7,93.86 150.5,97.09 151.3,96.42 152.1,94.09 152.9,100.97 153.7,97.03 154.5,99.14 155.3,99.63 156.1,96.51 156.9,94.11 157.7,98.75 158.5,103.36 159.3,98.22 160.1,98.98 160.9,96.16 161.7,93.98 162.5,94.46 163.3,94.2 164.1,98.5 164.9,95.85 165.7,102.45 166.5,99.79 167.3,96.6 168.1,97.64 168.9,96.78 169.7,96.13 170.5,96.97 171.3,103.09 172.1,102.67 172.9,97.46 173.7,97.33 174.5,96.18 175.3,96.29 176.1,97.39 176.9,96.85 177.7,95.75 178.5,96.28 179.3,96.66 180.1,96.84 180.9,96.72 181.7,95.97 182.5,97.25 183.3,97.57 184.1,95.48 184.9,103.6 185.7,96.06 186.5,96.08 187.3,97.3 188.1,98.47 188.9,105.47 189.7,97.19 190.5,96.03 191.3,95.99 192.1,97.36 192.9,99.5 193.7,98.91 194.5,97.49 195.3,103.93 196.1,100.24 196.9,96.32 197.7,97.45 198.5,97.87 199.3,98.1 200.1,97.72 200.9,95.94 201.7,95.59 202.5,97.2 203.3,97.61 204.1,97.01 204.9,96.5 205.7,95.2 206.5,100.11 207.3,96.94 208.1,95.96 208.9,93.91 209.7,93.89 210.5,95.09 211.3,95.93 212.1,99.66 212.9,97.08 213.7,95.76 214.5,94.91 215.3,95.77 216.1,96.18 216.9,96.71 217.7,100.47 218.5,95.95 219.3,95.57 220.1,95.61 220.9,96.31 221.7,98.21 222.5,98.5 223.3,98.18 224.1,100.04 224.9,100.68 225.7,98.57 226.5,95.87 227.3,93.22 228.1,92.38 228.9,95.06 229.7,97.04 230.5,97.57 231.3,97.53 232.1,96.55 232.9,97.36 233.7,101.25 234.5,96.94 235.3,96.58 236.1,95.62 236.9,94.68 237.7,94.98 238.5,96.45 239.3,97.45 240.1,97.59 240.9,98.66 241.7,99.88 242.5,104.98 243.3,101.13 244.1,100.13 244.9,95.88 245.7,95.98 246.5,96.83 247.3,95.55 248.1,95.26 248.9,96.88 249.7,97 250.5,104.69 251.3,99.26 252.1,100.2 252.9,99.46 253.7,98.17 254.5,96.43 255.3,95.07 256.1,103.42 256.9,95.41 257.7,94.82 258.5,96.06 259.3,96.91 260.1,96.35 260.9,95.46 261.7,95.38 262.5,95.71 263.3,95.43 264.1,96.02 264.9,96.4 265.7,95.88 266.5,96.75 267.3,96.97 268.1,96.13 268.9,96.46 269.7,95 270.5,92.61 271.3,93.98 272.1,96.74 272.9,96.67 273.7,95.2 274.5,103.78 275.3,96.79 276.1,101.36 276.9,97.05 277.7,94.9 278.5,92.92 279.3,94.28 280.1,96.47 280.9,103 281.7,93.19 282.5,94.62 283.3,99.79 284.1,95.6 284.9,97.23 285.7,96.96 286.5,96.05 287.3,96.5 288.1,95.89 288.9,94.58 289.7,94.7 290.5,99.43 291.3,98.67 292.1,99.4 292.9,98.62 293.7,97.92 294.5,95.78 295.3,93.39 296.1,94.86 296.9,96.15 297.7,96.36 298.5,97.81 299.3,97.4 300.1,96.32 300.9,96.15 301.7,95.85 302.5,96.28 303.3,95.47 304.1,93.67 304.9,93.94 305.7,95.32 306.5,95.54 307.3,95.51 308.1,96.95 308.9,100 309.7,95 310.5,94.08 311.3,95.34 312.1,97.03 312.9,98.12 313.7,97.88 314.5,96.87 315.3,95.61 316.1,95.01 316.9,95.41 317.7,96.49 318.5,97.48 319.3,96.16 320.1,99.56 320.9,97.49 321.7,98.52 322.5,95.65 323.3,93.57 324.1,94.74 324.9,102.71 325.7,97.07 326.5,98.36 327.3,97.86 328.1,96.41 328.9,95.92 329.7,95.52 330.5,92.9 331.3,90.9 332.1,91.82 332.9,94.3 333.7,96.7 334.5,96.44 335.3,94.99 336.1,95.56 336.9,96.9 337.7,97.39 338.5,97.13 339.3,96.3 340.1,95.3 340.9,94.28 341.7,94.8 342.5,99.83 343.3,96.17 344.1,99.05 344.9,104.38 345.7,97.51 346.5,94.81 347.3,93.13 348.1,93.94 348.9,95.4 349.7,97.14 350.5,98.75 351.3,97.38 352.1,95.09 352.9,95.55 353.7,96.77 354.5,97.03 355.3,98.21 356.1,99.1 356.9,98.06 357.7,97.91 358.5,98.26 359.3,97.43 360.1,96.66 360.9,96.24 361.7,96.03 362.5,96.17 363.3,104.63 364.1,100.46 364.9,96.85 365.7,95.77 366.5,95.09 367.3,96.06 368.1,96.59 368.9,99.33 369.7,100.31 370.5,94 371.3,92.69 372.1,94.77 372.9,97.89 373.7,97.86 374.5,97.22 375.3,98.26 376.1,97.73 376.9,96.62 377.7,97.29 378.5,97.67 379.3,97.12 380.1,97.11 380.9,96.86 381.7,96.4 382.5,102.65 383.3,104.02 384.1,94.42 384.9,94.49 385.7,95.86 386.5,96.36 387.3,95.96 388.1,96.64 388.9,98.18 389.7,97.34 390.5,96 391.3,95.79 392.1,94.46 392.9,94.47 393.7,96.18 394.5,96.79 395.3,95.93 396.1,94.95 396.9,94.41 397.7,94.07 398.5,95.26 399.3,96.4 400.1,95.49 400.9,95.04 401.7,96.44 402.5,97.85 403.3,97.37 404.1,96.54 404.9,95.88 405.7,94.16 406.5,95.33 407.3,98.6 408.1,98.58 408.9,97.55 409.7,105.12 410.5,96.63 411.3,94.85 412.1,95.57 412.9,96.7 413.7,95.37 414.5,95 415.3,96.11 416.1,96.27 416.9,97.4 417.7,97.49 418.5,94.91 419.3,94.7 420.1,98.26 420.9,99.37 421.7,96.97 422.5,96.14 423.3,96.97 424.1,102.53 424.9,95.79 425.7,94.55 426.5,94.94 427.3,95 428.1,94.79 428.9,95.21 429.7,104.54 430.5,102.66 431.3,99.24 432.1,98.17 432.9,97.59 433.7,97.22 434.5,95.9 435.3,94.17 436.1,92.45 436.9,94.23 437.7,96.9 438.5,96.32 439.3,94.73 440.1,93.6 440.9,94.07 441.7,95.3 442.5,95.35 443.3,95.13 444.1,101.95 444.9,95.85 445.7,96.17 446.5,96.26 447.3,99.9 448.1,96.41 448.9,96.88 449.7,98.53 450.5,98.27 451.3,96.53 452.1,95.23 452.9,95.47 453.7,96.62 454.5,96.88 455.3,96.35 456.1,95.76 456.9,95.42 457.7,96.02 458.5,102.15 459.3,95.27 460.1,96.26 460.9,97.72 461.7,96.98 462.5,97.31 463.3,99.26 464.1,98.28 464.9,101.22 465.7,95.54 466.5,96.04 467.3,96.45 468.1,96.95 468.9,95.98 469.7,95.2 470.5,95.03 471.3,96.14 472.1,96.93 472.9,96.35 473.7,95.76 474.5,94.67 475.3,94.86 476.1,96.28 476.9,96.67 477.7,95.3 478.5,94.16 479.3,97.4 480.1,95.02 480.9,96.15 481.7,97.26"/>
<polyline stroke="#A2142F" points="46.5,93.6 47.3,94.66 48.1,95.73 48.9,95.4 49.7,94.72 50.5,94.65 51.3,94.96 52.1,94.65 52.9,94.07 53.7,93.51 54.5,93.27 55.3,95.6 56.1,97.69 56.9,96.17 57.7,102.82 58.5,93.5 59.3,93.23 60.1,92.51 60.9,92.61 61.7,93.49 62.5,93.43 63.3,93.69 64.1,93.66 64.9,92.25 65.7,92.92 66.5,94.6 67.3,93.73 68.1,93.63 68.9,95.36 69.7,95.62 70.5,94.91 71.3,94.09 72.1,98.06 72.9,98.4 73.7,96.18 74.5,97.74 75.3,96.11 76.1,94.17 76.9,93.17 77.7,92.26 78.5,91.91 79.3,97.17 80.1,94.08 80.9,100.92 81.7,100.19 82.5,92.67 83.3,92.3 84.1,99.29 84.9,92.99 85.7,93.39 86.5,94.69 87.3,95.1 88.1,93.74 88.9,92.99 89.7,93.51 90.5,93.74 91.3,93.73 92.1,94.93 92.9,99.7 93.7,99.15 94.5,94.23 95.3,95.12 96.1,94.21 96.9,92.85 97.7,93.4 98.5,94.94 99.3,95.75 100.1,99.62 100.9,99.13 101.7,95.81 102.5,95.39 103.3,95.26 104.1,95.7 104.9,95.6 105.7,95.24 106.5,93.9 107.3,91.99 108.1,92.38 108.9,94.45 109.7,94.61 110.5,93.99 111.3,95.03 112.1,104.26 112.9,96.06 113.7,96.01 114.5,95.69 115.3,94.69 116.1,94.69 116.9,94.41 117.7,93.39 118.5,93.05 119.3,93.04 120.1,99.94 120.9,94.44 121.7,94.68 122.5,95.19 123.3,95.96 124.1,96.42 124.9,95.5 125.7,93.77 126.5,92.9 127.3,93.81 128.1,102.02 128.9,93.43 129.7,93.74 130.5,95.17 131.3,99.63 132.1,94.5 132.9,95.14 133.7,96.8 134.5,96.39 135.3,94.26 136.1,94.05 136.9,95.04 137.7,94.47 138.5,93.57 139.3,94.06 140.1,95.42 140.9,96.59 141.7,95.98 142.5,94.47 143.3,93.96 144.1,94.49 144.9,96.29 145.7,97.37 146.5,96.28 147.3,95.24 148.1,94.25 148.9,92.66 149.7,92.4 150.5,93.46 151.3,98.54 152.1,101.08 152.9,93.91 153.7,94.21 154.5,94.99 155.3,94.24 156.1,93.84 156.9,95.2 157.7,95.8 158.5,95.32 159.3,95.8 160.1,101.45 160.9,95.18 161.7,94.69 162.5,94.88 163.3,101.01 164.1,94.05 164.9,101.02 165.7,94.08 166.5,102.2 167.3,95.88 168.1,94.71 168.9,93.15 169.7,100.93 170.5,92.69 171.3,92.63 172.1,93.53 172.9,101.28 173.7,96.58 174.5,94.72 175.3,94.39 176.1,95.42 176.9,95.51 177.7,94.73 178.5,94.42 179.3,95.39 180.1,96.06 180.9,95.84 181.7,95.42 182.5,94.75 183.3,94.08 184.1,93.98 184.9,94.76 185.7,95.45 186.5,94.31 187.3,83.48 188.1,51.87 188.9,19.62 189,15.59 189.7,65.99 190.5,73.75 191.3,77.34 192.1,79.8 192.9,81.11 193.7,82.34 194.5,83.24 195.3,84.05 196.1,84.86 196.9,85.46 197.7,85.94 198.5,86.67 199.3,87.3 200.1,87.4 200.9,87.67 201.7,88.7 202.5,89.16 203.3,89.33 204.1,90.19 204.9,90.26 205.7,92.4 206.5,90.52 207.3,91.24 208.1,91.17 208.9,91.28 209.7,91.92 210.5,92.29 211.3,92.31 212.1,92.1 212.9,92.38 213.7,93.04 214.5,97.56 215.3,97.5 216.1,92.09 216.9,93.03 217.7,93.84 218.5,92.82 219.3,91.29 220.1,91.1 220.9,92.5 221.7,99.08 222.5,92.44 223.3,92.39 224.1,93.29 224.9,93.41 225.7,94.22 226.5,94.92 227.3,94.52 228.1,94 228.9,93.01 229.7,93.32 230.5,94.91 231.3,95.32 232.1,94.08 232.9,92.89 233.7,93.42 234.5,94.41 235.3,94.14 236.1,93.28 236.9,97.67 237.7,94.75 238.5,101.16 239.3,94.71 240.1,95.44 240.9,96.52 241.7,96.18 242.5,94.86 243.3,94.52 244.1,93.98 244.9,93.35 245.7,93.18 246.5,92.91 247.3,93.1 248.1,94.1 248.9,94.2 249.7,97.11 250.5,95.26 251.3,96.21 252.1,96.22 252.9,95.05 253.7,92.96 254.5,92.75 255.3,98.22 256.1,96.17 256.9,95.58 257.7,93.8 258.5,92.93 259.3,93.4 260.1,93.22 260.9,93.84 261.7,94.75 262.5,93.36 263.3,92.38 264.1,93.26 264.9,93.6 265.7,93.01 266.5,93.17 267.3,93.69 268.1,93.16 268.9,93.22 269.7,94.61 270.5,95.14 271.3,94.71 272.1,94.22 272.9,98.68 273.7,94.46 274.5,94.3 275.3,93.73 276.1,92.71 276.9,92.75 277.7,93.81 278.5,94.38 279.3,94.93 280.1,95.02 280.9,93.86 281.7,94.08 282.5,96.02 283.3,95.57 284.1,93.15 284.9,92.98 285.7,95.03 286.5,96.4 287.3,95.66 288.1,93.96 288.9,93.77 289.7,94.75 290.5,94.81 291.3,94.26 292.1,93.8 292.9,93.4 293.7,93.54 294.5,100.99 295.3,93.43 296.1,94.12 296.9,93.78 297.7,92.35 298.5,92.85 299.3,100.16 300.1,93.85 300.9,98.56 301.7,94.09 302.5,93.44 303.3,94.46 304.1,95.65 304.9,95.21 305.7,94.29 306.5,94.62 307.3,94.57 308.1,94.43 308.9,95.31 309.7,96.16 310.5,96.14 311.3,94.81 312.1,93.64 312.9,94.1 313.7,93.87 314.5,92.28 315.3,91.92 316.1,92.74 316.9,93.3 317.7,93.17 318.5,93.04 319.3,93.18 320.1,93.22 320.9,93.22 321.7,93.92 322.5,95.58 323.3,95.23 324.1,92.87 324.9,92.85 325.7,94.97 326.5,95.19 327.3,93.97 328.1,94.03 328.9,93.75 329.7,92.81 330.5,93.16 331.3,93.4 332.1,93.86 332.9,95.53 333.7,94.27 334.5,91.53 335.3,91.56 336.1,92.93 336.9,93.46 337.7,93.48 338.5,94.31 339.3,94.22 340.1,94.17 340.9,94.73 341.7,101.79 342.5,96.48 343.3,95.01 344.1,94.29 344.9,95.6 345.7,96.56 346.5,96.73 347.3,96.47 348.1,95.84 348.9,95.54 349.7,96.07 350.5,104.27 351.3,102.18 352.1,97.86 352.9,94.22 353.7,96.25 354.5,93.77 355.3,91.54 356.1,92.69 356.9,93.57 357.7,92.81 358.5,91.41 359.3,91.39 360.1,94.01 360.9,96.08 361.7,96.12 362.5,96.59 363.3,95.98 364.1,94.2 364.9,94.26 365.7,94.57 366.5,93.7 367.3,93.77 368.1,94.07 368.9,93.77 369.7,94.15 370.5,94.26 371.3,94.37 372.1,94.77 372.9,94.25 373.7,93.17 374.5,93.08 375.3,93.4 376.1,93.89 376.9,94.85 377.7,95.18 378.5,96.64 379.3,98.24 380.1,96.73 380.9,99.98 381.7,94.05 382.5,94.72 383.3,95.45 384.1,95.98 384.9,95.85 385.7,94.95 386.5,94.28 387.3,94.34 388.1,94.54 388.9,94.56 389.7,94.08 390.5,94.1 391.3,94.6 392.1,93.79 392.9,93.76 393.7,95.46 394.5,102.6 395.3,95.53 396.1,101.23 396.9,95.57 397.7,94.41 398.5,93.04 399.3,92.66 400.1,92.9 400.9,93.81 401.7,94.5 402.5,94.59 403.3,93.41 404.1,91.46 404.9,91.93 405.7,94.59 406.5,96.38 407.3,95.27 408.1,93.54 408.9,93.75 409.7,101.97 410.5,93.59 411.3,94.05 412.1,94.81 412.9,94.17 413.7,97.2 414.5,93.39 415.3,94.41 416.1,94.98 416.9,94.4 417.7,93.69 418.5,93.28 419.3,93.33 420.1,94.16 420.9,94.63 421.7,94.35 422.5,94.56 423.3,94.57 424.1,93.79 424.9,93.36 425.7,92.51 426.5,92.99 427.3,94.8 428.1,94.46 428.9,93.71 429.7,93.84 430.5,94.21 431.3,94.4 432.1,93.72 432.9,93.75 433.7,95.55 434.5,96.34 435.3,95.39 436.1,94.62 436.9,93.2 437.7,93.33 438.5,95.74 439.3,96.1 440.1,94.04 440.9,92.86 441.7,93.4 442.5,99.93 443.3,93.28 444.1,92.47 444.9,93.63 445.7,94.57 446.5,93.16 447.3,92.76 448.1,93.94 448.9,101.24 449.7,92.77 450.5,93.18 451.3,93.66 452.1,93.44 452.9,94.14 453.7,95.44 454.5,96.16 455.3,94.21 456.1,92.76 456.9,95.16 457.7,95.81 458.5,94.38 459.3,94.15 460.1,93.05 460.9,97.55 461.7,94.11 462.5,94.5 463.3,93.32 464.1,92.59 464.9,92.74 465.7,93.57 466.5,101.91 467.3,95.18 468.1,96.09 468.9,96.21 469.7,94.94 470.5,92.87 471.3,92.69 472.1,93.84 472.9,94.44 473.7,93.94 474.5,93.25 475.3,94.53 476.1,95.94 476.9,96.07 477.7,96.3 478.5,100.68 479.3,96.14 480.1,103.22 480.9,100.37 481.7,95.15"/>
<polyline stroke="#A2142F" points="46.5,95.52 47.3,96.36 48.1,96.94 48.9,96.61 49.7,95 50.5,94.23 51.3,93.27 52.1,92.11 52.9,92.86 53.7,94.25 54.5,95.38 55.3,95.58 56.1,95.05 56.9,95.03 57.7,95.62 58.5,95.82 59.3,95.22 60.1,95.06 60.9,95.36 61.7,94.6 62.5,93.83 63.3,93.54 64.1,93.24 64.9,93.7 65.7,94.07 66.5,93.68 67.3,93.26 68.1,93.54 68.9,93.82 69.7,94.08 70.5,94.4 71.3,94.53 72.1,94.48 72.9,93.99 73.7,94.43 74.5,94.97 75.3,94.47 76.1,94.88 76.9,96.07 77.7,95.36 78.5,93.84 79.3,94.29 80.1,94.71 80.9,96.02 81.7,92.51 82.5,94.51 83.3,95.71 84.1,95.96 84.9,95.6 85.7,93.9 86.5,93.17 87.3,93.78 88.1,93.31 88.9,93.74 89.7,94.95 90.5,94.71 91.3,94.22 92.1,102.12 92.9,94.83 93.7,94.62 94.5,94.31 95.3,94.26 96.1,94.89 96.9,94.95 97.7,94.11 98.5,93.96 99.3,95.18 100.1,96.17 100.9,95.69 101.7,95.6 102.5,95.91 103.3,95.73 104.1,96.35 104.9,97.15 105.7,96 106.5,102.89 107.3,94.59 108.1,100.94 108.9,95.75 109.7,95.59 110.5,93.53 111.3,97.05 112.1,93.9 112.9,94.48 113.7,95.09 114.5,95.28 115.3,95.13 116.1,94.8 116.9,94.72 117.7,95 118.5,94.91 119.3,95 120.1,94.18 120.9,92.45 121.7,92.95 122.5,94.67 123.3,93.85 124.1,92.81 124.9,93.12 125.7,93.53 126.5,94.51 127.3,93.74 128.1,92.02 128.9,92.28 129.7,93.29 130.5,94.21 131.3,94.24 132.1,93.63 132.9,93.16 133.7,100.61 134.5,94.72 135.3,95.33 136.1,95.05 136.9,95.23 137.7,93.85 138.5,92 139.3,92.65 140.1,94.82 140.9,94.9 141.7,94 142.5,94.19 143.3,94.9 144.1,95.7 144.9,94.93 145.7,102.27 146.5,94.48 147.3,94.2 148.1,94.22 148.9,101.52 149.7,95.46 150.5,94.83 151.3,99.07 152.1,94.14 152.9,93.67 153.7,94.15 154.5,95.16 155.3,94.37 156.1,93.13 156.9,93.49 157.7,94.96 158.5,95.65 159.3,94.76 160.1,93.6 160.9,93.27 161.7,93.91 162.5,101.67 163.3,93.42 164.1,92.54 164.9,92.01 165.7,99.67 166.5,93.47 167.3,93.54 168.1,92.99 168.9,93.09 169.7,93.76 170.5,93.58 171.3,93.79 172.1,102.76 172.9,94.82 173.7,94.74 174.5,95.17 175.3,95.8 176.1,95.73 176.9,94.58 177.7,94.03 178.5,94.24 179.3,94.24 180.1,94.41 180.9,95.21 181.7,95.3 182.5,94.26 183.3,93.63 184.1,93.55 184.9,94.3 185.7,95.77 186.5,96.25 187.3,94.69 188.1,92.77 188.9,93.5 189.7,94.63 190.5,93.63 191.3,93.45 192.1,94.12 192.9,93.87 193.7,93.88 194.5,94.13 195.3,93.56 196.1,92.86 196.9,93.99 197.7,95.86 198.5,95.05 199.3,92.41 200.1,92.26 200.9,93.82 201.7,94.45 202.5,94.58 203.3,93.99 204.1,93.48 204.9,93.14 205.7,93.63 206.5,95.2 207.3,96.1 208.1,96.68 208.9,97.95 209.7,98.51 210.5,96.7 211.3,103.28 212.1,94.4 212.9,94.25 213.7,101.83 214.5,97.17 215.3,93.85 216.1,95.06 216.9,96.47 217.7,96.3 218.5,94.62 219.3,94.91 220.1,96.37 220.9,96.06 221.7,94.34 222.5,95.96 223.3,92.79 224.1,93.75 224.9,99.48 225.7,102.55 226.5,95.62 227.3,95.53 228.1,95.2 228.9,94.02 229.7,93.55 230.5,99.98 231.3,94.78 232.1,93.86 232.9,93.68 233.7,94.79 234.5,94.42 235.3,93.67 236.1,93.81 236.9,94.82 237.7,95.8 238.5,95.59 239.3,94.92 240.1,94.82 240.9,95.71 241.7,96.64 242.5,96.47 243.3,95.99 244.1,94.41 244.9,92.93 245.7,93.58 246.5,94.05 247.3,94.59 248.1,96.02 248.9,95.27 249.7,93.86 250.5,95.17 251.3,96.72 252.1,95.89 252.9,94.11 253.7,93.56 254.5,93.52 255.3,93.36 256.1,93.69 256.9,93.6 257.7,94.12 258.5,94.27 259.3,97.58 260.1,91.7 260.9,92.01 261.7,92.52 262.5,92.78 263.3,93 264.1,93.59 264.9,94.06 265.7,93.72 266.5,92.62 267.3,99.07 268.1,93.02 268.9,95.66 269.7,96.37 270.5,93.9 271.3,93.06 272.1,95.03 272.9,96.15 273.7,95.63 274.5,94.33 275.3,93.43 276.1,98.29 276.9,94.78 277.7,96.46 278.5,101.84 279.3,94.74 280.1,94.19 280.9,94.67 281.7,101.44 282.5,93.77 283.3,93.92 284.1,94.53 284.9,93.76 285.7,96.85 286.5,94.44 287.3,95.29 288.1,94.64 288.9,94.27 289.7,95.39 290.5,96.27 291.3,96.25 292.1,95.84 292.9,93.88 293.7,92.21 294.5,101.16 295.3,93.31 296.1,93.8 296.9,95.12 297.7,104.97 298.5,95.55 299.3,94.62 300.1,94.43 300.9,93.92 301.7,94.76 302.5,99.85 303.3,95.85 304.1,96.03 304.9,95.39 305.7,94.86 306.5,94.48 307.3,94.02 308.1,93.43 308.9,93.27 309.7,94.52 310.5,95.65 311.3,95.41 312.1,94.22 312.9,93.26 313.7,93.83 314.5,94.52 315.3,94.88 316.1,95.52 316.9,95.56 317.7,95.6 318.5,95.31 319.3,94.65 320.1,95.12 320.9,95.81 321.7,95.52 322.5,95.07 323.3,94.25 324.1,93.42 324.9,93.93 325.7,93.78 326.5,93.06 327.3,93.22 328.1,94.24 328.9,94.19 329.7,92.72 330.5,93.64 331.3,94.63 332.1,93.67 332.9,94.1 333.7,94.68 334.5,94.01 335.3,93.67 336.1,93.74 336.9,97.25 337.7,93.19 338.5,93.61 339.3,94.43 340.1,93.97 340.9,93.34 341.7,94.15 342.5,94.87 343.3,101.67 344.1,93.51 344.9,94.21 345.7,95.78 346.5,96.03 347.3,94.69 348.1,97.57 348.9,93.05 349.7,92.12 350.5,91.84 351.3,92.8 352.1,93.85 352.9,94.74 353.7,95.05 354.5,95.01 355.3,94.82 356.1,94.77 356.9,100.68 357.7,94.08 358.5,94.27 359.3,94.99 360.1,101.21 360.9,94.1 361.7,94.77 362.5,96.7 363.3,103.83 364.1,99.93 364.9,93.53 365.7,94.73 366.5,96.32 367.3,96.17 368.1,95.31 368.9,94.2 369.7,93.9 370.5,94.71 371.3,94.18 372.1,94.58 372.9,96.01 373.7,102.37 374.5,94.51 375.3,94.37 376.1,99.76 376.9,92.66 377.7,92.58 378.5,92.53 379.3,93.03 380.1,94.29 380.9,95.47 381.7,96.54 382.5,96.86 383.3,95.59 384.1,94.39 384.9,94.36 385.7,94.09 386.5,93.2 387.3,93.24 388.1,94.17 388.9,93.16 389.7,67.95 390.5,35.75 391,15.59 391.3,56.45 392.1,70.79 392.9,75.87 393.7,78.54 394.5,80.25 395.3,81.89 396.1,82.59 396.9,83.46 397.7,84.23 398.5,85.05 399.3,85.66 400.1,86.14 400.9,86.63 401.7,86.94 402.5,87.4 403.3,87.97 404.1,88.39 404.9,88.67 405.7,89.24 406.5,90.01 407.3,90.36 408.1,91.88 408.9,90.92 409.7,91.04 410.5,91.58 411.3,92.26 412.1,91.97 412.9,91.22 413.7,92.02 414.5,97.34 415.3,93.35 416.1,93.05 416.9,96.56 417.7,92.74 418.5,91.7 419.3,92.6 420.1,93.64 420.9,94.09 421.7,94.66 422.5,95.01 423.3,95.35 424.1,95.57 424.9,95.69 425.7,95.25 426.5,94.02 427.3,93.02 428.1,92.38 428.9,91.68 429.7,92.06 430.5,93.08 431.3,93.82 432.1,100.35 432.9,94.64 433.7,94.88 434.5,94.71 435.3,93.95 436.1,94.09 436.9,94.24 437.7,93.85 438.5,93.28 439.3,94.04 440.1,95.18 440.9,93.39 441.7,91.38 442.5,91.89 443.3,95.51 444.1,92.5 444.9,92.8 445.7,94.28 446.5,95.2 447.3,95.47 448.1,96.03 448.9,95.18 449.7,93.94 450.5,94.62 451.3,100.55 452.1,93.17 452.9,93.41 453.7,94.73 454.5,95.15 455.3,94.69 456.1,93.8 456.9,93.1 457.7,93.84 458.5,94.95 459.3,95.4 460.1,95.77 460.9,94.61 461.7,93.62 462.5,94.91 463.3,94.91 464.1,102.07 464.9,99 465.7,94.75 466.5,95.42 467.3,95.02 468.1,94.06 468.9,93.91 469.7,93.74 470.5,94.19 471.3,96.04 472.1,96.27 472.9,94.25 473.7,93.25 474.5,93.51 475.3,94.26 476.1,95.43 476.9,95.49 477.7,95.14 478.5,94.78 479.3,95.28 480.1,96.66 480.9,95.48 481.7,93.62"/>
<polyline stroke="#A2142F" points="46.5,93.3 47.3,93.86 48.1,94.25 48.9,92.94 49.7,93.25 50.5,95.1 51.3,100.78 52.1,93.04 52.9,91.93 53.7,92.89 54.5,94.89 55.3,94.71 56.1,93.8 56.9,98.78 57.7,99.42 58.5,94.29 59.3,94.61 60.1,95.93 60.9,96.61 61.7,94.96 62.5,92.15 63.3,90.9 64.1,92.13 64.9,94.52 65.7,95.32 66.5,94.59 67.3,95 68.1,95.32 68.9,99.75 69.7,94.57 70.5,93.71 71.3,93.8 72.1,95.2 72.9,95.78 73.7,95.04 74.5,94.14 75.3,93.78 76.1,101.49 76.9,94.98 77.7,95.89 78.5,95.54 79.3,94.45 80.1,94.12 80.9,95.11 81.7,96.36 82.5,96.3 83.3,95.1 84.1,94.26 84.9,94.94 85.7,95.62 86.5,103.82 87.3,94.01 88.1,96.39 88.9,94.08 89.7,94.96 90.5,94.5 91.3,94.87 92.1,96.1 92.9,96.13 93.7,95.86 94.5,95.66 95.3,94.46 96.1,93.05 96.9,93.03 97.7,94.33 98.5,95.13 99.3,102.64 100.1,94.52 100.9,96.38 101.7,96.11 102.5,93.57 103.3,92.88 104.1,93.45 104.9,93.07 105.7,98.14 106.5,93.1 107.3,95.68 108.1,94.83 108.9,93.06 109.7,93.9 110.5,95.49 111.3,95.02 112.1,79.48 112.9,47.84 113.7,15.59 113.7,15.59 114.5,67.45 115.3,74.32 116.1,77.64 116.9,79.79 117.7,81.26 118.5,82.14 119.3,83.05 120.1,84.14 120.9,84.79 121.7,85.24 122.5,85.75 123.3,86.13 124.1,86.69 124.9,87.3 125.7,88.06 126.5,89.94 127.3,88.41 128.1,89.06 128.9,89.5 129.7,89.25 130.5,91.97 131.3,93.19 132.1,91.98 132.9,91.47 133.7,90.87 134.5,94.77 135.3,92.45 136.1,91.1 136.9,90.05 137.7,90.65 138.5,92.14 139.3,93.77 140.1,94.66 140.9,94.51 141.7,93.06 142.5,93.4 143.3,94.78 144.1,93.52 144.9,92.77 145.7,93.94 146.5,93.58 147.3,93.16 148.1,94.12 148.9,93.61 149.7,92.71 150.5,93.39 151.3,94.02 152.1,93.72 152.9,93.13 153.7,98.02 154.5,92.91 155.3,94.64 156.1,94.81 156.9,93.53 157.7,93.28 158.5,93.69 159.3,98.07 160.1,94.47 160.9,95.83 161.7,95.81 162.5,95.16 163.3,94.65 164.1,94.4 164.9,94.02 165.7,93.51 166.5,94.63 167.3,95.7 168.1,94.29 168.9,93.75 169.7,94.53 170.5,94.35 171.3,93.86 172.1,93.7 172.9,93.97 173.7,94.1 174.5,92.77 175.3,92.95 176.1,94.46 176.9,94.38 177.7,94.97 178.5,95.86 179.3,95.25 180.1,94.72 180.9,102.36 181.7,93.63 182.5,93.66 183.3,95.95 184.1,96.77 184.9,95.21 185.7,94.17 186.5,93.85 187.3,93.38 188.1,94.37 188.9,104.29 189.7,95.63 190.5,103.56 191.3,95.56 192.1,95.5 192.9,94.62 193.7,94.56 194.5,95.66 195.3,99.03 196.1,98.15 196.9,92.57 197.7,100.67 198.5,95.18 199.3,94.87 200.1,93.68 200.9,93.79 201.7,92.95 202.5,92.96 203.3,95.59 204.1,96.15 204.9,95.34 205.7,95.82 206.5,95.67 207.3,94.61 208.1,94.42 208.9,95.11 209.7,94.55 210.5,94.24 211.3,95.57 212.1,95.37 212.9,93.59 213.7,97.59 214.5,96.11 215.3,95.67 216.1,93.45 216.9,93.74 217.7,94.81 218.5,94.62 219.3,94.21 220.1,93.28 220.9,92.1 221.7,92.68 222.5,94.57 223.3,95.29 224.1,94.16 224.9,95.98 225.7,99.46 226.5,95.77 227.3,95.82 228.1,94.46 228.9,92.97 229.7,99.8 230.5,94.72 231.3,95.42 232.1,99.97 232.9,93.71 233.7,94.42 234.5,95.4 235.3,94.86 236.1,93.8 236.9,93.52 237.7,94.06 238.5,95.07 239.3,95.09 240.1,95.8 240.9,97.13 241.7,95.72 242.5,93.82 243.3,93.94 244.1,94.66 244.9,94.4 245.7,93.85 246.5,94.83 247.3,95.57 248.1,95.4 248.9,96.08 249.7,94.95 250.5,92.7 251.3,92.74 252.1,93.19 252.9,93.09 253.7,93.32 254.5,93.52 255.3,93.52 256.1,94.28 256.9,94.91 257.7,94.34 258.5,93.64 259.3,92.92 260.1,92.22 260.9,92.92 261.7,94.35 262.5,93.66 263.3,92.85 264.1,94.33 264.9,95.4 265.7,95.32 266.5,95.43 267.3,94.59 268.1,93.47 268.9,94.02 269.7,94.93 270.5,94.25 271.3,93.34 272.1,94.89 272.9,95.55 273.7,94.36 274.5,94.44 275.3,93.79 276.1,96.67 276.9,93.95 277.7,97.49 278.5,95.27 279.3,97 280.1,95.7 280.9,101.91 281.7,94.71 282.5,92.96 283.3,94.5 284.1,96.27 284.9,94.78 285.7,93.05 286.5,93.22 287.3,94.38 288.1,94.98 288.9,95.36 289.7,95.4 290.5,101.98 291.3,93.23 292.1,93.4 292.9,93.87 293.7,92.74 294.5,92.1 295.3,93.08 296.1,93.8 296.9,93.95 297.7,93.85 298.5,93.57 299.3,94.25 300.1,95.15 300.9,95.31 301.7,94.97 302.5,94.21 303.3,94.6 304.1,94.09 304.9,92.47 305.7,92.6 306.5,93.42 307.3,94.08 308.1,94.42 308.9,94.29 309.7,93.79 310.5,92.64 311.3,93.08 312.1,95.29 312.9,94.55 313.7,93.67 314.5,94.88 315.3,94.34 316.1,93.68 316.9,94.21 317.7,100.21 318.5,95.87 319.3,102.34 320.1,95.74 320.9,95.17 321.7,94.46 322.5,93.22 323.3,92.97 324.1,93.01 324.9,93.92 325.7,95.2 326.5,95.04 327.3,100.05 328.1,94.41 328.9,98.32 329.7,93.46 330.5,94.1 331.3,94.43 332.1,95.11 332.9,102.97 333.7,92.86 334.5,92.31 335.3,92.26 336.1,92.43 336.9,93.66 337.7,94.39 338.5,93.7 339.3,92.6 340.1,92.53 340.9,93.65 341.7,93.79 342.5,92.99 343.3,93.15 344.1,100.62 344.9,94.91 345.7,94.69 346.5,99.62 347.3,94.01 348.1,93.67 348.9,96.29 349.7,93.78 350.5,94.58 351.3,94.52 352.1,100.28 352.9,97.35 353.7,93.29 354.5,93.78 355.3,93.95 356.1,93.89 356.9,95.67 357.7,96.37 358.5,94.29 359.3,93.7 360.1,94.9 360.9,94.66 361.7,93.24 362.5,93.28 363.3,94.7 364.1,94.91 364.9,93.51 365.7,91.9 366.5,91.72 367.3,93.06 368.1,94.28 368.9,95 369.7,96.02 370.5,97.53 371.3,100.2 372.1,93.97 372.9,93.81 373.7,94.31 374.5,93.73 375.3,97.41 376.1,95.24 376.9,95.38 377.7,94.15 378.5,93.21 379.3,93.14 380.1,92.44 380.9,92.31 381.7,92.98 382.5,94.36 383.3,95.02 384.1,94.49 384.9,100.59 385.7,93.39 386.5,93.05 387.3,94.39 388.1,95.45 388.9,95.07 389.7,94.47 390.5,96.14 391.3,97.99 392.1,96.47 392.9,93.86 393.7,93.9 394.5,95.16 395.3,95.27 396.1,93.75 396.9,92.88 397.7,94.79 398.5,95.77 399.3,94.62 400.1,94.22 400.9,94.24 401.7,93.79 402.5,99.88 403.3,95.17 404.1,95.28 404.9,94.84 405.7,94.34 406.5,102.09 407.3,93.15 408.1,93.63 408.9,93.35 409.7,93.48 410.5,95.44 411.3,102.65 412.1,95.13 412.9,93.48 413.7,94 414.5,95.37 415.3,94.81 416.1,94.06 416.9,93.54 417.7,92.93 418.5,93.19 419.3,93.46 420.1,94.27 420.9,95.08 421.7,94.75 422.5,94.37 423.3,94.97 424.1,95.43 424.9,94.35 425.7,93.83 426.5,94.5 427.3,94.27 428.1,93.43 428.9,101.06 429.7,93.27 430.5,93.77 431.3,94.39 432.1,100.95 432.9,99.12 433.7,94.12 434.5,94.01 435.3,93.37 436.1,100.06 436.9,93.76 437.7,94.71 438.5,95.25 439.3,94.95 440.1,93.65 440.9,93.8 441.7,95.5 442.5,95.38 443.3,94.03 444.1,94.05 444.9,95.19 445.7,95.6 446.5,94.67 447.3,93.69 448.1,93.83 448.9,94.33 449.7,94.3 450.5,94.55 451.3,99.53 452.1,93.68 452.9,93.62 453.7,101.01 454.5,93.71 455.3,94.7 456.1,94.93 456.9,94.42 457.7,93.58 458.5,92.79 459.3,93.21 460.1,99.61 460.9,95.35 461.7,94.82 462.5,94.53 463.3,95.85 464.1,95.84 464.9,94.17 465.7,93.87 466.5,94.6 467.3,100.44 468.1,94.8 468.9,94.18 469.7,93.13 470.5,92.15 471.3,91.25 472.1,100.32 472.9,93.33 473.7,93.79 474.5,93.27 475.3,93.36 476.1,96.23 476.9,93.4 477.7,99.27 478.5,102.22 479.3,94.16 480.1,94.58 480.9,94.7 481.7,94.01"/>
</g>
<path d="M46.5,116.0v-4M46.5,8.5v4 M97.2,116.0v-4M97.2,8.5v4 M147.9,116.0v-4M147.9,8.5v4 M198.6,116.0v-4M198.6,8.5v4 M249.3,116.0v-4M249.3,8.5v4 M300,116.0v-4M300,8.5v4 M350.7,116.0v-4M350.7,8.5v4 M401.4,116.0v-4M401.4,8.5v4 M452.1,116.0v-4M452.1,8.5v4 M46.5,8.06h4M482.0,8.06h-4 M46.5,21.5h4M482.0,21.5h-4 M46.5,34.94h4M482.0,34.94h-4 M46.5,48.38h4M482.0,48.38h-4 M46.5,61.82h4M482.0,61.82h-4 M46.5,75.26h4M482.0,75.26h-4 M46.5,88.7h4M482.0,88.7h-4 M46.5,102.14h4M482.0,102.14h-4 M46.5,115.58h4M482.0,115.58h-4" stroke="#8a8a8a" stroke-width="1" fill="none"/>
<rect x="46.5" y="8.5" width="435.5" height="107.5" stroke="#8a8a8a" stroke-width="1" fill="none"/>
<g font-size="9.5" fill="#262626" text-anchor="end" stroke="#262626" stroke-width="0.22">
<text x="43" y="25.7">0</text>
<text x="43" y="39.14">-10</text>
<text x="43" y="52.58">-20</text>
<text x="43" y="66.02">-30</text>
<text x="43" y="79.46">-40</text>
<text x="43" y="92.9">-50</text>
<text x="43" y="106.34">-60</text>
<text x="43" y="119.78">-70</text>
</g>
<g font-size="9.5" fill="#262626" text-anchor="middle" stroke="#262626" stroke-width="0.22">
<text x="46.5" y="129.0">1550</text>
<text x="97.2" y="129.0">1555</text>
<text x="147.9" y="129.0">1560</text>
<text x="198.6" y="129.0">1565</text>
<text x="249.3" y="129.0">1570</text>
<text x="300" y="129.0">1575</text>
<text x="350.7" y="129.0">1580</text>
<text x="401.4" y="129.0">1585</text>
<text x="452.1" y="129.0">1590</text>
</g>
<text x="264.2" y="139.7" font-size="10.5" fill="#262626" text-anchor="middle" stroke="#262626" stroke-width="0.22">Wavelength(nm)</text>
<text transform="translate(25.5,61.2) rotate(-90)" font-size="10" fill="#262626" text-anchor="middle" stroke="#262626" stroke-width="0.22">Power (dBm)</text>
<text x="7.9" y="160.6" font-size="15" textLength="17" lengthAdjust="spacingAndGlyphs" fill="#1a1a1a" stroke="#1a1a1a" stroke-width="0.3">(b)</text>
<path d="M99.83,163.0V312.5 M164.17,163.0V312.5 M35.5,252.5H228.5 M35.5,192.5H228.5" stroke="#f0f0f0" stroke-width="1" fill="none"/>
<polyline points="36,297.37 36.3,295.6 36.6,294.09 36.9,292.77 37.2,291.6 37.5,290.53 37.8,289.56 38.1,288.66 38.4,287.82 38.7,287.04 39,286.3 39.3,285.61 39.6,284.94 39.9,284.31 40,284.11 41.5,281.35 43,279 44.5,276.93 46,275.07 47.5,273.36 49,271.77 50.5,270.27 52,268.86 53.5,267.51 55,266.22 56.5,264.98 58,263.78 59.5,262.62 61,261.5 62.5,260.4 64,259.33 65.5,258.29 67,257.28 68.5,256.28 70,255.3 71.5,254.34 73,253.4 74.5,252.48 76,251.57 77.5,250.67 79,249.79 80.5,248.92 82,248.06 83.5,247.21 85,246.38 86.5,245.55 88,244.74 89.5,243.93 91,243.14 92.5,242.35 94,241.57 95.5,240.8 97,240.04 98.5,239.29 100,238.54 101.5,237.8 103,237.07 104.5,236.35 106,235.63 107.5,234.92 109,234.22 110.5,233.52 112,232.83 113.5,232.14 115,231.46 116.5,230.79 118,230.12 119.5,229.46 121,228.8 122.5,228.15 124,227.5 125.5,226.86 127,226.23 128.5,225.6 130,224.97 131.5,224.35 133,223.74 134.5,223.13 136,222.52 137.5,221.92 139,221.33 140.5,220.73 142,220.15 143.5,219.57 145,218.99 146.5,218.42 148,217.85 149.5,217.28 151,216.72 152.5,216.17 154,215.62 155.5,215.07 157,214.53 158.5,213.99 160,213.45 161.5,212.92 163,212.4 164.5,211.87 166,211.35 167.5,210.84 169,210.33 170.5,209.82 172,209.32 173.5,208.82 175,208.33 176.5,207.84 178,207.35 179.5,206.87 181,206.39 182.5,205.91 184,205.44 185.5,204.97 187,204.51 188.5,204.05 190,203.59 191.5,203.14 193,202.69 194.5,202.24 196,201.8 197.5,201.36 199,200.93 200.5,200.49 202,200.07 203.5,199.64 205,199.22 206.5,198.8 208,198.39 209.5,197.98 211,197.57 212.5,197.17 214,196.77 215.5,196.37 217,195.98 218.5,195.59 220,195.21 221.5,194.82 223,194.45 224.5,194.07 226,193.7 227.5,193.33 228.5,193.09" stroke="#D95319" stroke-width="1.9" fill="none" stroke-linejoin="round"/>
<polyline points="48.2,312.3 75.7,312.3 77.7,309.77 79.7,307.26 81.7,304.78 83.7,302.31 85.7,299.86 87.7,297.44 89.7,295.03 91.7,292.64 93.7,290.28 95.7,287.93 97.7,285.61 99.7,283.3 101.7,281.02 103.7,278.75 105.7,276.51 107.7,274.28 109.7,272.08 111.7,269.9 113.7,267.73 115.7,265.59 117.7,263.47 119.7,261.37 121.7,259.28 123.7,257.22 125.7,255.18 127.7,253.16 129.7,251.16 131.7,249.17 133.7,247.21 135.7,245.27 137.7,243.35 139.7,241.45 141.7,239.57 143.7,237.71 145.7,235.87 147.7,234.05 149.7,232.25 151.7,230.47 153.7,228.72 155.7,226.98 157.7,225.26 159.7,223.56 161.7,221.88 163.7,220.23 165.7,218.59 167.7,216.97 169.7,215.38 171.7,213.8 173.7,212.24 175.7,210.71 177.7,209.19 179.7,207.7 181.7,206.22 183.7,204.77 185.7,203.33 187.7,201.92 189.7,200.52 191.7,199.15 193.7,197.79 195.7,196.46 197.7,195.15 199.7,193.85 201.7,192.58 203.7,191.33 205.7,190.1 207.7,188.88 209.7,187.69 211.7,186.52 213.7,185.37 215.7,184.24 217.7,183.13 219.7,182.04 221.7,180.97 223.7,179.92 225.7,178.89 227.7,177.88 228.5,177.48" stroke="#0072BD" stroke-width="2" fill="none" stroke-linejoin="round"/>
<ellipse cx="80.1" cy="255" rx="2.6" ry="19.3" fill="none" stroke="#e8a6ad" stroke-width="0.9"/>
<path d="M80.1,235.7H92" stroke="#e0506a" stroke-width="0.9" fill="none"/><path d="M95,235.7l-4,-2v4z" fill="#b0203a"/>
<ellipse cx="123" cy="266" rx="4" ry="23.2" fill="none" stroke="#c8ccd6" stroke-width="0.9"/>
<path d="M123,289.2H110" stroke="#7c9cd0" stroke-width="0.9" fill="none"/><path d="M106.5,289.2l4,-2v4z" fill="#6a8cc8"/>
<path d="M35.5,312.5v-3M35.5,163.0v3 M99.83,312.5v-3M99.83,163.0v3 M164.17,312.5v-3M164.17,163.0v3 M228.5,312.5v-3M228.5,163.0v3" stroke="#8a8a8a" stroke-width="1" fill="none"/>
<path d="M35.5,163.0H228.5M35.5,312.5H228.5" stroke="#8a8a8a" stroke-width="1" fill="none"/>
<path d="M35.5,163.0V312.5M35.5,312.5h3M35.5,252.5h3M35.5,192.5h3" stroke="#a4b2c6" stroke-width="1" fill="none"/>
<path d="M228.5,163.0V312.5M228.5,312.3h-3M228.5,270.1h-3M228.5,227.9h-3M228.5,185.7h-3" stroke="#e6cabd" stroke-width="1" fill="none"/>
<g font-size="11" fill="#0072BD" text-anchor="end" stroke="#0072BD" stroke-width="0.08">
<text x="31.2" y="316.9">0</text>
<text x="31.2" y="256.9">5</text>
<text x="31.2" y="196.9">10</text>
</g>
<g font-size="11" fill="#D95319" stroke="#D95319" stroke-width="0.08">
<text x="233.2" y="316.9">0</text>
<text x="233.2" y="274.7">1</text>
<text x="233.2" y="232.5">2</text>
<text x="233.2" y="190.3">3</text>
</g>
<g font-size="11" fill="#262626" text-anchor="middle" stroke="#262626" stroke-width="0.22">
<text x="35.5" y="327.4">0</text>
<text x="99.83" y="327.4">50</text>
<text x="164.17" y="327.4">100</text>
<text x="228.5" y="327.4">150</text>
</g>
<text x="132.2" y="344.6" font-size="12.8" fill="#262626" text-anchor="middle" stroke="#262626" stroke-width="0.22">Current (mA)</text>
<text transform="translate(13.8,237.7) rotate(-90)" font-size="12.8" fill="#0072BD" text-anchor="middle" stroke="#0072BD" stroke-width="0.08">Output Power (mW)</text>
<text transform="translate(253.6,238.1) rotate(-90)" font-size="12.8" fill="#D95319" text-anchor="middle" stroke="#D95319" stroke-width="0.08">Voltage (V)</text>
<text x="288.9" y="161" font-size="15" textLength="15.5" lengthAdjust="spacingAndGlyphs" fill="#1a1a1a" stroke="#1a1a1a" stroke-width="0.3">(c)</text>
<path d="M327.13,160.8V315.0 M334.58,160.8V315.0 M339.87,160.8V315.0 M343.97,160.8V315.0 M347.32,160.8V315.0 M350.15,160.8V315.0 M352.6,160.8V315.0 M354.76,160.8V315.0 M369.43,160.8V315.0 M376.88,160.8V315.0 M382.17,160.8V315.0 M386.27,160.8V315.0 M389.62,160.8V315.0 M392.45,160.8V315.0 M394.9,160.8V315.0 M397.06,160.8V315.0 M411.73,160.8V315.0 M419.18,160.8V315.0 M424.47,160.8V315.0 M428.57,160.8V315.0 M431.92,160.8V315.0 M434.75,160.8V315.0 M437.2,160.8V315.0 M439.36,160.8V315.0 M454.03,160.8V315.0 M461.48,160.8V315.0 M466.77,160.8V315.0 M470.87,160.8V315.0 M474.22,160.8V315.0 M477.05,160.8V315.0 M479.5,160.8V315.0 M481.66,160.8V315.0 M496.33,160.8V315.0 M503.78,160.8V315.0 M509.07,160.8V315.0 M513.17,160.8V315.0 M516.52,160.8V315.0 M314.4,307.26H517.7 M314.4,302.74H517.7 M314.4,299.53H517.7 M314.4,297.04H517.7 M314.4,295H517.7 M314.4,293.28H517.7 M314.4,291.79H517.7 M314.4,290.48H517.7 M314.4,281.56H517.7 M314.4,277.04H517.7 M314.4,273.83H517.7 M314.4,271.34H517.7 M314.4,269.3H517.7 M314.4,267.58H517.7 M314.4,266.09H517.7 M314.4,264.78H517.7 M314.4,255.86H517.7 M314.4,251.34H517.7 M314.4,248.13H517.7 M314.4,245.64H517.7 M314.4,243.6H517.7 M314.4,241.88H517.7 M314.4,240.39H517.7 M314.4,239.08H517.7 M314.4,230.16H517.7 M314.4,225.64H517.7 M314.4,222.43H517.7 M314.4,219.94H517.7 M314.4,217.9H517.7 M314.4,216.18H517.7 M314.4,214.69H517.7 M314.4,213.38H517.7 M314.4,204.46H517.7 M314.4,199.94H517.7 M314.4,196.73H517.7 M314.4,194.24H517.7 M314.4,192.2H517.7 M314.4,190.48H517.7 M314.4,188.99H517.7 M314.4,187.68H517.7 M314.4,178.76H517.7 M314.4,174.24H517.7 M314.4,171.03H517.7 M314.4,168.54H517.7 M314.4,166.5H517.7 M314.4,164.78H517.7 M314.4,163.29H517.7 M314.4,161.98H517.7" stroke="#eeeeee" stroke-width="0.8" stroke-dasharray="0.8 0.8" fill="none"/>
<path d="M356.7,160.8V315.0 M399,160.8V315.0 M441.3,160.8V315.0 M483.6,160.8V315.0 M314.4,289.3H517.7 M314.4,263.6H517.7 M314.4,237.9H517.7 M314.4,212.2H517.7 M314.4,186.5H517.7" stroke="#e6e6e6" stroke-width="0.9" fill="none"/>
<clipPath id="cc"><rect x="314.4" y="160.8" width="203.30000000000007" height="154.2"/></clipPath>
<polyline clip-path="url(#cc)" points="314.2,183.2 314.7,186.37 315.2,188.54 315.7,189.18 316.2,187.61 316.7,188.47 317.2,188.47 317.7,190.14 318.2,190.93 318.7,190.76 319.2,191.16 319.7,192.75 320.2,191.49 320.7,191.93 321.2,193.49 321.7,191.62 322.2,192.25 322.7,193.49 323.2,195.14 323.7,192.19 324.2,193.05 324.7,192.08 325.2,193.35 325.7,192.91 326.2,192.76 326.7,192.35 327.2,192.85 327.7,191.79 328.2,192.67 328.7,194.83 329.2,192.46 329.7,197.28 330.2,195.6 330.7,197.75 331.2,199.53 331.7,195.87 332.2,197.73 332.7,198.94 333.2,200.39 333.7,202.09 334.2,203.45 334.7,201.77 335.2,204.16 335.7,203.18 336.2,203.62 336.7,205.4 337.2,204.08 337.7,204.15 338.2,207.08 338.7,206.71 339.2,206.95 339.7,207.65 340.2,205.9 340.7,208.96 341.2,210.71 341.7,209.3 342.2,210.32 342.7,210.37 343.2,211.77 343.7,211.6 344.2,209.23 344.7,212.6 345.2,213.19 345.7,210.71 346.2,212.82 346.7,214.31 347.2,215.13 347.7,213.46 348.2,216.88 348.7,215.2 349.2,215.14 349.7,215.82 350.2,216.23 350.7,216.84 351.2,215.36 351.7,217.26 352.2,217.44 352.7,220.18 353.2,218.03 353.7,217.89 354.2,218.02 354.7,219.39 355.2,219.55 355.7,218.98 356.2,219.69 356.7,221.22 357.2,221.66 357.7,224.07 358.2,224.08 358.7,223.76 359.2,224.97 359.7,224.09 360.2,223.64 360.7,223.36 361.2,225.42 361.7,226.16 362.2,226.99 362.7,223.86 363.2,225.81 363.7,227.01 364.2,227.18 364.7,225.76 365.2,228.08 365.7,228.15 366.2,229.81 366.7,228.22 367.2,231.2 367.7,229.04 368.2,232.08 368.7,230.81 369.2,232.12 369.7,231.38 370.2,230.92 370.7,233.68 371.2,232.48 371.7,234.27 372.2,232.7 372.7,232.81 373.2,233.68 373.7,235.18 374.2,233.58 374.7,236.36 375.2,234.37 375.7,235.95 376.2,233.3 376.7,222.4 377.2,236.25 377.7,236.91 378.2,235.74 378.7,238.58 379.2,235.85 379.7,237.41 380.2,238.92 380.7,238.76 381.2,229.3 381.7,239.84 382.2,238.66 382.7,240.67 383.2,239.01 383.7,239.92 384.2,242.33 384.7,242.7 385.2,242.18 385.7,241.88 386.2,243.19 386.7,243.3 387.2,245.86 387.7,247.17 388.2,244.63 388.7,246.31 389.2,246.86 389.7,247.32 390.2,247.44 390.7,248.24 391.2,245.66 391.7,247.56 392.2,247.76 392.7,248.3 393.2,247.78 393.7,248.78 394.2,249.2 394.7,250.36 395.2,250.53 395.7,249.53 396.2,249.72 396.7,249.65 397.2,250.94 397.7,251.23 398.2,251.58 398.7,253.01 399.2,252.66 399.7,253.46 400.2,253.12 400.7,253.42 401.2,254.11 401.7,254.32 402.2,255.89 402.7,253.71 403.2,253.44 403.7,252.46 404.2,255.19 404.7,256.02 405.2,254.66 405.7,254.5 406.2,254.13 406.7,255.16 407.2,253.05 407.7,256.22 408.2,254.97 408.7,256.35 409.2,257.68 409.7,254.67 410.2,256.25 410.7,256.16 411.2,256.57 411.7,258.79 412.2,259.22 412.7,259.37 413.2,259.74 413.7,259.38 414.2,260.39 414.7,261.39 415.2,261.87 415.7,261.2 416.2,262.41 416.7,261.86 417.2,261.31 417.7,264.47 418.2,262.9 418.7,262.96 419.2,262.43 419.7,263.31 420.2,262.86 420.7,264.09 421.2,264.86 421.7,263.21 422.2,263.06 422.7,263.85 423.2,264.14 423.7,263.78 424.2,263.14 424.7,264.83 425.2,264.87 425.7,264.94 426.2,264.71 426.7,265.45 427.2,265.48 427.7,265.17 428.2,266.16 428.7,266.13 429.2,266.8 429.7,266.56 430.2,267.3 430.7,265.9 431.2,266.92 431.7,265.58 432.2,267.84 432.7,266.45 433.2,266.71 433.7,265.99 434.2,266.23 434.7,266.06 435.2,265.74 435.7,265.25 436.2,266.12 436.7,267.28 437.2,267.9 437.7,267.56 438.2,267.71 438.7,268.52 439.2,268.54 439.7,269.63 440.2,268.25 440.7,269 441.2,270.56 441.7,270.31 442.2,271.87 442.7,270 443.2,271.62 443.7,271.21 444.2,272.3 444.7,272.4 445.2,271.14 445.7,271.5 446.2,271.84 446.7,273.73 447.2,272.91 447.7,272.12 448.2,272.02 448.7,273.45 449.2,273.53 449.7,273.29 450.2,273.82 450.7,272.95 451.2,274.05 451.7,274.32 452.2,274.48 452.7,274.1 453.2,274.68 453.7,274.53 454.2,273.78 454.7,273.91 455.2,275.56 455.7,274.84 456.2,275.79 456.7,275.25 457.2,276 457.7,276.53 458.2,277.06 458.7,276.13 459.2,277.08 459.7,276.71 460.2,275.4 460.7,275.84 461.2,277.2 461.7,277.61 462.2,277.16 462.7,277.37 463.2,277.27 463.7,277.39 464.2,278.28 464.7,277.9 465.2,277.89 465.7,278.48 466.2,278.17 466.7,278.67 467.2,278.53 467.7,278.98 468.2,278.9 468.7,278.5 469.2,279.64 469.7,279.71 470.2,279.58 470.7,279.53 471.2,280.3 471.7,279.68 472.2,280.29 472.7,280.49 473.2,280.68 473.7,280.54 474.2,280.63 474.7,281.55 475.2,280.78 475.7,280.61 476.2,280.86 476.7,281.51 477.2,281.39 477.7,282.06 478.2,282.31 478.7,281.52 479.2,281.68 479.7,282.31 480.2,282.61 480.7,282.31 481.2,282.71 481.7,282.47 482.2,283.43 482.7,283.83 483.2,283.66 483.7,283.9 484.2,284.15 484.7,284.52 485.2,284.65 485.7,284.72 486.2,284.97 486.7,284.51 487.2,285.23 487.7,285.06 488.2,285.58 488.7,285.65 489.2,285.84 489.7,286.16 490.2,286.25 490.7,286.28 491.2,287.05 491.7,286.75 492.2,287 492.7,286.97 493.2,287.04 493.7,287.15 494.2,287.52 494.7,287.66 495.2,287.97 495.7,287.87 496.2,288.43 496.7,288.51 497.2,287.87 497.7,288.24 498.2,288.64 498.7,288.93 499.2,289.17 499.7,289.3 500.2,289.27 500.7,289.8 501.2,289.23 501.7,289.5 502.2,289.54 502.7,289.8 503.2,289.94 503.7,289.95 504.2,290.13 504.7,290.12 505.2,290.46 505.7,290.18 506.2,290.28 506.7,290.57 507.2,290.54 507.7,290.49 508.2,290.35 508.7,290.04 509.2,290.29 509.7,290.04 510.2,290.25 510.7,290.12 511.2,290.02 511.7,289.87 512.2,290.05 512.7,289.82 513.2,289.53 513.7,289.88 514.2,289.92 514.7,289.65 515.2,289.44 515.7,289.14 516.2,289.1 516.7,289.15 517.2,289.05 517.7,288.82" stroke="#0072BD" stroke-width="2.3" fill="none" stroke-linejoin="round"/>
<path clip-path="url(#cc)" d="M310.4,289.5H496" stroke="#000" stroke-width="2.7" stroke-dasharray="9.8 7.7" fill="none"/>
<text x="322.4" y="282.7" font-size="10.2" letter-spacing="0.55" fill="#1a1a1a" stroke="#1a1a1a" stroke-width="0.15">1100 Hz<tspan font-size="7" dy="-4">2</tspan><tspan dy="4">/Hz</tspan></text>
<path d="M314.4,315.0v-3M314.4,160.8v3 M327.13,315.0v-1.8M327.13,160.8v1.8 M334.58,315.0v-1.8M334.58,160.8v1.8 M339.87,315.0v-1.8M339.87,160.8v1.8 M343.97,315.0v-1.8M343.97,160.8v1.8 M347.32,315.0v-1.8M347.32,160.8v1.8 M350.15,315.0v-1.8M350.15,160.8v1.8 M352.6,315.0v-1.8M352.6,160.8v1.8 M354.76,315.0v-1.8M354.76,160.8v1.8 M356.7,315.0v-3M356.7,160.8v3 M369.43,315.0v-1.8M369.43,160.8v1.8 M376.88,315.0v-1.8M376.88,160.8v1.8 M382.17,315.0v-1.8M382.17,160.8v1.8 M386.27,315.0v-1.8M386.27,160.8v1.8 M389.62,315.0v-1.8M389.62,160.8v1.8 M392.45,315.0v-1.8M392.45,160.8v1.8 M394.9,315.0v-1.8M394.9,160.8v1.8 M397.06,315.0v-1.8M397.06,160.8v1.8 M399,315.0v-3M399,160.8v3 M411.73,315.0v-1.8M411.73,160.8v1.8 M419.18,315.0v-1.8M419.18,160.8v1.8 M424.47,315.0v-1.8M424.47,160.8v1.8 M428.57,315.0v-1.8M428.57,160.8v1.8 M431.92,315.0v-1.8M431.92,160.8v1.8 M434.75,315.0v-1.8M434.75,160.8v1.8 M437.2,315.0v-1.8M437.2,160.8v1.8 M439.36,315.0v-1.8M439.36,160.8v1.8 M441.3,315.0v-3M441.3,160.8v3 M454.03,315.0v-1.8M454.03,160.8v1.8 M461.48,315.0v-1.8M461.48,160.8v1.8 M466.77,315.0v-1.8M466.77,160.8v1.8 M470.87,315.0v-1.8M470.87,160.8v1.8 M474.22,315.0v-1.8M474.22,160.8v1.8 M477.05,315.0v-1.8M477.05,160.8v1.8 M479.5,315.0v-1.8M479.5,160.8v1.8 M481.66,315.0v-1.8M481.66,160.8v1.8 M483.6,315.0v-3M483.6,160.8v3 M496.33,315.0v-1.8M496.33,160.8v1.8 M503.78,315.0v-1.8M503.78,160.8v1.8 M509.07,315.0v-1.8M509.07,160.8v1.8 M513.17,315.0v-1.8M513.17,160.8v1.8 M516.52,315.0v-1.8M516.52,160.8v1.8 M314.4,315h3M517.7,315h-3 M314.4,307.26h1.8M517.7,307.26h-1.8 M314.4,302.74h1.8M517.7,302.74h-1.8 M314.4,299.53h1.8M517.7,299.53h-1.8 M314.4,297.04h1.8M517.7,297.04h-1.8 M314.4,295h1.8M517.7,295h-1.8 M314.4,293.28h1.8M517.7,293.28h-1.8 M314.4,291.79h1.8M517.7,291.79h-1.8 M314.4,290.48h1.8M517.7,290.48h-1.8 M314.4,289.3h3M517.7,289.3h-3 M314.4,281.56h1.8M517.7,281.56h-1.8 M314.4,277.04h1.8M517.7,277.04h-1.8 M314.4,273.83h1.8M517.7,273.83h-1.8 M314.4,271.34h1.8M517.7,271.34h-1.8 M314.4,269.3h1.8M517.7,269.3h-1.8 M314.4,267.58h1.8M517.7,267.58h-1.8 M314.4,266.09h1.8M517.7,266.09h-1.8 M314.4,264.78h1.8M517.7,264.78h-1.8 M314.4,263.6h3M517.7,263.6h-3 M314.4,255.86h1.8M517.7,255.86h-1.8 M314.4,251.34h1.8M517.7,251.34h-1.8 M314.4,248.13h1.8M517.7,248.13h-1.8 M314.4,245.64h1.8M517.7,245.64h-1.8 M314.4,243.6h1.8M517.7,243.6h-1.8 M314.4,241.88h1.8M517.7,241.88h-1.8 M314.4,240.39h1.8M517.7,240.39h-1.8 M314.4,239.08h1.8M517.7,239.08h-1.8 M314.4,237.9h3M517.7,237.9h-3 M314.4,230.16h1.8M517.7,230.16h-1.8 M314.4,225.64h1.8M517.7,225.64h-1.8 M314.4,222.43h1.8M517.7,222.43h-1.8 M314.4,219.94h1.8M517.7,219.94h-1.8 M314.4,217.9h1.8M517.7,217.9h-1.8 M314.4,216.18h1.8M517.7,216.18h-1.8 M314.4,214.69h1.8M517.7,214.69h-1.8 M314.4,213.38h1.8M517.7,213.38h-1.8 M314.4,212.2h3M517.7,212.2h-3 M314.4,204.46h1.8M517.7,204.46h-1.8 M314.4,199.94h1.8M517.7,199.94h-1.8 M314.4,196.73h1.8M517.7,196.73h-1.8 M314.4,194.24h1.8M517.7,194.24h-1.8 M314.4,192.2h1.8M517.7,192.2h-1.8 M314.4,190.48h1.8M517.7,190.48h-1.8 M314.4,188.99h1.8M517.7,188.99h-1.8 M314.4,187.68h1.8M517.7,187.68h-1.8 M314.4,186.5h3M517.7,186.5h-3 M314.4,178.76h1.8M517.7,178.76h-1.8 M314.4,174.24h1.8M517.7,174.24h-1.8 M314.4,171.03h1.8M517.7,171.03h-1.8 M314.4,168.54h1.8M517.7,168.54h-1.8 M314.4,166.5h1.8M517.7,166.5h-1.8 M314.4,164.78h1.8M517.7,164.78h-1.8 M314.4,163.29h1.8M517.7,163.29h-1.8 M314.4,161.98h1.8M517.7,161.98h-1.8" stroke="#8a8a8a" stroke-width="0.8" fill="none"/>
<rect x="314.4" y="160.8" width="203.30000000000007" height="154.2" stroke="#8a8a8a" stroke-width="1" fill="none"/>
<g font-size="10.5" fill="#262626" stroke="#262626" stroke-width="0.22">
<text x="296.3" y="321" text-anchor="start">10<tspan font-size="7.3" dy="-4.4">2</tspan></text>
<text x="296.3" y="295.3" text-anchor="start">10<tspan font-size="7.3" dy="-4.4">3</tspan></text>
<text x="296.3" y="269.6" text-anchor="start">10<tspan font-size="7.3" dy="-4.4">4</tspan></text>
<text x="296.3" y="243.9" text-anchor="start">10<tspan font-size="7.3" dy="-4.4">5</tspan></text>
<text x="296.3" y="218.2" text-anchor="start">10<tspan font-size="7.3" dy="-4.4">6</tspan></text>
<text x="296.3" y="192.5" text-anchor="start">10<tspan font-size="7.3" dy="-4.4">7</tspan></text>
<text x="306.6" y="331.3">10<tspan font-size="7.3" dy="-4.4">3</tspan></text>
<text x="348.9" y="331.3">10<tspan font-size="7.3" dy="-4.4">4</tspan></text>
<text x="391.2" y="331.3">10<tspan font-size="7.3" dy="-4.4">5</tspan></text>
<text x="433.5" y="331.3">10<tspan font-size="7.3" dy="-4.4">6</tspan></text>
<text x="475.8" y="331.3">10<tspan font-size="7.3" dy="-4.4">7</tspan></text>
</g>
<text x="418.9" y="344.2" font-size="10.4" fill="#262626" text-anchor="middle" stroke="#262626" stroke-width="0.22">Frequency (Hz)</text>
<text transform="translate(292.8,237.7) rotate(-90)" font-size="10.85" fill="#262626" text-anchor="middle" stroke="#262626" stroke-width="0.22">Frequency Noise (Hz<tspan font-size="7" dy="-4">2</tspan><tspan dy="4">/Hz)</tspan></text></svg>
</body></html>
